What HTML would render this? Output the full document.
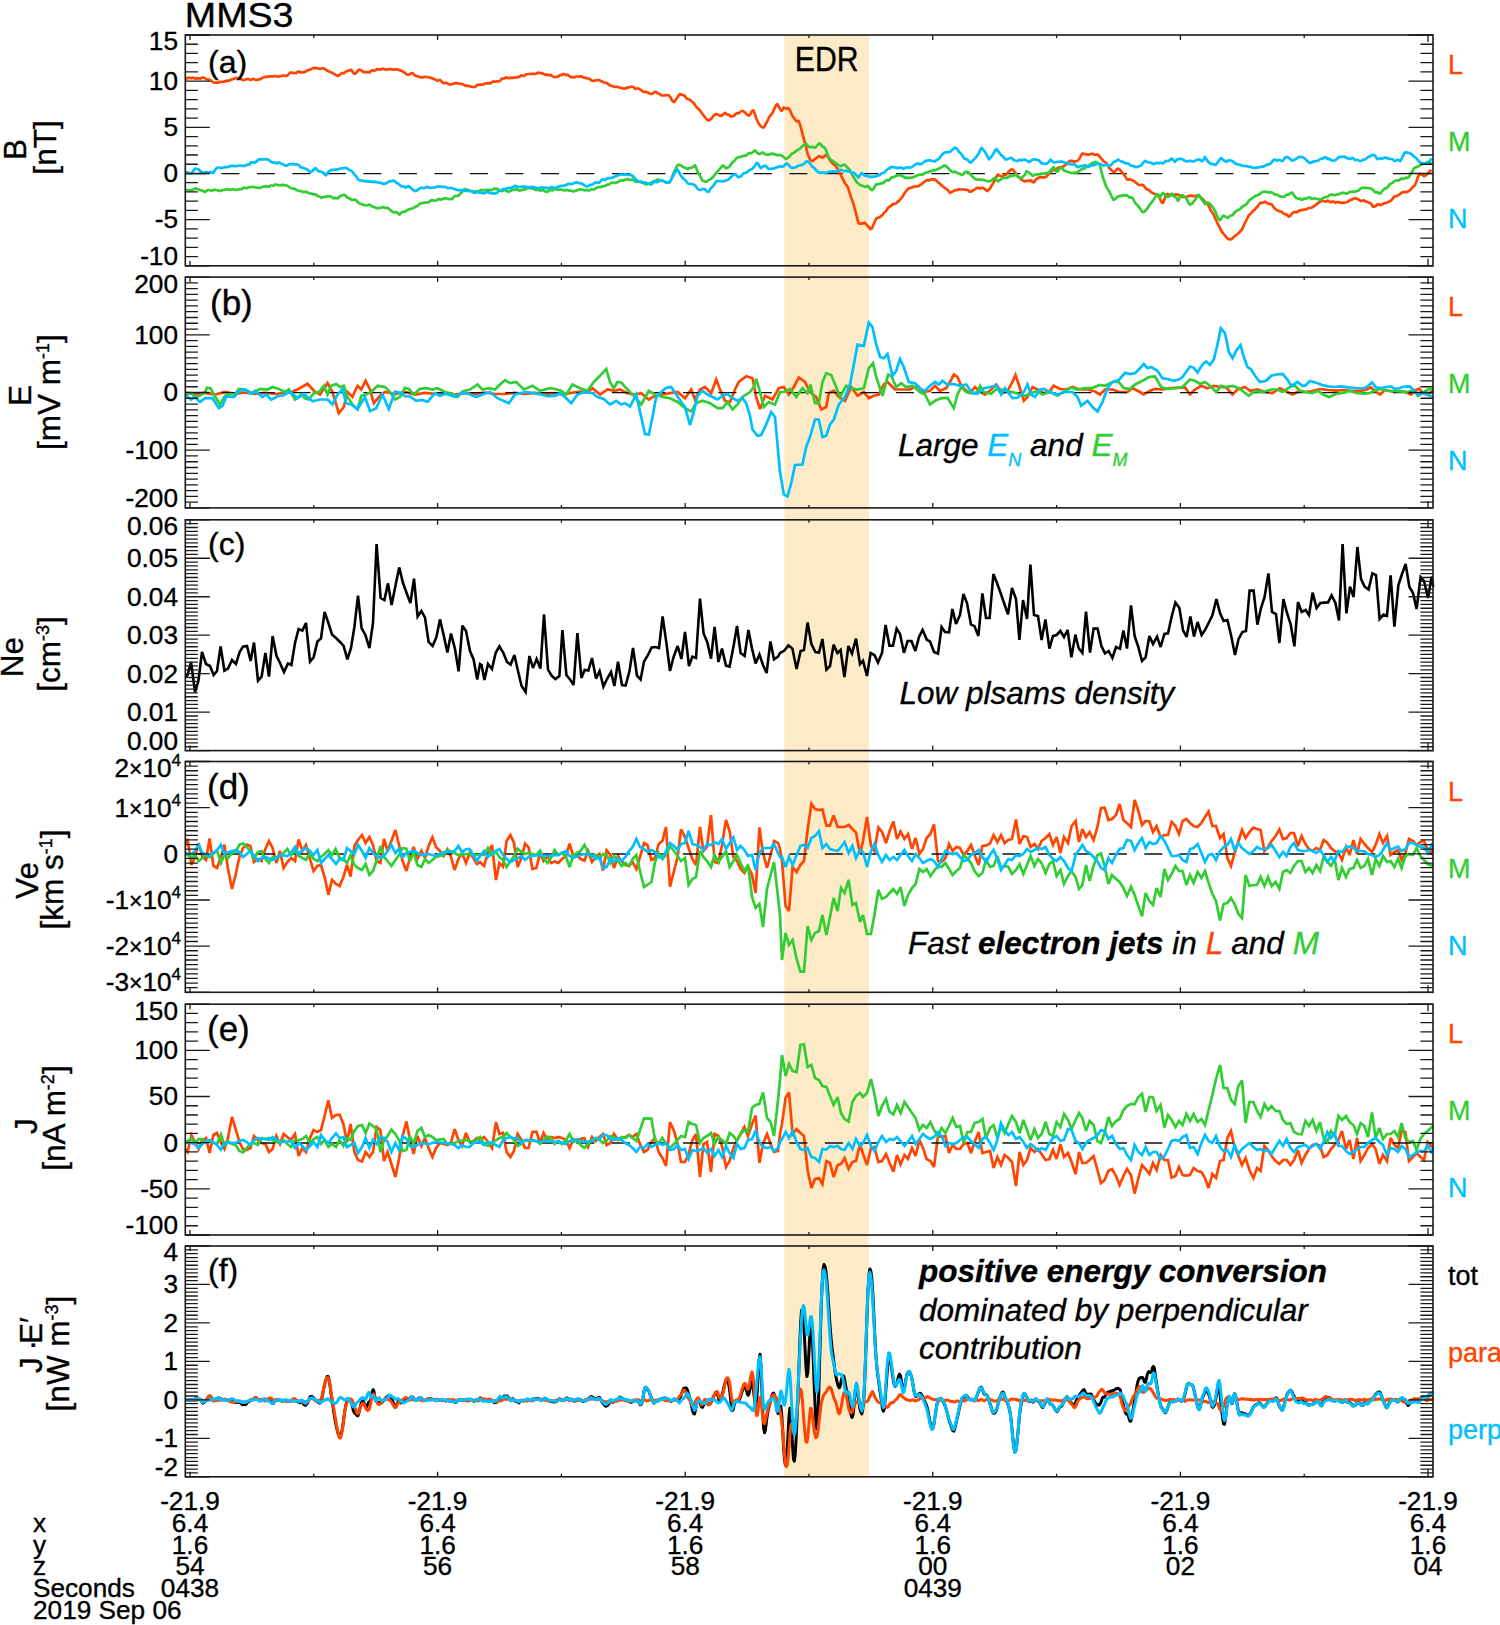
<!DOCTYPE html><html><head><meta charset="utf-8"><title>MMS3</title>
<style>html,body{margin:0;padding:0;background:#fff}svg{display:block}text{font-family:"Liberation Sans",Arial,Helvetica,sans-serif;fill:currentColor;stroke:currentColor;stroke-width:.35px;color:#000}</style></head><body>
<svg width="1500" height="1625" viewBox="0 0 1500 1625">
<rect x="0" y="0" width="1500" height="1625" fill="#fff"/>
<rect x="784.3" y="35.0" width="84.6" height="1441.8" fill="#fdebc8"/>
<defs>
<clipPath id="cp0"><rect x="184.8" y="34.5" width="1249.7" height="231.8"/></clipPath>
<clipPath id="cp1"><rect x="184.8" y="276.6" width="1249.7" height="231.8"/></clipPath>
<clipPath id="cp2"><rect x="184.8" y="519.3" width="1249.7" height="231.8"/></clipPath>
<clipPath id="cp3"><rect x="184.8" y="761.0" width="1249.7" height="231.8"/></clipPath>
<clipPath id="cp4"><rect x="184.8" y="1003.7" width="1249.7" height="231.8"/></clipPath>
<clipPath id="cp5"><rect x="184.8" y="1245.5" width="1249.7" height="231.8"/></clipPath>
</defs>
<line x1="185.9" y1="173.6" x2="1433.0" y2="173.6" stroke="#111" stroke-width="1.3" stroke-dasharray="18 17.5"/>
<polyline clip-path="url(#cp0)" fill="none" stroke="#ff4500" stroke-width="2.7" stroke-linejoin="round" stroke-miterlimit="3" points="185.0,78.8 186.5,78.6 188.0,77.8 189.5,77.7 191.0,78.2 192.5,77.7 194.0,78.1 195.5,78.6 197.0,78.1 198.5,78.3 200.0,78.7 201.5,78.0 203.0,77.4 204.5,78.0 206.0,79.0 207.5,79.4 209.0,79.7 210.5,80.5 212.0,81.3 213.5,82.5 215.0,82.8 216.5,82.5 218.0,82.7 219.5,81.9 221.0,81.9 222.5,81.8 224.0,81.6 225.5,81.1 227.0,80.7 228.5,80.8 230.0,80.2 231.5,79.5 233.0,79.1 234.5,78.5 236.0,78.1 237.5,78.0 239.0,78.1 240.5,78.4 242.0,79.7 243.5,80.1 245.0,79.7 246.5,79.1 248.0,78.8 249.5,79.7 251.0,79.9 252.5,79.0 254.0,79.0 255.5,80.0 257.0,79.9 258.5,79.3 260.0,79.3 261.5,78.5 263.0,77.5 264.5,77.0 266.0,76.9 267.5,76.7 269.0,76.6 270.5,76.4 272.0,76.3 273.5,76.3 275.0,76.0 276.5,76.3 278.0,76.8 279.5,76.3 281.0,76.1 282.5,75.7 284.0,75.6 285.5,75.8 287.0,75.7 288.5,74.3 290.0,72.6 291.5,72.6 293.0,72.8 294.5,73.2 296.0,73.1 297.5,71.9 299.0,71.5 300.5,72.4 302.0,72.4 303.5,72.3 305.0,71.9 306.5,70.9 308.0,70.3 309.5,69.9 311.0,69.2 312.5,68.4 314.0,68.0 315.5,68.1 317.0,68.3 318.5,68.5 320.0,68.9 321.5,68.5 323.0,68.2 324.5,68.7 326.0,69.8 327.5,70.8 329.0,71.4 330.5,72.1 332.0,72.7 333.5,73.7 335.0,74.4 336.5,75.3 338.0,75.9 339.5,75.0 341.0,73.8 342.5,73.0 344.0,73.1 345.5,72.0 347.0,71.0 348.5,70.8 350.0,69.9 351.5,69.9 353.0,72.5 354.5,73.9 356.0,73.1 357.5,71.2 359.0,69.6 360.5,70.0 362.0,70.9 363.5,72.1 365.0,72.2 366.5,72.1 368.0,72.1 369.5,72.5 371.0,70.9 372.5,70.1 374.0,70.9 375.5,70.2 377.0,69.2 378.5,69.3 380.0,69.6 381.5,69.1 383.0,68.7 384.5,69.1 386.0,69.8 387.5,69.3 389.0,69.2 390.5,69.1 392.0,69.2 393.5,69.7 395.0,69.4 396.5,69.3 398.0,69.7 399.5,70.1 401.0,70.6 402.5,71.4 404.0,72.2 405.5,73.4 407.0,74.5 408.5,74.7 410.0,74.3 411.5,73.0 413.0,73.3 414.5,75.3 416.0,76.0 417.5,76.1 419.0,76.8 420.5,77.4 422.0,77.5 423.5,77.1 425.0,76.9 426.5,77.0 428.0,77.2 429.5,77.5 431.0,77.9 432.5,78.4 434.0,79.1 435.5,79.7 437.0,80.6 438.5,80.4 440.0,79.9 441.5,81.4 443.0,83.0 444.5,83.1 446.0,82.8 447.5,83.3 449.0,84.3 450.5,84.6 452.0,84.1 453.5,83.9 455.0,83.1 456.5,83.1 458.0,83.5 459.5,83.7 461.0,83.9 462.5,84.0 464.0,85.0 465.5,85.8 467.0,85.9 468.5,85.9 470.0,86.3 471.5,86.6 473.0,87.0 474.5,87.1 476.0,86.3 477.5,84.9 479.0,84.5 480.5,84.8 482.0,84.5 483.5,84.3 485.0,83.5 486.5,83.3 488.0,83.1 489.5,83.4 491.0,83.1 492.5,81.7 494.0,81.4 495.5,81.7 497.0,81.4 498.5,81.5 500.0,81.0 501.5,78.9 503.0,78.6 504.5,78.4 506.0,77.4 507.5,77.8 509.0,78.3 510.5,77.7 512.0,77.9 513.5,77.8 515.0,77.6 516.5,77.4 518.0,77.1 519.5,76.7 521.0,75.4 522.5,75.9 524.0,75.9 525.5,74.6 527.0,74.3 528.5,74.0 530.0,74.0 531.5,73.9 533.0,73.7 534.5,74.0 536.0,73.7 537.5,72.9 539.0,72.7 540.5,73.2 542.0,73.2 543.5,74.0 545.0,74.6 546.5,74.6 548.0,75.1 549.5,75.1 551.0,75.2 552.5,76.3 554.0,77.2 555.5,76.9 557.0,77.0 558.5,76.3 560.0,75.2 561.5,75.2 563.0,74.0 564.5,74.4 566.0,75.1 567.5,74.6 569.0,75.8 570.5,77.0 572.0,77.1 573.5,77.3 575.0,77.1 576.5,76.5 578.0,76.5 579.5,76.7 581.0,76.2 582.5,77.1 584.0,77.7 585.5,77.9 587.0,78.4 588.5,78.5 590.0,79.2 591.5,80.5 593.0,80.9 594.5,80.8 596.0,80.4 597.5,80.0 599.0,80.0 600.5,80.9 602.0,81.5 603.5,82.2 605.0,82.7 606.5,82.8 608.0,83.9 609.5,85.1 611.0,85.8 612.5,86.3 614.0,86.6 615.5,86.9 617.0,86.8 618.5,87.1 620.0,87.7 621.5,88.0 623.0,88.5 624.5,88.6 626.0,88.1 627.5,87.6 629.0,87.2 630.5,87.0 632.0,86.5 633.5,87.1 635.0,88.8 636.5,88.7 638.0,88.3 639.5,89.2 641.0,89.9 642.5,91.3 644.0,91.9 645.5,91.6 647.0,92.3 648.5,92.8 650.0,93.5 651.5,94.1 653.0,93.3 654.5,92.1 656.0,91.7 657.5,93.2 659.0,93.7 660.5,94.7 662.0,95.5 663.5,95.5 665.0,95.4 666.5,95.1 668.0,95.0 669.5,95.9 671.0,98.3 672.5,101.2 674.0,102.2 675.5,100.1 677.0,98.0 678.5,95.8 680.0,93.8 681.5,94.7 683.0,95.1 684.5,95.6 686.0,97.7 687.5,99.0 689.0,99.3 690.5,100.3 692.0,101.7 693.5,102.9 695.0,104.9 696.5,107.3 698.0,108.4 699.5,109.8 701.0,112.0 702.5,114.0 704.0,116.0 705.5,117.9 707.0,119.6 708.5,120.7 710.0,119.7 711.5,118.6 713.0,116.4 714.5,114.6 716.0,114.2 717.5,114.3 719.0,115.2 720.5,115.9 722.0,115.4 723.5,114.1 725.0,112.8 726.5,114.2 728.0,114.6 729.5,115.2 731.0,116.7 732.5,116.3 734.0,115.9 735.5,113.9 737.0,113.2 738.5,113.4 740.0,112.2 741.5,111.0 743.0,111.0 744.5,112.1 746.0,113.5 747.5,114.9 749.0,115.7 750.5,113.9 752.0,111.2 753.5,110.4 755.0,114.7 756.5,118.8 758.0,122.3 759.5,124.7 761.0,126.4 762.5,127.4 764.0,127.4 765.5,124.7 767.0,121.6 768.5,118.7 770.0,116.0 771.5,114.3 773.0,111.9 774.5,108.4 776.0,105.1 777.5,104.2 779.0,107.0 780.5,110.1 782.0,110.6 783.5,107.6 785.0,108.2 786.5,108.8 788.0,107.9 789.5,109.4 791.0,112.8 792.5,116.1 794.0,118.0 795.5,120.2 797.0,121.6 798.5,120.8 800.0,124.5 801.5,129.8 803.0,135.8 804.5,141.1 806.0,146.6 807.5,153.5 809.0,157.1 810.5,160.3 812.0,161.2 813.5,160.5 815.0,158.8 816.5,158.1 818.0,156.7 819.5,156.1 821.0,157.1 822.5,157.6 824.0,156.6 825.5,155.2 827.0,155.7 828.5,157.7 830.0,160.3 831.5,162.3 833.0,163.7 834.5,164.8 836.0,166.4 837.5,168.9 839.0,171.3 840.5,174.4 842.0,177.3 843.5,180.4 845.0,183.3 846.5,185.1 848.0,187.5 849.5,192.3 851.0,197.1 852.5,201.3 854.0,205.8 855.5,211.6 857.0,217.4 858.5,223.2 860.0,223.8 861.5,223.4 863.0,223.5 864.5,222.6 866.0,224.0 867.5,225.9 869.0,227.1 870.5,229.2 872.0,228.3 873.5,224.5 875.0,221.2 876.5,218.1 878.0,217.7 879.5,217.4 881.0,216.1 882.5,214.9 884.0,213.0 885.5,211.6 887.0,209.6 888.5,207.4 890.0,206.4 891.5,205.5 893.0,204.1 894.5,204.0 896.0,203.4 897.5,201.9 899.0,200.8 900.5,199.2 902.0,197.4 903.5,195.0 905.0,192.4 906.5,190.8 908.0,188.8 909.5,188.0 911.0,187.9 912.5,187.2 914.0,186.5 915.5,186.3 917.0,186.3 918.5,186.2 920.0,184.9 921.5,184.2 923.0,182.9 924.5,181.7 926.0,180.7 927.5,180.0 929.0,180.5 930.5,179.8 932.0,179.1 933.5,179.8 935.0,179.4 936.5,180.7 938.0,182.2 939.5,183.4 941.0,184.8 942.5,186.2 944.0,187.3 945.5,188.4 947.0,189.5 948.5,190.8 950.0,192.8 951.5,192.3 953.0,191.3 954.5,190.4 956.0,190.2 957.5,190.0 959.0,189.2 960.5,189.4 962.0,189.5 963.5,189.5 965.0,189.7 966.5,189.8 968.0,190.1 969.5,191.7 971.0,191.7 972.5,190.6 974.0,190.0 975.5,188.8 977.0,187.9 978.5,187.8 980.0,188.4 981.5,188.0 983.0,187.7 984.5,188.9 986.0,190.1 987.5,191.0 989.0,189.5 990.5,187.6 992.0,184.9 993.5,182.5 995.0,180.0 996.5,176.6 998.0,174.4 999.5,175.8 1001.0,176.3 1002.5,176.1 1004.0,175.3 1005.5,174.8 1007.0,173.9 1008.5,171.9 1010.0,170.4 1011.5,169.3 1013.0,169.8 1014.5,171.9 1016.0,173.6 1017.5,175.9 1019.0,177.3 1020.5,178.8 1022.0,179.9 1023.5,180.8 1025.0,181.4 1026.5,180.8 1028.0,180.6 1029.5,180.9 1031.0,180.4 1032.5,182.1 1034.0,182.1 1035.5,180.0 1037.0,178.5 1038.5,177.8 1040.0,177.4 1041.5,177.3 1043.0,177.3 1044.5,177.4 1046.0,177.0 1047.5,175.2 1049.0,173.8 1050.5,172.1 1052.0,170.4 1053.5,170.1 1055.0,170.0 1056.5,169.1 1058.0,167.9 1059.5,167.3 1061.0,167.4 1062.5,166.7 1064.0,166.1 1065.5,165.0 1067.0,163.6 1068.5,162.1 1070.0,160.9 1071.5,160.9 1073.0,161.1 1074.5,161.6 1076.0,161.3 1077.5,161.0 1079.0,159.0 1080.5,156.6 1082.0,153.9 1083.5,153.7 1085.0,154.1 1086.5,154.4 1088.0,154.8 1089.5,154.3 1091.0,154.0 1092.5,153.8 1094.0,154.6 1095.5,154.8 1097.0,154.4 1098.5,155.0 1100.0,157.1 1101.5,158.8 1103.0,160.7 1104.5,161.9 1106.0,162.8 1107.5,164.6 1109.0,167.6 1110.5,169.3 1112.0,170.7 1113.5,172.3 1115.0,171.4 1116.5,169.7 1118.0,168.7 1119.5,169.5 1121.0,171.0 1122.5,172.8 1124.0,174.5 1125.5,176.9 1127.0,179.4 1128.5,179.7 1130.0,179.1 1131.5,179.9 1133.0,180.6 1134.5,181.5 1136.0,182.7 1137.5,184.1 1139.0,185.0 1140.5,185.0 1142.0,184.9 1143.5,185.4 1145.0,187.3 1146.5,189.1 1148.0,189.6 1149.5,190.7 1151.0,191.9 1152.5,193.0 1154.0,193.8 1155.5,194.1 1157.0,195.1 1158.5,195.9 1160.0,199.0 1161.5,202.2 1163.0,202.9 1164.5,199.2 1166.0,194.7 1167.5,193.9 1169.0,194.7 1170.5,195.2 1172.0,195.0 1173.5,194.7 1175.0,194.8 1176.5,194.4 1178.0,194.5 1179.5,195.6 1181.0,196.4 1182.5,197.1 1184.0,196.6 1185.5,197.1 1187.0,196.7 1188.5,196.1 1190.0,195.7 1191.5,195.5 1193.0,196.2 1194.5,196.3 1196.0,195.7 1197.5,195.4 1199.0,196.0 1200.5,197.2 1202.0,198.5 1203.5,200.0 1205.0,201.8 1206.5,203.1 1208.0,204.3 1209.5,207.4 1211.0,211.1 1212.5,212.7 1214.0,215.2 1215.5,218.9 1217.0,222.2 1218.5,225.4 1220.0,228.2 1221.5,231.2 1223.0,233.1 1224.5,235.0 1226.0,236.9 1227.5,238.6 1229.0,239.1 1230.5,239.5 1232.0,238.8 1233.5,237.2 1235.0,235.8 1236.5,234.9 1238.0,233.7 1239.5,232.2 1241.0,230.6 1242.5,228.6 1244.0,224.9 1245.5,222.0 1247.0,219.0 1248.5,215.8 1250.0,214.3 1251.5,212.5 1253.0,211.0 1254.5,209.9 1256.0,208.0 1257.5,206.5 1259.0,204.3 1260.5,202.7 1262.0,202.9 1263.5,202.5 1265.0,201.7 1266.5,202.6 1268.0,203.6 1269.5,203.8 1271.0,204.0 1272.5,205.5 1274.0,207.7 1275.5,209.2 1277.0,210.1 1278.5,210.8 1280.0,211.5 1281.5,211.6 1283.0,213.1 1284.5,214.1 1286.0,214.1 1287.5,215.4 1289.0,216.6 1290.5,215.7 1292.0,213.5 1293.5,212.2 1295.0,212.1 1296.5,212.4 1298.0,211.3 1299.5,210.3 1301.0,210.3 1302.5,209.9 1304.0,209.7 1305.5,209.5 1307.0,208.9 1308.5,208.1 1310.0,208.0 1311.5,207.7 1313.0,206.9 1314.5,205.8 1316.0,204.7 1317.5,203.7 1319.0,202.2 1320.5,201.3 1322.0,200.7 1323.5,201.0 1325.0,201.6 1326.5,201.4 1328.0,200.5 1329.5,201.6 1331.0,202.4 1332.5,201.5 1334.0,201.7 1335.5,202.8 1337.0,202.1 1338.5,202.0 1340.0,202.6 1341.5,202.8 1343.0,202.9 1344.5,202.5 1346.0,202.3 1347.5,202.0 1349.0,200.8 1350.5,199.8 1352.0,199.6 1353.5,198.6 1355.0,197.9 1356.5,198.8 1358.0,199.0 1359.5,200.1 1361.0,201.2 1362.5,200.8 1364.0,200.4 1365.5,201.4 1367.0,201.8 1368.5,202.4 1370.0,203.0 1371.5,204.3 1373.0,206.7 1374.5,206.6 1376.0,205.8 1377.5,204.3 1379.0,204.3 1380.5,205.0 1382.0,204.5 1383.5,203.8 1385.0,203.1 1386.5,202.9 1388.0,202.0 1389.5,201.5 1391.0,200.7 1392.5,198.9 1394.0,196.8 1395.5,196.2 1397.0,195.9 1398.5,195.1 1400.0,194.2 1401.5,192.6 1403.0,192.3 1404.5,191.9 1406.0,192.1 1407.5,191.9 1409.0,190.9 1410.5,189.8 1412.0,187.8 1413.5,186.4 1415.0,185.1 1416.5,181.3 1418.0,177.0 1419.5,173.9 1421.0,174.2 1422.5,175.0 1424.0,176.2 1425.5,175.5 1427.0,174.4 1428.5,172.8 1430.0,171.0 1431.5,169.7"/>
<polyline clip-path="url(#cp0)" fill="none" stroke="#32cd32" stroke-width="2.7" stroke-linejoin="round" stroke-miterlimit="3" points="185.0,190.0 186.5,190.0 188.0,190.0 189.5,190.3 191.0,190.2 192.5,189.9 194.0,189.2 195.5,188.4 197.0,188.7 198.5,189.6 200.0,190.2 201.5,190.3 203.0,190.9 204.5,192.0 206.0,191.3 207.5,190.0 209.0,190.0 210.5,190.5 212.0,190.6 213.5,190.0 215.0,189.7 216.5,190.2 218.0,190.4 219.5,190.8 221.0,190.8 222.5,190.0 224.0,189.9 225.5,189.7 227.0,189.2 228.5,189.4 230.0,190.0 231.5,189.5 233.0,189.2 234.5,189.6 236.0,190.0 237.5,189.7 239.0,189.4 240.5,189.1 242.0,188.9 243.5,187.9 245.0,187.7 246.5,188.4 248.0,187.5 249.5,187.0 251.0,187.3 252.5,187.0 254.0,186.9 255.5,187.5 257.0,187.7 258.5,187.9 260.0,187.9 261.5,187.3 263.0,186.7 264.5,186.3 266.0,186.2 267.5,186.6 269.0,186.6 270.5,185.5 272.0,185.5 273.5,185.8 275.0,184.5 276.5,184.7 278.0,185.2 279.5,185.2 281.0,185.4 282.5,184.7 284.0,185.2 285.5,185.3 287.0,185.5 288.5,186.7 290.0,187.6 291.5,188.3 293.0,188.6 294.5,188.6 296.0,189.8 297.5,190.5 299.0,190.8 300.5,191.2 302.0,191.3 303.5,192.2 305.0,191.8 306.5,191.9 308.0,192.9 309.5,193.4 311.0,193.5 312.5,193.9 314.0,194.4 315.5,194.4 317.0,195.5 318.5,196.2 320.0,196.9 321.5,197.8 323.0,197.3 324.5,196.8 326.0,196.8 327.5,196.3 329.0,196.3 330.5,196.4 332.0,197.3 333.5,198.3 335.0,197.9 336.5,198.1 338.0,198.3 339.5,196.5 341.0,195.7 342.5,195.4 344.0,194.7 345.5,195.7 347.0,197.2 348.5,198.1 350.0,198.6 351.5,199.8 353.0,200.0 354.5,199.4 356.0,200.1 357.5,201.8 359.0,203.3 360.5,203.7 362.0,204.2 363.5,205.0 365.0,205.2 366.5,205.5 368.0,205.0 369.5,204.5 371.0,205.6 372.5,206.5 374.0,206.9 375.5,207.8 377.0,208.2 378.5,208.2 380.0,208.1 381.5,207.4 383.0,207.1 384.5,207.6 386.0,208.0 387.5,207.7 389.0,209.1 390.5,210.2 392.0,211.3 393.5,212.3 395.0,212.4 396.5,212.1 398.0,213.4 399.5,214.7 401.0,212.9 402.5,211.7 404.0,212.0 405.5,211.2 407.0,210.4 408.5,209.5 410.0,208.9 411.5,208.8 413.0,208.2 414.5,207.3 416.0,206.5 417.5,205.9 419.0,204.6 420.5,203.3 422.0,203.2 423.5,202.9 425.0,202.6 426.5,202.5 428.0,202.5 429.5,201.8 431.0,200.3 432.5,200.1 434.0,200.8 435.5,200.5 437.0,200.1 438.5,199.1 440.0,199.2 441.5,199.7 443.0,198.8 444.5,198.4 446.0,198.4 447.5,198.8 449.0,199.1 450.5,199.2 452.0,199.1 453.5,197.4 455.0,195.8 456.5,195.8 458.0,195.9 459.5,194.5 461.0,193.1 462.5,191.5 464.0,189.5 465.5,189.0 467.0,189.9 468.5,190.4 470.0,190.7 471.5,191.0 473.0,191.2 474.5,191.7 476.0,191.4 477.5,191.4 479.0,191.1 480.5,190.0 482.0,190.2 483.5,190.1 485.0,190.2 486.5,189.9 488.0,189.8 489.5,189.9 491.0,190.2 492.5,189.8 494.0,188.6 495.5,188.9 497.0,188.7 498.5,189.4 500.0,190.8 501.5,191.1 503.0,190.7 504.5,190.0 506.0,190.6 507.5,191.5 509.0,191.7 510.5,190.8 512.0,189.8 513.5,189.9 515.0,189.4 516.5,189.2 518.0,190.0 519.5,190.6 521.0,190.1 522.5,189.9 524.0,189.7 525.5,188.9 527.0,188.5 528.5,188.2 530.0,188.0 531.5,188.3 533.0,188.7 534.5,189.3 536.0,190.0 537.5,189.9 539.0,190.3 540.5,190.8 542.0,190.0 543.5,190.2 545.0,191.3 546.5,191.8 548.0,191.6 549.5,190.2 551.0,189.9 552.5,190.4 554.0,189.1 555.5,188.9 557.0,189.8 558.5,189.6 560.0,189.6 561.5,189.6 563.0,190.2 564.5,190.3 566.0,189.9 567.5,190.3 569.0,190.7 570.5,190.4 572.0,191.0 573.5,191.6 575.0,190.9 576.5,190.6 578.0,190.0 579.5,189.4 581.0,189.4 582.5,189.7 584.0,190.1 585.5,190.3 587.0,189.9 588.5,190.5 590.0,190.2 591.5,189.0 593.0,189.5 594.5,189.3 596.0,188.0 597.5,187.4 599.0,187.2 600.5,187.1 602.0,186.6 603.5,186.1 605.0,186.0 606.5,185.1 608.0,184.5 609.5,184.3 611.0,183.0 612.5,182.5 614.0,182.8 615.5,182.9 617.0,182.4 618.5,181.7 620.0,180.7 621.5,180.2 623.0,180.8 624.5,180.0 626.0,179.5 627.5,179.1 629.0,179.6 630.5,180.0 632.0,179.5 633.5,179.8 635.0,181.5 636.5,181.9 638.0,181.5 639.5,181.8 641.0,182.3 642.5,183.0 644.0,183.3 645.5,184.1 647.0,184.3 648.5,183.7 650.0,183.5 651.5,182.8 653.0,181.5 654.5,181.1 656.0,180.5 657.5,179.5 659.0,179.9 660.5,180.4 662.0,180.9 663.5,181.1 665.0,181.8 666.5,182.8 668.0,182.7 669.5,182.5 671.0,179.9 672.5,175.7 674.0,172.4 675.5,169.4 677.0,165.7 678.5,164.7 680.0,165.1 681.5,165.8 683.0,166.9 684.5,167.6 686.0,168.0 687.5,169.3 689.0,168.1 690.5,167.9 692.0,167.5 693.5,166.7 695.0,165.2 696.5,168.7 698.0,172.5 699.5,174.9 701.0,177.8 702.5,180.6 704.0,180.9 705.5,181.9 707.0,181.5 708.5,180.1 710.0,179.4 711.5,178.5 713.0,177.1 714.5,175.1 716.0,173.4 717.5,171.4 719.0,169.9 720.5,168.0 722.0,166.1 723.5,165.6 725.0,167.5 726.5,168.3 728.0,167.5 729.5,166.4 731.0,164.4 732.5,162.4 734.0,161.2 735.5,159.6 737.0,157.5 738.5,157.3 740.0,157.2 741.5,156.5 743.0,155.9 744.5,155.6 746.0,155.7 747.5,154.3 749.0,153.0 750.5,153.2 752.0,152.9 753.5,151.4 755.0,150.4 756.5,152.1 758.0,153.6 759.5,154.0 761.0,153.4 762.5,152.4 764.0,153.4 765.5,154.4 767.0,154.7 768.5,154.8 770.0,154.4 771.5,153.6 773.0,153.7 774.5,154.4 776.0,154.6 777.5,155.3 779.0,154.9 780.5,155.1 782.0,155.9 783.5,156.8 785.0,158.4 786.5,159.0 788.0,157.8 789.5,156.6 791.0,154.7 792.5,153.3 794.0,152.7 795.5,151.4 797.0,150.3 798.5,149.6 800.0,148.7 801.5,147.0 803.0,145.7 804.5,144.5 806.0,143.7 807.5,145.4 809.0,147.1 810.5,147.1 812.0,146.7 813.5,147.0 815.0,147.7 816.5,146.4 818.0,144.5 819.5,143.3 821.0,144.6 822.5,146.7 824.0,147.2 825.5,148.9 827.0,153.0 828.5,156.8 830.0,158.8 831.5,160.2 833.0,161.2 834.5,162.1 836.0,163.4 837.5,164.6 839.0,165.4 840.5,166.2 842.0,165.4 843.5,164.8 845.0,164.8 846.5,166.7 848.0,168.2 849.5,169.6 851.0,172.4 852.5,175.5 854.0,177.6 855.5,180.3 857.0,182.5 858.5,183.5 860.0,184.9 861.5,185.6 863.0,185.9 864.5,186.6 866.0,186.8 867.5,185.8 869.0,187.2 870.5,189.1 872.0,190.2 873.5,188.8 875.0,186.0 876.5,184.2 878.0,184.3 879.5,183.7 881.0,183.4 882.5,183.3 884.0,182.4 885.5,180.7 887.0,180.1 888.5,180.6 890.0,179.2 891.5,177.4 893.0,177.2 894.5,176.9 896.0,175.7 897.5,175.6 899.0,175.0 900.5,175.4 902.0,175.9 903.5,176.7 905.0,177.8 906.5,177.7 908.0,177.8 909.5,177.8 911.0,177.7 912.5,177.4 914.0,177.0 915.5,176.1 917.0,175.6 918.5,174.9 920.0,174.5 921.5,174.7 923.0,174.4 924.5,173.4 926.0,172.4 927.5,172.5 929.0,172.0 930.5,171.1 932.0,170.7 933.5,170.4 935.0,170.3 936.5,169.6 938.0,168.9 939.5,168.3 941.0,167.6 942.5,166.7 944.0,165.6 945.5,165.5 947.0,167.0 948.5,168.5 950.0,169.9 951.5,171.6 953.0,172.2 954.5,171.5 956.0,172.3 957.5,173.2 959.0,173.5 960.5,174.3 962.0,174.9 963.5,174.1 965.0,172.1 966.5,171.6 968.0,172.2 969.5,173.3 971.0,174.8 972.5,176.6 974.0,178.2 975.5,179.3 977.0,179.8 978.5,179.5 980.0,179.4 981.5,179.8 983.0,179.8 984.5,180.3 986.0,180.8 987.5,181.0 989.0,181.5 990.5,181.0 992.0,180.0 993.5,178.6 995.0,177.8 996.5,179.8 998.0,181.4 999.5,180.5 1001.0,179.2 1002.5,178.4 1004.0,178.0 1005.5,177.9 1007.0,177.6 1008.5,177.1 1010.0,176.0 1011.5,175.9 1013.0,176.0 1014.5,175.1 1016.0,174.6 1017.5,176.4 1019.0,177.6 1020.5,178.1 1022.0,177.6 1023.5,176.2 1025.0,174.6 1026.5,171.3 1028.0,171.7 1029.5,173.3 1031.0,173.9 1032.5,175.7 1034.0,175.2 1035.5,174.6 1037.0,174.2 1038.5,174.5 1040.0,174.1 1041.5,173.6 1043.0,173.9 1044.5,173.7 1046.0,173.0 1047.5,173.4 1049.0,172.3 1050.5,170.4 1052.0,168.7 1053.5,167.1 1055.0,169.1 1056.5,171.8 1058.0,171.3 1059.5,168.6 1061.0,167.5 1062.5,169.0 1064.0,170.5 1065.5,171.0 1067.0,171.7 1068.5,172.0 1070.0,172.6 1071.5,173.1 1073.0,172.9 1074.5,172.7 1076.0,172.9 1077.5,172.3 1079.0,171.0 1080.5,170.1 1082.0,168.9 1083.5,168.6 1085.0,168.1 1086.5,167.1 1088.0,166.0 1089.5,165.0 1091.0,163.8 1092.5,162.8 1094.0,162.8 1095.5,161.8 1097.0,162.5 1098.5,164.1 1100.0,165.3 1101.5,172.1 1103.0,177.4 1104.5,181.7 1106.0,186.1 1107.5,189.0 1109.0,191.0 1110.5,194.0 1112.0,197.4 1113.5,199.9 1115.0,199.1 1116.5,197.8 1118.0,196.5 1119.5,195.9 1121.0,196.1 1122.5,195.4 1124.0,195.2 1125.5,195.5 1127.0,195.3 1128.5,196.6 1130.0,197.7 1131.5,197.2 1133.0,198.7 1134.5,201.6 1136.0,204.0 1137.5,205.3 1139.0,207.1 1140.5,209.3 1142.0,211.5 1143.5,212.3 1145.0,211.0 1146.5,209.4 1148.0,207.6 1149.5,205.0 1151.0,203.1 1152.5,201.3 1154.0,199.3 1155.5,196.7 1157.0,194.2 1158.5,195.2 1160.0,197.6 1161.5,194.7 1163.0,192.9 1164.5,194.3 1166.0,196.3 1167.5,197.0 1169.0,196.7 1170.5,194.6 1172.0,193.7 1173.5,196.0 1175.0,197.1 1176.5,197.7 1178.0,200.8 1179.5,198.4 1181.0,195.3 1182.5,195.1 1184.0,196.5 1185.5,197.3 1187.0,199.7 1188.5,202.7 1190.0,204.8 1191.5,204.1 1193.0,202.4 1194.5,200.6 1196.0,198.8 1197.5,196.0 1199.0,194.8 1200.5,197.8 1202.0,199.9 1203.5,201.8 1205.0,204.0 1206.5,203.3 1208.0,202.6 1209.5,203.4 1211.0,205.0 1212.5,206.9 1214.0,209.1 1215.5,211.8 1217.0,215.9 1218.5,218.9 1220.0,220.4 1221.5,218.4 1223.0,215.7 1224.5,216.1 1226.0,216.9 1227.5,218.0 1229.0,216.9 1230.5,215.5 1232.0,215.4 1233.5,214.1 1235.0,212.0 1236.5,210.7 1238.0,210.2 1239.5,209.4 1241.0,208.0 1242.5,206.5 1244.0,205.6 1245.5,204.9 1247.0,203.5 1248.5,201.3 1250.0,199.7 1251.5,198.8 1253.0,197.5 1254.5,196.5 1256.0,195.6 1257.5,195.2 1259.0,194.6 1260.5,193.4 1262.0,192.2 1263.5,191.8 1265.0,191.5 1266.5,192.1 1268.0,192.4 1269.5,192.1 1271.0,192.3 1272.5,192.8 1274.0,194.1 1275.5,194.6 1277.0,194.6 1278.5,195.6 1280.0,196.5 1281.5,196.6 1283.0,197.0 1284.5,196.6 1286.0,195.1 1287.5,194.6 1289.0,194.5 1290.5,193.0 1292.0,192.5 1293.5,194.5 1295.0,196.8 1296.5,198.3 1298.0,198.6 1299.5,198.6 1301.0,199.7 1302.5,199.7 1304.0,198.7 1305.5,198.7 1307.0,198.4 1308.5,197.5 1310.0,197.4 1311.5,199.0 1313.0,198.8 1314.5,198.1 1316.0,198.9 1317.5,199.0 1319.0,199.3 1320.5,199.9 1322.0,198.7 1323.5,197.9 1325.0,197.4 1326.5,197.1 1328.0,196.5 1329.5,195.0 1331.0,194.7 1332.5,194.7 1334.0,195.2 1335.5,195.1 1337.0,194.4 1338.5,194.4 1340.0,193.7 1341.5,193.0 1343.0,192.7 1344.5,193.0 1346.0,193.7 1347.5,193.4 1349.0,192.4 1350.5,191.9 1352.0,191.6 1353.5,191.8 1355.0,191.7 1356.5,191.1 1358.0,190.9 1359.5,189.5 1361.0,188.2 1362.5,187.7 1364.0,187.9 1365.5,187.7 1367.0,188.0 1368.5,188.1 1370.0,188.3 1371.5,188.8 1373.0,189.8 1374.5,191.8 1376.0,192.5 1377.5,192.1 1379.0,193.4 1380.5,193.5 1382.0,191.3 1383.5,189.7 1385.0,188.1 1386.5,188.3 1388.0,186.9 1389.5,184.3 1391.0,183.6 1392.5,182.8 1394.0,181.5 1395.5,180.5 1397.0,180.4 1398.5,180.6 1400.0,179.6 1401.5,178.4 1403.0,179.0 1404.5,178.4 1406.0,177.6 1407.5,177.8 1409.0,176.8 1410.5,174.5 1412.0,172.1 1413.5,169.0 1415.0,167.5 1416.5,167.1 1418.0,166.5 1419.5,165.6 1421.0,164.7 1422.5,163.8 1424.0,164.0 1425.5,163.1 1427.0,162.1 1428.5,162.3 1430.0,163.3 1431.5,162.2"/>
<polyline clip-path="url(#cp0)" fill="none" stroke="#00bfff" stroke-width="2.7" stroke-linejoin="round" stroke-miterlimit="3" points="185.0,173.1 186.5,172.3 188.0,172.5 189.5,173.5 191.0,173.7 192.5,172.0 194.0,169.8 195.5,168.6 197.0,169.0 198.5,169.3 200.0,170.8 201.5,171.9 203.0,172.6 204.5,173.1 206.0,171.9 207.5,172.6 209.0,172.9 210.5,172.0 212.0,172.9 213.5,172.7 215.0,170.0 216.5,168.2 218.0,167.5 219.5,167.5 221.0,168.3 222.5,167.8 224.0,167.4 225.5,167.1 227.0,167.1 228.5,166.9 230.0,165.8 231.5,166.1 233.0,165.8 234.5,166.2 236.0,166.2 237.5,165.8 239.0,165.7 240.5,165.5 242.0,165.9 243.5,165.7 245.0,165.8 246.5,164.9 248.0,164.6 249.5,164.5 251.0,162.3 252.5,162.3 254.0,162.8 255.5,162.0 257.0,161.2 258.5,159.5 260.0,159.2 261.5,159.3 263.0,159.3 264.5,159.3 266.0,159.2 267.5,159.4 269.0,160.1 270.5,161.4 272.0,162.4 273.5,162.7 275.0,162.4 276.5,163.4 278.0,162.9 279.5,162.4 281.0,163.7 282.5,164.2 284.0,164.8 285.5,165.6 287.0,165.6 288.5,164.8 290.0,164.0 291.5,164.2 293.0,163.9 294.5,164.2 296.0,164.7 297.5,164.3 299.0,165.2 300.5,167.2 302.0,167.7 303.5,167.9 305.0,168.6 306.5,169.1 308.0,170.0 309.5,171.4 311.0,171.9 312.5,171.1 314.0,169.2 315.5,168.2 317.0,169.8 318.5,171.3 320.0,171.4 321.5,171.8 323.0,172.5 324.5,174.2 326.0,175.3 327.5,172.8 329.0,171.1 330.5,170.4 332.0,169.9 333.5,169.9 335.0,169.7 336.5,169.7 338.0,169.4 339.5,168.7 341.0,168.5 342.5,168.3 344.0,168.1 345.5,167.8 347.0,168.3 348.5,169.4 350.0,170.2 351.5,170.9 353.0,172.7 354.5,174.7 356.0,175.9 357.5,178.6 359.0,180.2 360.5,180.5 362.0,180.6 363.5,180.8 365.0,181.1 366.5,181.5 368.0,181.6 369.5,181.2 371.0,181.6 372.5,181.9 374.0,181.6 375.5,181.8 377.0,182.2 378.5,182.7 380.0,182.7 381.5,183.0 383.0,183.9 384.5,184.0 386.0,183.1 387.5,182.6 389.0,181.5 390.5,181.1 392.0,181.2 393.5,180.4 395.0,181.3 396.5,183.0 398.0,183.5 399.5,184.7 401.0,186.3 402.5,186.0 404.0,186.8 405.5,187.7 407.0,186.7 408.5,186.0 410.0,187.2 411.5,188.4 413.0,189.9 414.5,190.9 416.0,190.8 417.5,190.3 419.0,188.8 420.5,187.8 422.0,187.7 423.5,188.1 425.0,187.8 426.5,186.9 428.0,187.3 429.5,187.9 431.0,187.8 432.5,187.5 434.0,187.5 435.5,187.3 437.0,186.7 438.5,186.3 440.0,186.7 441.5,186.7 443.0,186.8 444.5,186.8 446.0,187.0 447.5,188.1 449.0,188.0 450.5,187.9 452.0,188.3 453.5,188.7 455.0,189.1 456.5,189.7 458.0,190.1 459.5,190.1 461.0,190.4 462.5,190.0 464.0,190.3 465.5,190.9 467.0,190.8 468.5,190.8 470.0,191.1 471.5,191.3 473.0,192.1 474.5,193.0 476.0,192.2 477.5,192.0 479.0,192.6 480.5,192.4 482.0,192.8 483.5,193.4 485.0,192.9 486.5,192.1 488.0,192.0 489.5,192.9 491.0,193.2 492.5,193.3 494.0,193.3 495.5,193.3 497.0,192.7 498.5,191.3 500.0,190.6 501.5,190.2 503.0,189.0 504.5,189.0 506.0,189.0 507.5,188.1 509.0,188.1 510.5,187.9 512.0,187.6 513.5,186.8 515.0,185.9 516.5,186.3 518.0,187.0 519.5,187.0 521.0,186.7 522.5,186.5 524.0,186.6 525.5,186.8 527.0,186.9 528.5,187.5 530.0,187.0 531.5,186.9 533.0,187.4 534.5,187.2 536.0,187.9 537.5,188.3 539.0,188.3 540.5,187.6 542.0,187.2 543.5,187.7 545.0,187.6 546.5,187.9 548.0,188.5 549.5,187.9 551.0,187.3 552.5,187.2 554.0,188.0 555.5,188.1 557.0,187.2 558.5,186.8 560.0,186.0 561.5,185.8 563.0,185.9 564.5,185.6 566.0,185.0 567.5,184.2 569.0,183.7 570.5,184.0 572.0,184.2 573.5,183.3 575.0,182.8 576.5,182.3 578.0,182.7 579.5,183.4 581.0,183.1 582.5,183.9 584.0,185.2 585.5,186.1 587.0,186.5 588.5,186.2 590.0,184.8 591.5,184.6 593.0,184.2 594.5,182.9 596.0,182.4 597.5,182.6 599.0,182.7 600.5,181.4 602.0,179.4 603.5,179.7 605.0,179.9 606.5,178.8 608.0,178.2 609.5,178.1 611.0,178.2 612.5,177.5 614.0,176.9 615.5,176.4 617.0,175.4 618.5,175.3 620.0,174.8 621.5,174.1 623.0,174.9 624.5,174.6 626.0,174.3 627.5,174.9 629.0,174.8 630.5,174.8 632.0,175.5 633.5,177.0 635.0,178.5 636.5,179.9 638.0,181.3 639.5,181.5 641.0,181.5 642.5,182.2 644.0,182.7 645.5,182.6 647.0,183.2 648.5,183.6 650.0,184.2 651.5,184.4 653.0,182.9 654.5,181.6 656.0,181.8 657.5,182.2 659.0,181.2 660.5,180.8 662.0,180.3 663.5,180.9 665.0,182.0 666.5,182.5 668.0,182.1 669.5,182.1 671.0,180.0 672.5,176.8 674.0,174.1 675.5,171.8 677.0,168.9 678.5,171.2 680.0,174.3 681.5,176.4 683.0,178.3 684.5,179.4 686.0,180.9 687.5,183.2 689.0,183.8 690.5,184.0 692.0,184.2 693.5,184.5 695.0,185.3 696.5,187.2 698.0,189.3 699.5,189.8 701.0,189.8 702.5,189.1 704.0,189.0 705.5,189.7 707.0,191.5 708.5,192.0 710.0,189.6 711.5,187.5 713.0,186.2 714.5,184.0 716.0,181.8 717.5,181.0 719.0,181.0 720.5,181.2 722.0,181.3 723.5,181.3 725.0,180.8 726.5,180.1 728.0,179.8 729.5,178.6 731.0,176.9 732.5,175.5 734.0,174.6 735.5,174.3 737.0,175.9 738.5,177.2 740.0,176.8 741.5,175.8 743.0,173.7 744.5,173.1 746.0,172.9 747.5,171.7 749.0,170.3 750.5,169.9 752.0,169.0 753.5,167.5 755.0,165.5 756.5,163.2 758.0,163.3 759.5,166.3 761.0,168.1 762.5,166.9 764.0,166.0 765.5,165.6 767.0,167.4 768.5,168.9 770.0,168.9 771.5,168.7 773.0,168.7 774.5,168.3 776.0,167.4 777.5,167.3 779.0,166.5 780.5,166.3 782.0,166.9 783.5,166.2 785.0,164.8 786.5,163.4 788.0,164.3 789.5,165.9 791.0,167.6 792.5,167.8 794.0,167.8 795.5,167.3 797.0,166.4 798.5,165.8 800.0,165.3 801.5,165.1 803.0,164.5 804.5,163.3 806.0,161.8 807.5,161.2 809.0,162.6 810.5,164.1 812.0,166.5 813.5,167.3 815.0,168.8 816.5,170.8 818.0,172.0 819.5,172.8 821.0,172.9 822.5,172.4 824.0,172.6 825.5,172.9 827.0,172.6 828.5,171.9 830.0,171.5 831.5,171.7 833.0,171.4 834.5,171.8 836.0,171.6 837.5,170.5 839.0,170.3 840.5,169.9 842.0,170.0 843.5,171.2 845.0,171.0 846.5,170.7 848.0,171.5 849.5,171.2 851.0,172.1 852.5,173.0 854.0,172.9 855.5,174.3 857.0,175.8 858.5,177.5 860.0,175.3 861.5,172.9 863.0,174.0 864.5,175.5 866.0,175.9 867.5,175.9 869.0,176.8 870.5,176.7 872.0,176.8 873.5,176.7 875.0,176.7 876.5,176.1 878.0,175.3 879.5,175.2 881.0,173.9 882.5,173.0 884.0,173.0 885.5,171.2 887.0,169.6 888.5,168.9 890.0,167.8 891.5,167.0 893.0,167.1 894.5,167.5 896.0,167.4 897.5,168.2 899.0,167.9 900.5,167.4 902.0,168.0 903.5,168.8 905.0,168.1 906.5,167.3 908.0,167.5 909.5,167.7 911.0,167.3 912.5,166.6 914.0,165.5 915.5,164.5 917.0,163.6 918.5,163.5 920.0,164.4 921.5,164.0 923.0,162.8 924.5,161.5 926.0,160.7 927.5,160.7 929.0,160.3 930.5,160.4 932.0,160.8 933.5,161.1 935.0,161.5 936.5,160.0 938.0,159.4 939.5,158.1 941.0,156.0 942.5,154.2 944.0,152.7 945.5,152.3 947.0,152.3 948.5,152.0 950.0,151.9 951.5,150.6 953.0,149.2 954.5,147.8 956.0,147.9 957.5,149.6 959.0,151.9 960.5,153.1 962.0,154.8 963.5,157.3 965.0,159.0 966.5,159.1 968.0,160.1 969.5,162.0 971.0,162.6 972.5,160.9 974.0,159.4 975.5,157.9 977.0,156.0 978.5,153.8 980.0,150.6 981.5,147.8 983.0,149.5 984.5,151.2 986.0,153.6 987.5,156.7 989.0,159.3 990.5,157.6 992.0,156.1 993.5,153.6 995.0,150.6 996.5,149.0 998.0,151.1 999.5,153.0 1001.0,154.9 1002.5,156.1 1004.0,157.5 1005.5,159.5 1007.0,159.5 1008.5,158.5 1010.0,158.2 1011.5,157.9 1013.0,159.3 1014.5,160.4 1016.0,160.8 1017.5,161.1 1019.0,159.8 1020.5,160.0 1022.0,160.4 1023.5,159.5 1025.0,159.7 1026.5,160.4 1028.0,161.5 1029.5,162.0 1031.0,160.7 1032.5,159.7 1034.0,159.4 1035.5,159.4 1037.0,160.0 1038.5,160.1 1040.0,161.5 1041.5,163.3 1043.0,163.4 1044.5,163.7 1046.0,164.0 1047.5,163.1 1049.0,161.6 1050.5,159.8 1052.0,161.1 1053.5,162.1 1055.0,162.3 1056.5,161.9 1058.0,161.8 1059.5,161.6 1061.0,161.7 1062.5,161.6 1064.0,162.4 1065.5,162.7 1067.0,163.1 1068.5,164.2 1070.0,163.9 1071.5,164.1 1073.0,164.6 1074.5,164.3 1076.0,165.8 1077.5,167.2 1079.0,166.7 1080.5,166.0 1082.0,166.2 1083.5,165.7 1085.0,165.0 1086.5,166.1 1088.0,166.8 1089.5,166.5 1091.0,165.3 1092.5,165.1 1094.0,165.4 1095.5,164.4 1097.0,163.7 1098.5,163.9 1100.0,163.9 1101.5,164.4 1103.0,165.5 1104.5,165.4 1106.0,164.6 1107.5,165.1 1109.0,166.0 1110.5,165.5 1112.0,164.0 1113.5,162.1 1115.0,161.5 1116.5,160.8 1118.0,159.5 1119.5,160.5 1121.0,161.5 1122.5,161.7 1124.0,162.5 1125.5,163.3 1127.0,163.3 1128.5,163.5 1130.0,165.1 1131.5,165.8 1133.0,165.9 1134.5,166.5 1136.0,167.2 1137.5,166.9 1139.0,166.3 1140.5,165.8 1142.0,164.2 1143.5,162.4 1145.0,160.9 1146.5,161.7 1148.0,162.4 1149.5,162.5 1151.0,162.6 1152.5,163.6 1154.0,164.1 1155.5,163.2 1157.0,162.7 1158.5,163.4 1160.0,162.9 1161.5,162.8 1163.0,163.5 1164.5,162.2 1166.0,160.8 1167.5,161.0 1169.0,161.0 1170.5,159.2 1172.0,158.6 1173.5,160.4 1175.0,161.9 1176.5,160.0 1178.0,159.1 1179.5,159.1 1181.0,158.6 1182.5,159.4 1184.0,160.3 1185.5,160.9 1187.0,161.5 1188.5,161.1 1190.0,160.7 1191.5,161.1 1193.0,161.5 1194.5,161.2 1196.0,160.3 1197.5,159.8 1199.0,159.4 1200.5,160.0 1202.0,161.4 1203.5,159.9 1205.0,156.9 1206.5,159.4 1208.0,161.5 1209.5,162.9 1211.0,164.0 1212.5,163.9 1214.0,164.5 1215.5,165.0 1217.0,163.1 1218.5,161.4 1220.0,158.9 1221.5,158.1 1223.0,160.1 1224.5,160.3 1226.0,161.8 1227.5,161.3 1229.0,160.2 1230.5,160.5 1232.0,160.9 1233.5,161.9 1235.0,163.3 1236.5,164.0 1238.0,164.4 1239.5,164.7 1241.0,165.3 1242.5,165.7 1244.0,166.0 1245.5,165.9 1247.0,166.3 1248.5,166.8 1250.0,166.6 1251.5,167.2 1253.0,167.6 1254.5,167.8 1256.0,167.9 1257.5,167.3 1259.0,167.4 1260.5,167.0 1262.0,166.4 1263.5,166.6 1265.0,165.9 1266.5,164.9 1268.0,164.7 1269.5,164.1 1271.0,163.1 1272.5,161.2 1274.0,159.6 1275.5,159.9 1277.0,160.6 1278.5,160.1 1280.0,160.1 1281.5,161.0 1283.0,160.9 1284.5,158.3 1286.0,157.0 1287.5,157.1 1289.0,158.1 1290.5,159.1 1292.0,160.7 1293.5,160.3 1295.0,159.3 1296.5,158.6 1298.0,157.5 1299.5,156.8 1301.0,157.0 1302.5,157.1 1304.0,158.0 1305.5,159.2 1307.0,160.7 1308.5,162.2 1310.0,163.1 1311.5,162.5 1313.0,161.7 1314.5,161.5 1316.0,161.0 1317.5,160.9 1319.0,160.0 1320.5,159.0 1322.0,158.6 1323.5,158.1 1325.0,157.1 1326.5,157.9 1328.0,159.1 1329.5,158.9 1331.0,159.9 1332.5,161.0 1334.0,160.5 1335.5,160.2 1337.0,158.8 1338.5,157.3 1340.0,156.9 1341.5,156.9 1343.0,156.9 1344.5,156.7 1346.0,157.5 1347.5,158.4 1349.0,158.8 1350.5,158.8 1352.0,157.8 1353.5,158.5 1355.0,160.1 1356.5,159.8 1358.0,160.0 1359.5,161.0 1361.0,160.9 1362.5,160.1 1364.0,159.5 1365.5,159.4 1367.0,157.9 1368.5,156.9 1370.0,156.3 1371.5,155.2 1373.0,154.9 1374.5,155.2 1376.0,157.0 1377.5,159.2 1379.0,158.7 1380.5,158.3 1382.0,158.7 1383.5,158.0 1385.0,157.5 1386.5,158.1 1388.0,158.2 1389.5,159.0 1391.0,159.0 1392.5,159.1 1394.0,160.6 1395.5,160.9 1397.0,159.9 1398.5,160.0 1400.0,161.1 1401.5,159.0 1403.0,155.8 1404.5,152.9 1406.0,152.4 1407.5,152.6 1409.0,153.0 1410.5,153.6 1412.0,154.5 1413.5,156.1 1415.0,157.4 1416.5,158.3 1418.0,160.5 1419.5,161.9 1421.0,162.8 1422.5,163.6 1424.0,163.6 1425.5,163.2 1427.0,162.9 1428.5,162.0 1430.0,160.7 1431.5,158.3"/>
<polyline clip-path="url(#cp1)" fill="none" stroke="#ff4500" stroke-width="2.7" stroke-linejoin="miter" stroke-miterlimit="3" points="185.0,393.2 195.0,393.8 205.0,392.8 215.0,394.5 225.0,392.0 235.0,393.8 245.0,392.5 255.0,393.8 265.0,392.8 275.0,394.0 285.0,392.8 291.2,392.0 297.5,389.5 307.5,383.8 315.0,392.0 320.0,394.5 327.5,383.2 332.5,392.0 338.8,413.2 343.8,407.0 347.5,392.0 352.5,397.0 357.5,385.8 361.2,389.5 365.5,380.8 370.0,389.5 373.8,403.2 380.0,395.8 385.0,392.0 395.0,394.0 405.0,392.0 415.0,394.5 425.0,392.8 435.0,393.8 445.0,393.2 455.0,394.5 465.0,393.2 475.0,393.8 485.0,392.5 495.0,394.0 505.0,393.8 515.0,392.8 525.0,394.0 535.0,392.8 545.0,393.8 555.0,393.2 562.5,394.5 570.0,393.2 580.0,391.5 587.5,392.0 592.5,388.2 600.0,394.5 607.5,389.5 615.0,390.8 620.0,389.5 627.5,393.2 635.0,394.5 641.2,393.2 648.8,399.5 655.0,395.8 662.5,394.5 670.0,393.2 677.5,392.0 685.0,398.2 691.2,389.5 695.0,399.5 700.0,389.5 705.0,387.0 711.2,393.2 716.2,379.5 720.0,389.5 725.0,400.8 730.0,402.0 735.0,389.5 738.8,382.0 746.2,376.2 752.5,378.2 756.2,397.0 760.0,409.0 765.0,395.8 772.5,399.5 778.8,388.2 783.8,387.0 788.8,394.5 793.8,387.0 798.8,377.5 805.0,382.0 810.0,392.0 816.2,397.0 821.2,409.5 826.2,407.0 828.8,393.2 833.8,390.8 838.8,397.0 845.0,400.8 851.2,387.0 857.5,395.8 863.8,392.0 868.8,398.2 873.8,395.8 878.8,394.5 883.8,384.5 887.5,382.0 895.0,389.5 901.2,389.5 910.0,389.5 917.5,385.8 923.8,392.0 930.0,390.8 935.0,385.8 940.0,390.8 946.2,388.2 950.0,382.0 953.8,374.5 957.5,377.0 961.2,385.8 965.0,389.5 970.0,393.2 975.0,387.0 978.8,390.8 985.0,394.5 991.2,389.5 996.2,384.5 1002.5,393.2 1007.5,390.8 1012.5,382.0 1015.5,375.0 1018.8,384.5 1023.8,400.8 1027.5,397.0 1032.5,387.0 1037.5,389.5 1043.8,393.2 1050.0,390.8 1053.8,385.8 1060.0,389.0 1066.2,389.5 1072.5,387.0 1080.0,389.5 1087.5,389.5 1095.0,391.5 1100.0,394.5 1105.0,389.5 1112.5,389.5 1120.0,392.0 1127.5,392.0 1132.5,388.2 1140.0,392.0 1143.8,394.5 1150.0,390.8 1155.0,388.8 1162.5,389.5 1170.0,388.2 1177.5,387.8 1185.0,387.5 1190.0,394.5 1195.0,389.5 1201.2,385.8 1207.5,388.2 1213.8,385.8 1221.2,387.0 1226.2,387.5 1232.5,394.5 1237.5,389.5 1245.0,387.0 1250.0,390.8 1257.5,389.5 1265.0,392.0 1272.5,393.2 1280.0,388.2 1287.5,392.0 1292.5,394.5 1300.0,390.8 1305.0,392.0 1312.0,391.0 1320.0,389.0 1328.0,390.0 1336.0,390.6 1344.0,390.0 1352.0,391.0 1360.0,390.6 1366.0,390.0 1371.0,387.4 1376.0,392.0 1380.0,394.6 1385.0,390.0 1392.0,391.4 1400.0,391.0 1406.0,392.0 1411.0,394.6 1416.0,390.0 1419.0,388.6 1423.0,393.0 1428.0,395.0 1433.0,390.6"/>
<line x1="185.9" y1="392.6" x2="1433.0" y2="392.6" stroke="#111" stroke-width="1.3" stroke-dasharray="18 17.5"/>
<polyline clip-path="url(#cp1)" fill="none" stroke="#32cd32" stroke-width="2.7" stroke-linejoin="miter" stroke-miterlimit="3" points="185.0,393.2 191.2,393.2 195.0,397.0 200.0,395.8 205.0,392.0 207.0,387.8 210.5,388.2 213.8,394.5 220.0,404.5 225.0,395.8 230.0,394.0 235.0,394.5 238.8,389.0 245.0,389.5 252.5,393.2 260.0,388.8 267.5,389.5 272.5,387.0 278.8,389.0 285.0,392.0 288.8,389.5 295.0,399.5 301.2,394.5 305.0,398.2 308.8,399.5 313.8,393.2 318.8,392.0 323.8,385.8 327.5,394.5 331.2,385.8 336.2,384.0 340.0,387.0 343.8,385.8 347.5,397.0 352.5,404.5 357.5,409.5 361.2,395.8 366.2,394.5 371.2,392.0 377.5,385.8 385.0,387.0 390.0,392.0 395.0,399.5 400.0,397.0 405.0,387.8 408.8,389.0 413.8,394.5 420.0,388.8 426.2,388.2 432.5,389.5 437.5,388.2 445.0,392.0 452.5,393.8 457.5,397.0 462.5,391.5 470.0,389.5 477.5,384.5 482.5,389.5 488.8,388.2 495.0,389.5 500.0,384.5 505.0,380.2 510.0,383.2 516.2,382.0 523.8,389.5 532.5,385.8 540.0,390.8 550.0,388.2 555.0,389.0 561.2,390.8 566.2,394.5 572.5,384.5 580.0,388.2 587.5,390.8 593.8,382.0 600.0,375.8 606.2,369.0 610.0,382.0 613.8,388.2 617.5,382.0 621.2,382.5 627.5,389.5 635.0,397.0 641.2,404.5 648.8,390.8 655.0,394.5 662.5,397.0 670.0,398.2 677.5,402.0 685.0,408.2 691.2,411.5 696.2,403.2 702.5,400.8 710.0,403.2 717.5,408.2 722.5,408.2 727.5,402.0 732.5,409.5 737.5,404.5 742.5,397.0 750.0,392.0 753.8,387.0 756.2,378.8 760.0,392.0 763.8,407.0 768.8,402.0 775.0,404.5 780.0,392.0 783.8,392.0 790.0,389.0 796.2,397.0 802.5,388.2 807.5,393.2 810.5,384.5 815.0,403.2 818.8,403.2 822.5,382.0 826.2,373.2 831.2,375.0 836.2,387.0 840.0,397.0 846.2,385.8 851.2,388.2 857.5,389.5 863.8,388.2 868.8,368.2 873.0,363.2 876.2,377.0 882.5,395.8 888.2,374.5 891.2,375.8 896.2,387.0 901.2,383.2 906.2,387.0 912.5,385.8 920.0,392.0 925.0,394.5 930.0,404.5 935.0,400.8 941.2,398.2 947.5,397.8 953.8,408.2 957.5,394.5 961.2,387.0 966.2,392.0 972.5,393.2 977.5,392.0 980.0,385.8 983.8,392.0 991.2,393.8 997.5,388.2 1005.0,390.8 1012.5,392.0 1020.0,394.5 1025.0,395.8 1031.2,393.2 1037.5,390.8 1042.5,394.5 1050.0,392.0 1057.5,395.8 1065.0,390.8 1071.2,387.8 1077.5,389.5 1085.0,388.2 1092.5,387.8 1100.0,385.0 1105.0,385.8 1112.5,382.0 1118.8,382.0 1123.8,388.2 1130.0,389.0 1135.0,384.5 1142.5,380.8 1148.8,377.0 1155.0,376.5 1161.2,387.0 1167.5,389.0 1175.0,388.2 1182.5,387.0 1190.0,379.5 1195.0,380.8 1200.0,384.0 1205.0,382.0 1210.0,385.8 1216.2,392.0 1221.2,385.8 1226.2,387.0 1232.5,385.8 1238.8,388.2 1243.8,392.0 1248.8,395.8 1255.0,390.8 1262.5,392.0 1271.2,389.5 1277.5,389.5 1282.5,392.0 1290.0,387.0 1295.0,385.8 1300.0,390.8 1305.0,392.0 1312.0,393.0 1318.0,391.0 1324.0,395.0 1329.0,397.0 1336.0,394.0 1344.0,392.6 1350.0,391.0 1356.0,393.0 1364.0,393.6 1370.0,393.0 1376.0,390.0 1382.0,389.0 1388.0,391.0 1395.0,391.0 1402.0,391.6 1408.0,392.0 1414.0,390.0 1418.0,396.0 1424.0,392.0 1428.0,389.4 1433.0,389.4"/>
<polyline clip-path="url(#cp1)" fill="none" stroke="#00bfff" stroke-width="2.7" stroke-linejoin="miter" stroke-miterlimit="3" points="185.0,394.5 191.2,399.5 195.0,397.0 200.0,402.0 205.0,398.2 212.5,398.2 218.8,408.2 222.5,405.8 226.2,396.5 233.8,397.0 240.0,390.8 245.0,389.5 251.2,393.8 255.0,390.8 262.5,397.0 266.2,394.5 271.2,399.5 278.8,395.8 283.8,395.2 290.0,391.5 297.5,398.2 303.8,394.0 312.5,401.2 320.0,399.5 327.5,399.5 332.5,404.5 337.5,394.5 342.5,389.0 346.2,403.2 351.2,404.5 357.5,409.0 365.0,397.0 370.0,411.2 376.2,408.2 382.5,394.5 388.8,409.0 395.0,391.5 400.0,392.8 405.0,396.2 410.0,396.5 416.2,400.8 422.5,400.0 427.5,402.0 435.0,393.2 440.0,395.8 446.2,393.8 455.0,397.0 462.5,392.8 470.0,394.5 476.2,397.0 482.5,394.5 490.0,392.0 497.5,398.2 508.8,403.2 515.0,394.5 525.0,392.0 535.0,393.2 547.5,396.2 555.0,395.8 560.0,393.2 566.2,398.2 571.2,403.2 577.5,394.5 585.0,392.0 592.5,393.2 597.5,397.0 603.8,399.0 610.0,404.5 616.2,400.8 621.2,404.5 625.0,403.2 630.0,406.5 636.2,394.5 641.2,417.0 645.0,434.0 648.8,434.5 652.5,417.0 656.2,397.0 661.2,392.0 666.2,387.8 671.2,387.0 676.2,394.5 681.2,402.0 685.0,407.0 690.0,425.0 693.8,412.0 697.5,395.8 702.5,390.8 707.5,394.5 712.5,397.0 717.5,399.5 722.5,395.8 727.5,394.0 732.5,398.2 737.5,400.8 742.5,398.2 746.2,403.2 750.0,415.8 752.5,429.5 757.5,435.8 761.2,435.0 766.2,424.5 771.2,412.0 775.0,417.0 777.5,444.5 780.0,472.0 783.8,494.5 787.5,496.5 791.2,483.2 795.0,465.0 802.5,464.5 806.2,447.0 810.0,437.0 815.0,419.5 818.8,419.5 822.5,437.0 826.2,435.8 830.0,424.5 833.8,419.5 838.8,404.5 845.0,397.0 850.0,384.5 853.8,364.5 857.5,344.5 863.8,345.8 868.8,322.5 872.5,327.0 876.2,344.5 880.0,357.0 883.8,358.2 887.5,354.0 892.5,375.8 896.2,370.8 900.0,359.0 903.8,367.0 908.8,382.0 915.0,383.2 921.2,389.5 925.0,390.8 930.0,385.8 935.0,382.0 938.8,384.5 942.5,380.8 947.5,384.5 953.8,384.0 960.0,385.8 966.2,384.5 972.5,393.2 977.5,393.8 983.8,388.2 990.0,387.0 996.2,385.8 1001.2,394.5 1005.0,388.2 1012.5,398.2 1017.5,397.8 1023.8,392.0 1027.5,384.5 1031.2,394.5 1035.0,397.0 1040.0,389.5 1043.8,388.8 1050.0,392.0 1057.5,394.5 1065.0,392.0 1072.5,392.0 1077.5,397.0 1081.2,405.8 1087.5,400.8 1092.5,407.0 1097.5,411.5 1102.5,402.0 1107.5,388.2 1112.5,382.0 1118.8,380.0 1125.0,372.8 1130.0,374.0 1135.0,373.2 1140.0,368.2 1143.8,364.0 1147.5,368.2 1151.2,367.0 1157.5,370.8 1162.5,378.2 1167.5,379.0 1173.8,380.8 1178.8,379.5 1182.5,377.0 1190.0,366.5 1193.8,367.8 1197.5,372.5 1202.5,364.5 1206.2,361.5 1210.0,365.0 1213.8,359.5 1217.5,344.5 1220.8,328.2 1225.0,333.2 1228.8,352.0 1232.5,358.2 1236.2,350.8 1240.5,345.0 1243.8,357.0 1247.5,367.0 1251.2,369.5 1255.0,375.8 1260.0,382.0 1266.2,380.8 1271.2,375.8 1276.2,374.5 1282.5,373.8 1287.5,379.5 1291.2,385.8 1297.5,382.0 1302.5,385.8 1305.0,385.8 1310.0,381.0 1317.0,383.0 1322.0,385.0 1328.0,386.4 1334.0,387.0 1341.0,386.4 1348.0,387.4 1356.0,388.0 1364.0,388.4 1368.0,386.0 1372.0,382.4 1376.0,387.4 1381.0,388.0 1386.0,387.0 1391.0,386.4 1395.0,389.0 1400.0,388.0 1404.0,386.6 1410.0,386.4 1415.0,392.0 1419.0,395.0 1424.0,393.0 1428.0,395.0 1432.0,396.6"/>
<polyline clip-path="url(#cp2)" fill="none" stroke="#000" stroke-width="2.6" stroke-linejoin="miter" stroke-miterlimit="3" points="185.0,677.0 187.6,675.0 191.0,662.0 195.0,692.0 198.4,681.0 202.0,652.0 206.0,664.0 210.0,666.0 213.6,675.0 217.0,671.0 220.6,646.4 224.4,670.6 228.0,668.6 232.0,660.0 236.0,664.0 239.6,652.0 243.0,646.6 247.0,646.0 250.6,661.0 254.0,642.6 258.0,680.6 261.6,676.6 265.4,653.0 269.0,676.6 272.6,636.0 276.4,655.6 280.0,663.0 284.0,672.0 288.0,663.4 291.4,665.0 295.0,643.0 298.6,629.0 302.4,630.6 306.0,623.0 310.0,661.6 313.6,657.4 317.4,641.4 321.0,638.4 324.6,612.0 328.4,623.0 332.0,634.4 336.0,638.0 340.0,642.0 343.6,646.0 347.4,659.4 351.0,648.0 354.4,627.0 358.0,595.6 361.6,628.0 365.4,635.0 369.4,648.0 373.0,623.0 376.6,544.0 380.6,598.0 384.4,600.0 388.0,583.4 391.6,605.0 395.6,585.0 399.2,567.4 403.0,583.0 406.6,593.0 410.4,603.0 414.0,578.6 417.6,616.6 421.4,611.0 425.0,617.6 428.6,642.0 432.6,646.0 436.4,637.0 440.0,619.4 443.6,635.0 447.4,652.6 451.0,633.6 455.0,649.0 458.6,671.4 462.4,625.6 466.0,631.0 470.0,651.0 473.6,659.4 477.2,679.4 480.0,664.0 481.6,665.0 484.4,680.0 488.0,664.0 492.0,669.0 495.6,653.0 499.4,646.4 503.4,653.0 507.0,662.0 510.6,664.6 514.4,655.0 518.0,671.0 521.6,686.0 525.6,692.0 529.4,656.0 533.0,668.0 536.6,659.0 540.4,668.6 544.0,614.4 548.0,669.6 551.6,675.6 555.4,679.0 559.4,676.0 562.4,630.0 566.4,675.0 570.0,679.4 573.6,685.0 577.4,633.0 581.4,678.0 584.6,670.0 588.4,670.6 592.0,658.0 596.0,678.6 599.6,671.0 603.4,686.6 607.0,679.0 611.0,672.0 614.4,686.0 618.0,661.6 622.0,685.0 625.6,685.6 629.4,671.6 633.0,648.0 637.0,675.6 640.6,679.4 644.0,661.6 648.0,655.0 651.6,647.4 655.4,647.0 659.0,648.0 662.6,616.4 666.4,643.0 670.0,671.0 673.6,657.0 677.6,646.0 681.4,659.0 685.0,632.0 689.0,666.0 692.4,656.6 696.0,658.0 700.0,598.6 703.6,633.4 707.4,642.6 711.0,658.6 714.6,627.0 718.4,662.0 722.0,648.6 726.0,665.6 729.6,666.6 733.4,647.0 737.0,626.0 740.6,653.0 744.6,656.0 748.4,630.0 752.0,648.6 755.6,663.4 759.4,654.4 763.0,665.0 766.6,673.0 770.4,641.4 774.0,659.4 778.0,656.6 780.0,653.0 784.4,650.6 788.4,645.4 792.4,648.6 796.6,669.0 800.6,651.0 804.0,650.0 807.6,622.4 811.4,644.0 815.4,652.0 819.0,652.6 822.4,639.0 826.4,669.6 830.0,666.0 833.6,644.6 837.4,653.0 840.6,650.0 844.4,677.0 848.4,646.0 852.0,653.6 856.0,638.6 860.0,664.0 863.0,660.6 867.0,676.0 870.6,653.0 874.4,655.0 878.0,662.6 882.0,653.0 885.6,625.0 889.4,645.6 893.0,645.6 896.6,628.6 900.0,634.0 904.0,653.0 907.6,641.0 911.4,641.0 915.4,651.0 919.0,637.0 922.6,630.0 927.0,640.0 930.0,641.4 934.0,652.0 938.0,653.6 941.6,627.0 945.0,632.0 949.0,632.4 952.4,609.0 956.0,624.0 960.0,615.0 963.4,594.0 967.0,603.0 971.0,624.6 974.4,626.0 978.4,636.0 982.4,593.4 986.0,618.0 989.6,618.0 993.4,574.0 997.0,583.0 1000.6,593.0 1004.4,604.0 1008.0,614.4 1012.0,588.0 1016.0,599.0 1019.4,640.0 1023.0,600.0 1027.0,619.0 1030.4,564.6 1034.0,615.0 1038.0,616.0 1041.6,640.0 1045.4,619.4 1049.4,648.6 1053.0,636.0 1056.6,635.0 1060.4,631.0 1064.0,637.0 1067.6,630.0 1071.4,657.4 1075.4,634.6 1078.6,648.0 1080.0,650.0 1082.4,653.0 1086.0,611.6 1090.0,652.6 1093.6,628.6 1097.6,628.6 1101.4,646.0 1105.0,653.4 1108.6,651.0 1112.4,658.0 1116.0,647.0 1120.0,648.6 1123.4,630.6 1127.0,648.6 1131.0,605.4 1134.6,636.0 1138.0,646.0 1142.0,661.0 1145.6,657.4 1149.4,636.0 1153.0,644.0 1157.0,636.6 1160.6,647.0 1164.4,634.0 1168.0,633.4 1171.6,617.0 1175.4,602.4 1179.4,608.0 1183.0,630.0 1186.6,637.0 1190.4,616.4 1194.0,636.6 1197.6,622.0 1201.6,635.0 1205.0,630.0 1208.6,623.0 1212.4,615.4 1216.4,599.0 1220.0,613.0 1223.6,621.0 1227.4,620.0 1231.0,635.0 1235.0,655.0 1238.6,639.0 1242.4,632.0 1246.0,631.0 1249.6,590.6 1253.6,590.6 1257.4,624.6 1261.0,608.0 1264.6,597.0 1268.4,573.4 1272.0,612.0 1276.0,614.0 1279.4,643.0 1283.4,599.0 1287.0,613.0 1290.6,624.0 1294.4,646.4 1298.0,602.0 1301.6,612.0 1305.6,610.0 1309.0,615.0 1312.6,592.6 1316.6,608.0 1320.4,603.0 1324.2,602.6 1328.0,602.4 1331.6,595.4 1335.4,603.0 1339.0,620.4 1342.6,544.0 1346.4,613.4 1350.0,586.6 1353.6,597.0 1357.4,547.0 1361.0,579.0 1364.6,586.6 1368.6,589.6 1372.4,573.4 1376.0,575.0 1379.6,619.0 1383.4,614.6 1387.0,616.0 1390.6,575.4 1394.4,626.6 1398.4,585.0 1402.0,574.0 1405.6,564.0 1409.4,587.0 1413.0,593.0 1416.6,609.0 1420.6,577.0 1424.0,581.0 1428.0,598.0 1431.6,576.6 1433.6,587.0"/>
<polyline clip-path="url(#cp3)" fill="none" stroke="#ff4500" stroke-width="2.7" stroke-linejoin="miter" stroke-miterlimit="3" points="185.0,845.0 187.6,839.0 191.4,865.0 195.0,857.0 198.6,843.0 202.4,857.0 206.0,860.0 209.6,838.4 213.4,866.0 217.0,868.0 221.0,857.0 224.4,844.6 228.0,869.0 232.0,889.0 235.6,875.0 239.4,857.0 243.0,848.0 246.6,844.6 250.4,846.0 254.0,862.0 258.0,859.0 261.6,861.0 265.4,849.0 269.0,841.0 272.6,848.0 276.4,863.0 280.0,851.0 283.6,868.0 287.4,862.0 291.0,858.0 295.0,861.0 298.6,839.4 302.4,851.0 306.0,845.0 310.0,859.0 313.6,871.0 317.4,866.0 321.0,865.0 324.6,877.0 328.4,894.6 332.0,880.0 336.0,884.0 339.6,886.0 343.4,877.0 347.0,865.0 350.6,876.6 354.4,846.0 358.0,840.0 362.0,835.0 365.6,843.0 369.4,837.0 373.0,845.0 376.6,861.0 380.4,863.0 384.0,839.0 387.6,851.0 391.4,841.0 395.4,830.0 399.0,845.0 402.6,861.0 406.4,871.0 410.0,858.0 413.6,847.0 417.4,859.0 421.4,851.0 425.0,858.0 428.6,846.0 432.4,837.4 436.0,847.0 440.0,851.0 443.6,856.0 447.4,849.4 451.0,857.0 454.6,870.0 458.4,859.0 462.0,853.0 466.0,863.0 469.6,853.0 473.4,858.0 477.0,864.0 480.0,862.0 484.0,866.0 488.0,853.0 492.0,845.0 496.0,880.0 499.4,863.0 503.0,866.6 506.6,841.0 510.4,835.0 514.0,843.0 517.6,867.0 521.4,858.0 525.0,843.6 528.6,847.4 532.4,869.0 536.4,868.0 540.0,853.0 543.6,861.0 547.4,856.0 551.0,863.0 554.6,861.4 558.4,863.0 562.0,859.0 566.0,856.0 569.6,843.6 573.4,857.0 577.0,855.0 580.6,859.0 584.4,860.6 588.0,851.0 592.0,862.0 595.6,857.0 599.4,854.0 603.0,870.6 606.6,850.4 610.4,855.0 614.0,868.0 618.0,856.0 621.6,861.0 625.4,865.0 629.0,866.0 632.6,862.0 636.4,869.0 640.0,857.0 644.0,843.0 647.4,845.0 651.4,860.0 655.0,858.0 658.6,844.0 662.4,841.0 666.0,827.0 670.0,886.6 674.0,871.0 677.6,857.0 681.0,829.4 685.0,837.0 688.6,848.0 692.4,859.0 696.0,865.0 700.0,827.0 703.4,851.0 707.0,847.0 711.0,815.0 714.6,862.0 718.4,863.0 722.0,845.0 726.0,820.0 729.6,831.0 733.4,857.0 737.0,861.0 740.6,869.0 744.4,873.0 748.0,866.0 752.0,875.0 755.6,893.0 759.4,827.4 763.0,853.0 767.0,868.0 770.6,855.0 774.0,841.0 778.0,843.0 780.0,849.0 782.0,861.0 785.6,906.0 789.0,911.0 792.6,867.0 796.6,872.0 800.4,865.0 804.0,861.0 807.6,830.0 811.4,803.6 815.0,809.0 819.0,810.0 822.4,809.6 826.4,825.6 830.0,825.6 833.6,815.4 837.6,827.0 841.0,827.0 844.6,827.0 848.6,825.0 852.4,829.0 856.0,832.6 860.0,854.0 863.0,841.0 867.0,817.0 871.0,846.0 874.4,851.0 878.4,827.4 882.0,832.0 886.0,843.0 889.6,831.0 893.4,821.4 897.0,839.0 900.6,831.6 904.4,839.0 908.0,834.0 912.0,849.0 915.6,838.0 919.4,854.0 923.0,849.0 926.6,838.0 930.4,834.0 934.0,824.4 938.0,861.0 941.6,862.0 945.4,858.0 949.0,844.0 952.6,851.0 956.4,847.0 960.0,848.0 963.6,855.0 967.4,851.0 971.0,845.0 974.6,855.0 978.6,865.0 982.4,846.0 986.0,845.6 990.0,843.6 993.6,835.0 997.4,842.0 1001.0,835.0 1004.6,843.0 1008.4,840.0 1012.0,839.0 1016.0,819.4 1019.6,844.0 1023.4,836.0 1027.0,837.0 1030.6,847.0 1034.4,844.0 1038.0,849.0 1041.6,841.0 1045.6,838.0 1049.4,834.0 1053.0,845.0 1056.6,837.0 1060.4,853.0 1064.0,837.0 1068.0,843.0 1071.6,826.0 1075.6,821.0 1079.0,842.0 1082.4,829.0 1086.0,837.0 1089.6,832.0 1093.6,840.0 1097.4,827.0 1101.0,808.0 1104.6,807.6 1108.4,820.0 1112.0,819.0 1116.0,815.0 1119.6,804.0 1123.4,820.0 1127.0,823.0 1131.0,827.0 1134.6,800.0 1138.4,811.0 1142.0,825.0 1145.6,821.0 1149.4,821.4 1153.0,832.0 1156.6,826.0 1160.6,837.0 1164.4,835.0 1168.0,835.0 1171.6,822.0 1175.4,826.0 1179.0,834.0 1182.6,821.0 1186.4,819.0 1190.0,823.0 1193.6,826.0 1197.6,827.0 1201.4,823.0 1205.0,817.0 1208.6,811.6 1212.4,826.0 1216.0,826.0 1220.0,838.0 1223.6,834.0 1227.4,858.0 1231.0,866.0 1234.6,853.0 1238.4,841.0 1242.0,830.0 1245.6,838.0 1249.4,832.0 1253.4,827.6 1257.0,829.0 1260.6,830.0 1264.4,851.0 1268.0,847.0 1271.6,841.0 1275.6,836.0 1279.4,829.4 1283.0,839.0 1286.6,838.0 1290.4,833.0 1294.0,833.0 1298.0,846.0 1301.6,836.0 1305.4,844.0 1309.0,849.0 1312.6,851.0 1316.4,848.0 1320.0,850.0 1323.6,840.0 1327.4,843.0 1331.0,848.0 1334.6,851.0 1338.4,853.0 1342.0,860.0 1346.0,847.0 1349.6,855.0 1353.4,840.0 1357.0,854.0 1360.6,839.0 1364.4,844.0 1368.0,848.0 1372.0,852.0 1375.6,845.0 1379.4,834.0 1383.0,843.0 1387.0,836.0 1390.6,855.0 1394.4,852.0 1398.0,850.0 1401.6,860.0 1405.4,853.0 1409.0,839.0 1413.0,841.0 1416.6,845.0 1420.4,842.0 1424.0,841.0 1427.6,849.0 1431.4,853.0 1433.0,849.0"/>
<line x1="185.9" y1="854.0" x2="1433.0" y2="854.0" stroke="#111" stroke-width="1.3" stroke-dasharray="18 17.5"/>
<polyline clip-path="url(#cp3)" fill="none" stroke="#32cd32" stroke-width="2.7" stroke-linejoin="miter" stroke-miterlimit="3" points="185.0,853.0 191.4,858.0 195.0,855.0 198.6,861.0 202.4,858.0 206.0,855.0 209.6,857.0 217.0,850.6 221.0,863.0 224.4,855.0 228.0,858.0 232.0,853.0 235.6,852.0 239.4,844.6 243.0,843.4 250.4,851.0 254.0,858.0 258.0,852.0 261.6,851.0 265.4,859.0 269.0,863.0 272.6,857.0 276.4,858.0 283.6,853.0 287.4,849.0 291.0,855.0 295.0,851.0 298.6,856.0 306.0,860.0 310.0,853.0 313.6,859.0 317.4,861.0 321.0,857.0 324.6,854.0 328.4,850.0 332.0,855.0 335.6,849.0 339.6,858.0 343.4,859.0 347.0,863.0 350.6,855.0 354.4,865.0 358.0,868.0 362.0,870.0 365.6,864.0 369.4,875.0 373.0,871.0 376.6,861.0 380.4,846.0 384.0,857.0 387.6,861.0 391.4,866.0 395.4,860.0 399.0,855.0 402.6,848.0 406.4,848.6 410.0,861.0 413.6,852.0 417.4,865.0 421.4,867.0 425.0,859.0 428.6,863.0 432.4,860.0 436.0,857.0 443.6,855.0 447.4,850.0 454.6,853.0 458.4,855.0 466.0,854.0 473.4,855.0 480.0,855.0 484.0,855.0 488.0,848.0 492.0,855.0 496.0,852.0 499.4,857.0 503.0,860.0 506.6,867.0 510.4,861.0 514.0,856.0 517.6,848.6 521.4,852.0 525.0,854.0 528.6,853.0 536.4,855.0 540.0,850.6 543.6,858.0 547.4,863.0 551.0,858.0 554.6,850.0 558.4,855.0 562.0,852.6 566.0,857.0 569.6,867.0 573.4,855.0 577.0,853.0 580.6,851.0 584.4,845.0 588.0,852.0 592.0,857.0 595.6,855.0 599.4,859.0 603.0,854.0 606.6,855.0 610.4,863.0 614.0,856.0 618.0,861.0 621.6,866.0 625.4,863.0 629.0,866.0 632.6,859.0 636.4,855.0 640.0,871.0 644.0,887.0 651.4,882.0 655.0,862.0 658.6,853.0 662.4,859.0 666.0,855.0 670.0,846.0 674.0,851.0 677.6,856.0 681.0,861.0 685.0,858.0 688.6,885.0 692.4,879.0 696.0,877.0 700.0,851.0 703.4,857.0 707.0,861.0 711.0,867.0 714.6,855.0 718.4,862.0 722.0,857.0 726.0,851.0 729.6,867.0 733.4,861.0 737.0,855.0 740.6,863.0 744.4,871.0 748.0,865.0 752.0,897.0 755.6,908.0 759.4,904.0 763.0,927.0 767.0,889.0 770.6,875.0 774.0,862.0 778.0,897.0 780.0,915.0 782.0,960.0 785.6,933.0 789.0,945.0 792.6,940.0 796.6,959.0 800.4,971.6 804.0,971.6 807.6,926.0 811.4,940.0 815.0,933.0 819.0,931.0 822.4,915.0 826.4,935.0 830.0,917.0 833.6,898.0 837.6,911.0 841.0,888.0 844.6,893.0 848.6,880.0 852.4,905.0 856.0,903.0 860.0,922.0 863.0,915.0 867.0,934.0 871.0,934.0 874.4,915.0 878.4,890.0 882.0,899.0 886.0,897.0 889.6,893.0 893.4,889.0 897.0,894.0 900.6,887.0 904.4,906.0 908.0,895.0 912.0,888.0 915.6,884.0 919.4,869.0 923.0,872.0 926.6,869.0 930.4,876.0 934.0,871.0 938.0,866.0 941.6,867.0 945.4,863.0 949.0,869.0 952.6,875.0 956.4,871.0 960.0,868.0 963.6,855.0 967.4,859.0 971.0,863.0 974.6,871.0 978.6,876.0 982.4,873.0 986.0,860.0 990.0,867.0 993.6,866.0 997.4,856.0 1001.0,868.0 1004.6,866.0 1008.4,867.0 1012.0,874.0 1016.0,870.0 1019.6,864.0 1023.4,874.0 1027.0,865.0 1030.6,856.0 1034.4,866.0 1038.0,859.0 1041.6,863.0 1045.6,873.0 1049.4,864.0 1053.0,861.0 1056.6,876.0 1060.4,870.0 1064.0,884.0 1068.0,876.0 1071.6,871.0 1075.6,877.0 1079.0,889.0 1082.4,885.0 1086.0,865.0 1089.6,881.0 1093.6,866.0 1097.4,855.0 1101.0,853.4 1104.6,866.0 1108.4,884.0 1112.0,875.0 1116.0,879.0 1119.6,882.0 1123.4,888.0 1127.0,896.0 1131.0,886.6 1134.6,895.0 1138.4,906.0 1142.0,916.4 1145.6,893.0 1149.4,901.0 1153.0,905.0 1156.6,888.0 1160.6,897.0 1164.4,869.0 1168.0,880.0 1171.6,874.0 1175.4,866.0 1179.0,871.0 1182.6,871.0 1186.4,885.0 1190.0,875.0 1193.6,883.0 1197.6,872.0 1201.4,878.0 1205.0,871.0 1208.6,883.0 1212.4,894.0 1216.0,901.0 1220.0,920.6 1223.6,904.0 1227.4,903.0 1231.0,898.0 1234.6,904.0 1238.4,914.0 1242.0,918.0 1245.6,875.0 1249.4,886.0 1253.4,885.0 1257.0,885.0 1260.6,877.0 1264.4,886.0 1268.0,877.0 1271.6,886.0 1275.6,882.0 1279.4,889.0 1283.0,872.0 1286.6,870.0 1290.4,873.0 1294.0,866.0 1298.0,861.0 1301.6,861.0 1305.4,872.0 1309.0,868.0 1312.6,873.0 1316.4,865.0 1320.0,871.0 1323.6,857.0 1327.4,862.0 1331.0,866.0 1334.6,859.0 1338.4,880.0 1342.0,868.0 1346.0,877.0 1349.6,869.0 1353.4,868.0 1357.0,860.0 1360.6,868.0 1364.4,866.0 1368.0,859.0 1372.0,875.0 1375.6,859.0 1379.4,866.0 1383.0,856.0 1387.0,862.0 1390.6,861.0 1394.4,867.0 1398.0,859.0 1401.6,868.0 1405.4,856.0 1409.0,854.0 1413.0,855.0 1416.6,848.0 1420.4,856.0 1424.0,860.0 1427.6,864.0 1433.0,866.0"/>
<polyline clip-path="url(#cp3)" fill="none" stroke="#00bfff" stroke-width="2.7" stroke-linejoin="miter" stroke-miterlimit="3" points="185.0,853.0 191.4,854.0 195.0,851.0 198.6,845.0 202.4,853.0 209.6,856.0 217.0,850.0 221.0,845.0 224.4,854.0 232.0,851.0 235.6,850.0 239.4,852.0 243.0,857.0 250.4,851.0 254.0,856.0 258.0,861.0 261.6,858.0 265.4,857.0 272.6,860.0 276.4,858.0 280.0,855.0 287.4,856.0 291.0,853.0 295.0,847.0 298.6,854.0 302.4,850.0 306.0,848.0 310.0,851.0 313.6,855.0 317.4,850.0 321.0,863.0 328.4,855.0 332.0,859.0 336.0,864.0 339.6,859.0 343.4,860.0 347.0,848.0 350.6,851.0 354.4,854.0 358.0,845.0 362.0,851.0 365.6,858.0 369.4,848.0 373.0,853.0 376.6,856.0 380.4,858.0 384.0,856.0 387.6,851.0 391.4,845.0 395.4,853.0 399.0,849.0 402.6,857.0 406.4,853.0 413.6,851.0 421.4,855.0 428.6,854.0 436.0,856.0 443.6,852.0 451.0,852.0 454.6,851.0 458.4,846.0 462.0,852.0 466.0,849.4 469.6,849.0 473.4,855.0 477.0,861.0 480.0,856.0 484.0,851.0 488.0,857.0 492.0,853.0 499.4,849.0 503.0,855.0 506.6,859.0 510.4,862.0 514.0,860.0 517.6,858.6 521.4,856.0 525.0,860.0 528.6,857.0 532.4,856.0 540.0,855.0 547.4,856.0 558.4,855.0 566.0,851.0 569.6,856.0 573.4,858.0 580.6,855.0 584.4,854.0 592.0,855.0 595.6,859.0 599.4,857.0 603.0,868.0 606.6,867.0 610.4,859.0 614.0,862.0 618.0,858.0 621.6,861.0 625.4,857.0 629.0,851.0 632.6,847.0 636.4,839.0 640.0,847.0 644.0,849.0 647.4,852.0 651.4,850.0 655.0,852.0 658.6,857.0 662.4,858.0 666.0,851.0 670.0,843.0 674.0,846.0 677.6,850.0 681.0,844.0 685.0,843.0 688.6,831.0 692.4,844.0 696.0,845.0 700.0,847.0 703.4,850.0 707.0,844.0 711.0,845.0 714.6,842.0 718.4,844.0 722.0,839.0 726.0,849.0 729.6,843.0 733.4,837.4 737.0,850.0 740.6,846.0 744.4,850.0 748.0,856.0 752.0,855.0 755.6,870.0 759.4,853.0 763.0,848.0 770.6,848.0 774.0,844.0 778.0,853.0 780.0,857.0 782.0,857.0 785.6,867.0 789.0,857.0 792.6,865.0 796.6,855.0 800.4,846.0 804.0,845.0 807.6,848.0 811.4,838.0 815.0,836.0 819.0,831.0 822.4,848.0 826.4,844.0 830.0,849.0 833.6,850.0 837.6,851.0 841.0,847.0 844.6,842.0 848.6,853.0 852.4,846.0 856.0,858.0 860.0,850.0 863.0,852.0 867.0,867.0 871.0,851.0 874.4,844.0 878.4,855.0 882.0,862.0 886.0,855.0 889.6,860.0 893.4,857.0 897.0,860.0 900.6,855.0 904.4,850.0 908.0,856.0 912.0,861.0 915.6,854.0 919.4,858.0 923.0,863.0 926.6,861.0 930.4,859.0 934.0,861.0 938.0,867.0 941.6,859.0 945.4,851.0 949.0,853.0 952.6,854.0 956.4,853.0 960.0,857.0 963.6,861.0 967.4,860.0 971.0,855.0 974.6,853.0 978.6,850.0 982.4,857.0 986.0,862.0 990.0,855.0 993.6,850.0 997.4,859.0 1001.0,870.0 1004.6,865.0 1008.4,859.0 1012.0,860.0 1016.0,855.0 1019.6,856.0 1023.4,854.0 1027.0,849.0 1030.6,852.0 1034.4,850.0 1038.0,848.0 1041.6,849.0 1045.6,847.0 1049.4,855.0 1053.0,859.0 1056.6,861.0 1060.4,857.0 1064.0,861.0 1068.0,868.0 1071.6,871.0 1075.6,855.0 1079.0,850.0 1082.4,845.0 1086.0,851.0 1089.6,853.0 1093.6,857.0 1097.4,861.0 1101.0,868.0 1104.6,870.0 1108.4,858.0 1112.0,863.0 1116.0,855.0 1119.6,849.0 1123.4,848.0 1127.0,840.0 1131.0,841.0 1134.6,850.0 1138.4,843.0 1142.0,838.0 1145.6,848.0 1149.4,842.0 1153.0,844.0 1156.6,843.0 1160.6,836.0 1164.4,841.0 1168.0,848.0 1171.6,856.0 1175.4,856.0 1179.0,855.0 1182.6,860.0 1186.4,862.0 1190.0,849.0 1193.6,848.0 1197.6,844.0 1201.4,853.0 1205.0,862.0 1208.6,855.0 1212.4,854.0 1216.0,860.0 1220.0,851.0 1223.6,847.0 1227.4,845.0 1231.0,839.0 1234.6,850.0 1238.4,843.0 1242.0,848.0 1245.6,851.0 1249.4,854.0 1253.4,851.0 1257.0,847.0 1260.6,849.0 1264.4,849.0 1268.0,848.0 1271.6,845.0 1275.6,851.0 1279.4,857.0 1283.0,852.0 1286.6,856.0 1290.4,847.0 1294.0,843.0 1298.0,850.0 1301.6,851.0 1305.4,851.0 1309.0,850.0 1312.6,851.0 1316.4,853.0 1320.0,850.0 1323.6,855.0 1327.4,862.0 1331.0,857.0 1334.6,861.0 1338.4,851.0 1342.0,852.0 1346.0,847.0 1349.6,846.6 1353.4,848.0 1357.0,851.0 1360.6,851.0 1364.4,851.4 1368.0,854.0 1372.0,855.0 1375.6,857.0 1379.4,855.0 1383.0,850.0 1387.0,843.0 1390.6,850.0 1394.4,848.0 1398.0,846.6 1401.6,851.0 1405.4,849.0 1409.0,843.0 1413.0,843.0 1416.6,845.0 1420.4,847.0 1424.0,847.0 1427.6,853.0 1431.4,845.0 1433.0,849.0"/>
<polyline clip-path="url(#cp4)" fill="none" stroke="#ff4500" stroke-width="2.7" stroke-linejoin="miter" stroke-miterlimit="3" points="185.0,1149.0 187.6,1152.0 191.4,1135.0 195.0,1142.0 198.6,1149.0 202.4,1140.0 206.0,1138.0 209.6,1153.0 213.4,1135.0 217.0,1133.0 221.0,1143.0 224.4,1149.0 228.0,1138.0 232.0,1117.0 235.6,1129.0 239.4,1142.0 243.0,1149.0 246.6,1150.0 250.4,1148.0 254.0,1136.0 258.0,1140.0 261.6,1143.0 265.4,1144.0 269.0,1152.0 272.6,1149.0 276.4,1136.0 280.0,1144.0 283.6,1134.0 287.4,1137.0 291.0,1140.0 295.0,1134.0 298.6,1156.0 302.4,1148.0 306.0,1152.0 310.0,1138.0 313.6,1130.0 317.4,1132.0 321.0,1130.0 324.6,1116.0 328.4,1100.4 332.0,1118.0 336.0,1115.0 339.6,1114.6 343.4,1124.0 347.0,1142.0 350.6,1124.0 354.4,1152.0 358.0,1160.0 362.0,1161.6 365.6,1152.0 369.4,1157.0 373.0,1152.0 376.6,1127.0 380.4,1130.0 384.0,1161.0 387.6,1152.0 391.4,1164.0 395.4,1177.0 399.0,1159.0 402.6,1136.0 406.4,1121.4 410.0,1140.0 413.6,1154.0 417.4,1136.0 421.4,1146.0 425.0,1138.0 428.6,1148.0 432.4,1157.0 436.0,1148.0 440.0,1143.0 443.6,1144.0 447.4,1145.0 451.0,1143.0 454.6,1129.0 458.4,1140.0 462.0,1146.0 466.0,1133.0 469.6,1142.0 473.4,1141.0 477.0,1138.0 480.0,1140.0 484.0,1137.0 488.0,1142.0 492.0,1148.0 496.0,1122.0 499.4,1134.0 503.0,1133.0 506.6,1152.0 510.4,1157.0 514.0,1151.0 517.6,1134.0 521.4,1140.0 525.0,1148.0 528.6,1148.0 532.4,1132.0 536.4,1131.6 540.0,1143.0 543.6,1133.0 547.4,1140.0 551.0,1137.0 554.6,1138.0 558.4,1137.0 562.0,1138.0 566.0,1140.0 569.6,1148.0 573.4,1139.0 577.0,1140.0 580.6,1139.0 584.4,1138.0 588.0,1147.0 592.0,1137.0 595.6,1141.0 599.4,1137.0 603.0,1134.0 606.6,1145.0 610.4,1143.0 614.0,1134.0 618.0,1140.0 621.6,1138.0 625.4,1137.0 629.0,1135.0 632.6,1137.0 636.4,1134.0 640.0,1144.0 644.0,1152.0 647.4,1150.0 651.4,1142.0 655.0,1138.0 658.6,1152.0 662.4,1158.0 666.0,1166.0 670.0,1122.0 674.0,1131.0 677.6,1144.0 681.0,1162.0 685.0,1162.0 688.6,1154.0 692.4,1140.0 696.0,1134.0 700.0,1177.0 703.4,1144.0 707.0,1142.0 711.0,1172.0 714.6,1134.0 718.4,1136.0 722.0,1146.0 726.0,1167.0 729.6,1161.0 733.4,1148.0 737.0,1140.0 740.6,1134.0 744.4,1127.0 748.0,1136.0 752.0,1124.0 755.6,1115.6 759.4,1163.0 763.0,1144.0 767.0,1134.0 770.6,1144.0 774.0,1152.0 778.0,1151.0 780.0,1134.0 782.0,1124.0 785.6,1098.0 789.0,1092.4 792.6,1134.0 796.6,1129.0 800.4,1133.0 804.0,1136.0 807.6,1170.0 811.4,1188.0 815.0,1179.0 819.0,1178.0 822.4,1184.0 826.4,1161.0 830.0,1163.0 833.6,1177.0 837.6,1165.0 841.0,1164.0 844.6,1158.0 848.6,1169.0 852.4,1162.0 856.0,1161.0 860.0,1144.0 863.0,1154.0 867.0,1165.0 871.0,1148.0 874.4,1147.0 878.4,1162.0 882.0,1161.0 886.0,1154.0 889.6,1163.0 893.4,1171.6 897.0,1155.0 900.6,1164.4 904.4,1155.0 908.0,1159.0 912.0,1148.0 915.6,1156.0 919.4,1140.0 923.0,1148.0 926.6,1159.0 930.4,1161.0 934.0,1167.0 938.0,1136.0 941.6,1137.0 945.4,1136.0 949.0,1153.0 952.6,1145.0 956.4,1149.0 960.0,1149.0 963.6,1144.0 967.4,1143.0 971.0,1153.0 974.6,1142.0 978.6,1132.0 982.4,1153.0 986.0,1152.0 990.0,1151.0 993.6,1168.0 997.4,1157.0 1001.0,1165.0 1004.6,1155.0 1008.4,1158.0 1012.0,1162.0 1016.0,1186.0 1019.6,1152.0 1023.4,1165.0 1027.0,1160.0 1030.6,1148.0 1034.4,1152.0 1038.0,1149.0 1041.6,1154.0 1045.6,1160.0 1049.4,1159.0 1053.0,1150.0 1056.6,1159.0 1060.4,1144.0 1064.0,1157.0 1068.0,1153.0 1071.6,1162.0 1075.6,1174.0 1079.0,1152.0 1082.4,1163.0 1086.0,1163.0 1089.6,1160.0 1093.6,1156.0 1097.4,1170.0 1101.0,1183.0 1104.6,1180.0 1108.4,1171.0 1112.0,1169.0 1116.0,1176.0 1119.6,1185.0 1123.4,1176.0 1127.0,1169.0 1131.0,1175.0 1134.6,1193.6 1138.4,1178.0 1142.0,1165.0 1145.6,1169.0 1149.4,1174.0 1153.0,1163.0 1156.6,1170.0 1160.6,1155.0 1164.4,1160.0 1168.0,1160.0 1171.6,1177.6 1175.4,1176.0 1179.0,1167.0 1182.6,1175.0 1186.4,1175.6 1190.0,1175.0 1193.6,1168.0 1197.6,1171.0 1201.4,1172.0 1205.0,1178.0 1208.6,1188.0 1212.4,1174.0 1216.0,1178.0 1220.0,1161.0 1223.6,1160.0 1227.4,1138.0 1231.0,1131.0 1234.6,1147.0 1238.4,1156.0 1242.0,1165.0 1245.6,1158.0 1249.4,1170.0 1253.4,1178.0 1257.0,1168.0 1260.6,1171.0 1264.4,1146.0 1268.0,1150.0 1271.6,1156.0 1275.6,1161.0 1279.4,1164.0 1283.0,1160.0 1286.6,1160.0 1290.4,1165.0 1294.0,1160.0 1298.0,1150.0 1301.6,1163.0 1305.4,1155.0 1309.0,1149.0 1312.6,1145.0 1316.4,1144.0 1320.0,1146.0 1323.6,1157.0 1327.4,1155.0 1331.0,1149.0 1334.6,1145.0 1338.4,1140.0 1342.0,1131.0 1346.0,1149.0 1349.6,1140.0 1353.4,1159.0 1357.0,1138.0 1360.6,1161.0 1364.4,1155.0 1368.0,1148.0 1372.0,1144.0 1375.6,1149.0 1379.4,1164.0 1383.0,1155.0 1387.0,1161.0 1390.6,1138.0 1394.4,1145.0 1398.0,1148.0 1401.6,1131.0 1405.4,1132.0 1409.0,1161.0 1413.0,1157.0 1416.6,1153.0 1420.4,1157.0 1424.0,1160.0 1427.6,1142.0 1431.4,1146.0 1433.0,1148.0"/>
<line x1="185.9" y1="1143.0" x2="1433.0" y2="1143.0" stroke="#111" stroke-width="1.3" stroke-dasharray="18 17.5"/>
<polyline clip-path="url(#cp4)" fill="none" stroke="#32cd32" stroke-width="2.7" stroke-linejoin="miter" stroke-miterlimit="3" points="185.0,1143.0 191.4,1138.0 195.0,1144.0 198.6,1139.0 202.4,1139.6 206.0,1143.0 209.6,1141.0 217.0,1144.0 221.0,1134.6 224.4,1145.0 228.0,1141.0 232.0,1144.0 235.6,1145.0 239.4,1151.0 243.0,1152.4 250.4,1144.0 254.0,1143.0 258.0,1145.0 261.6,1138.0 265.4,1139.0 269.0,1138.0 272.6,1140.0 276.4,1142.0 280.0,1143.0 283.6,1140.0 287.4,1144.0 291.0,1147.0 295.0,1140.0 298.6,1140.0 302.4,1139.0 306.0,1136.0 310.0,1143.0 313.6,1139.0 317.4,1137.0 321.0,1144.0 324.6,1140.0 328.4,1147.0 332.0,1144.0 336.0,1147.0 339.6,1140.0 343.4,1146.0 347.0,1138.0 350.6,1140.0 354.4,1131.0 358.0,1126.0 362.0,1125.0 365.6,1133.0 369.4,1123.6 373.0,1126.0 376.6,1129.0 380.4,1152.0 384.0,1140.0 387.6,1136.0 391.4,1129.6 395.4,1134.0 399.0,1140.0 402.6,1151.0 406.4,1150.0 410.0,1136.0 413.6,1144.0 417.4,1131.0 421.4,1128.0 425.0,1137.0 428.6,1135.0 432.4,1137.0 436.0,1140.0 443.6,1139.0 447.4,1144.0 454.6,1143.0 458.4,1141.0 466.0,1140.0 473.4,1142.0 480.0,1137.0 484.0,1144.0 488.0,1146.0 492.0,1143.0 499.4,1138.0 503.0,1137.0 506.6,1133.0 510.4,1137.0 514.0,1140.0 517.6,1146.0 521.4,1144.0 525.0,1140.0 528.6,1141.0 532.4,1140.0 536.4,1141.0 540.0,1144.0 543.6,1140.0 547.4,1136.6 551.0,1138.0 554.6,1144.0 558.4,1141.0 562.0,1144.0 566.0,1140.0 569.6,1134.0 573.4,1142.0 577.0,1140.0 580.6,1145.0 584.4,1148.0 588.0,1144.0 592.0,1140.0 595.6,1138.0 599.4,1140.0 603.0,1143.0 606.6,1141.0 610.4,1136.0 614.0,1138.0 618.0,1140.0 621.6,1137.0 625.4,1138.0 629.0,1135.0 632.6,1138.0 636.4,1141.0 640.0,1130.0 644.0,1118.4 651.4,1118.6 655.0,1140.0 658.6,1143.0 662.4,1138.0 666.0,1144.0 670.0,1148.0 674.0,1144.0 677.6,1140.0 681.0,1136.0 685.0,1137.0 688.6,1122.0 692.4,1124.0 696.0,1125.0 700.0,1143.0 703.4,1138.0 707.0,1136.0 711.0,1133.0 714.6,1144.0 718.4,1137.0 722.0,1140.0 726.0,1144.0 729.6,1133.0 733.4,1136.0 737.0,1141.0 740.6,1134.0 744.4,1130.0 748.0,1132.0 752.0,1108.0 755.6,1105.0 759.4,1104.0 763.0,1092.4 767.0,1118.0 770.6,1122.0 774.0,1136.0 778.0,1100.0 780.0,1080.0 782.0,1055.0 785.6,1076.0 789.0,1064.0 792.6,1071.0 796.6,1072.0 800.4,1045.0 804.0,1044.4 807.6,1067.0 811.4,1065.0 815.0,1078.0 819.0,1080.0 822.4,1086.0 826.4,1087.0 830.0,1096.0 833.6,1105.0 837.6,1097.0 841.0,1113.0 844.6,1119.0 848.6,1121.6 852.4,1102.0 856.0,1096.0 860.0,1093.0 863.0,1097.0 867.0,1093.0 871.0,1079.0 874.4,1094.0 878.4,1116.0 882.0,1106.0 886.0,1099.0 889.6,1112.0 893.4,1114.4 897.0,1105.0 900.6,1113.0 904.4,1102.0 908.0,1107.0 912.0,1113.0 915.6,1118.0 919.4,1130.0 923.0,1125.0 926.6,1128.0 930.4,1122.0 934.0,1130.0 938.0,1136.0 941.6,1128.0 945.4,1133.0 949.0,1126.0 952.6,1118.0 956.4,1127.0 960.0,1126.0 963.6,1143.0 967.4,1132.0 971.0,1132.0 974.6,1123.0 978.6,1122.0 982.4,1119.0 986.0,1138.0 990.0,1128.0 993.6,1125.0 997.4,1138.0 1001.0,1126.0 1004.6,1133.0 1008.4,1124.0 1012.0,1116.0 1016.0,1122.0 1019.6,1133.0 1023.4,1120.0 1027.0,1130.0 1030.6,1140.0 1034.4,1129.0 1038.0,1138.0 1041.6,1134.0 1045.6,1122.0 1049.4,1134.0 1053.0,1136.0 1056.6,1122.0 1060.4,1127.0 1064.0,1114.0 1068.0,1120.0 1071.6,1129.0 1075.6,1120.0 1079.0,1113.0 1082.4,1118.0 1086.0,1131.0 1089.6,1121.0 1093.6,1125.0 1097.4,1141.0 1101.0,1143.0 1104.6,1133.0 1108.4,1117.0 1112.0,1126.0 1116.0,1121.0 1119.6,1119.0 1123.4,1110.0 1127.0,1106.0 1131.0,1104.0 1134.6,1104.4 1138.4,1097.0 1142.0,1093.6 1145.6,1112.0 1149.4,1097.0 1153.0,1097.4 1156.6,1111.0 1160.6,1105.0 1164.4,1127.6 1168.0,1115.0 1171.6,1120.0 1175.4,1127.0 1179.0,1121.0 1182.6,1125.0 1186.4,1114.0 1190.0,1121.0 1193.6,1114.0 1197.6,1122.0 1201.4,1119.0 1205.0,1125.0 1208.6,1110.0 1212.4,1095.0 1216.0,1079.0 1220.0,1065.0 1223.6,1088.0 1227.4,1088.0 1231.0,1100.0 1234.6,1104.0 1238.4,1086.0 1242.0,1080.4 1245.6,1123.0 1249.4,1102.0 1253.4,1102.0 1257.0,1111.0 1260.6,1117.0 1264.4,1104.0 1268.0,1110.0 1271.6,1106.0 1275.6,1111.0 1279.4,1111.0 1283.0,1120.0 1286.6,1124.0 1290.4,1123.0 1294.0,1132.0 1298.0,1134.0 1301.6,1134.4 1305.4,1121.0 1309.0,1126.0 1312.6,1120.0 1316.4,1131.0 1320.0,1122.0 1323.6,1138.0 1327.4,1142.0 1331.0,1131.0 1334.6,1136.0 1338.4,1116.0 1342.0,1120.0 1346.0,1116.0 1349.6,1122.0 1353.4,1125.0 1357.0,1134.0 1360.6,1123.0 1364.4,1126.0 1368.0,1137.0 1372.0,1112.4 1375.6,1138.0 1379.4,1128.0 1383.0,1139.0 1387.0,1134.0 1390.6,1134.0 1394.4,1131.0 1398.0,1137.0 1401.6,1123.0 1405.4,1138.0 1409.0,1142.0 1413.0,1141.0 1416.6,1150.0 1420.4,1139.0 1424.0,1134.0 1427.6,1131.0 1433.0,1126.0"/>
<polyline clip-path="url(#cp4)" fill="none" stroke="#00bfff" stroke-width="2.7" stroke-linejoin="miter" stroke-miterlimit="3" points="185.0,1143.0 191.4,1143.0 195.0,1144.0 198.6,1148.0 202.4,1144.0 206.0,1141.0 209.6,1140.0 217.0,1145.0 221.0,1149.6 224.4,1143.0 232.0,1143.0 235.6,1143.0 239.4,1141.0 243.0,1140.0 246.6,1142.0 250.4,1145.0 254.0,1140.0 258.0,1138.0 261.6,1139.0 265.4,1139.0 269.0,1140.0 272.6,1137.0 276.4,1139.0 280.0,1142.0 283.6,1142.0 291.0,1141.0 295.0,1148.0 298.6,1143.0 302.4,1146.0 306.0,1150.0 310.0,1146.0 313.6,1142.0 317.4,1147.0 321.0,1135.0 324.6,1140.0 328.4,1143.0 332.0,1138.0 336.0,1133.4 339.6,1138.0 343.4,1137.0 347.0,1147.0 350.6,1145.0 354.4,1143.0 358.0,1153.0 362.0,1147.0 365.6,1138.0 369.4,1148.0 373.0,1140.0 376.6,1144.0 380.4,1137.0 384.0,1138.0 387.6,1142.0 391.4,1152.0 395.4,1143.0 399.0,1150.0 402.6,1136.0 406.4,1139.0 410.0,1146.0 413.6,1147.0 417.4,1145.0 421.4,1143.0 428.6,1144.0 436.0,1142.0 443.6,1143.0 451.0,1144.0 454.6,1145.0 458.4,1148.0 462.0,1145.0 466.0,1147.0 469.6,1147.0 473.4,1143.0 480.0,1142.0 484.0,1145.0 488.0,1142.0 492.0,1143.0 499.4,1147.0 503.0,1140.0 506.6,1138.0 510.4,1137.0 514.0,1138.4 517.6,1138.0 521.4,1143.0 525.0,1140.0 528.6,1140.0 532.4,1140.6 540.0,1142.0 547.4,1141.0 554.6,1142.0 558.4,1141.0 562.0,1143.0 566.0,1144.0 569.6,1141.0 573.4,1140.0 577.0,1139.6 584.4,1142.0 592.0,1141.0 595.6,1138.0 599.4,1139.0 603.0,1135.0 606.6,1135.0 610.4,1139.0 614.0,1140.0 618.0,1138.0 621.6,1140.0 625.4,1143.0 629.0,1145.0 632.6,1148.0 636.4,1152.0 640.0,1147.0 644.0,1148.0 647.4,1144.0 651.4,1147.0 655.0,1145.0 658.6,1143.0 662.4,1145.0 666.0,1143.0 670.0,1150.0 674.0,1149.0 677.6,1145.0 681.0,1150.0 685.0,1149.0 688.6,1159.0 692.4,1150.0 696.0,1151.0 700.0,1150.0 703.4,1148.0 707.0,1153.0 711.0,1149.0 714.6,1156.0 718.4,1150.0 722.0,1157.0 726.0,1146.0 729.6,1153.0 733.4,1158.0 737.0,1144.0 740.6,1149.0 744.4,1148.0 748.0,1140.0 752.0,1139.0 755.6,1131.0 759.4,1142.0 763.0,1147.0 767.0,1148.0 770.6,1147.0 774.0,1151.0 778.0,1148.0 780.0,1142.0 782.0,1139.0 785.6,1132.0 789.0,1138.0 792.6,1131.0 796.6,1142.0 800.4,1149.0 804.0,1150.0 807.6,1148.0 811.4,1157.0 815.0,1158.0 819.0,1162.0 822.4,1149.0 826.4,1149.6 830.0,1146.0 833.6,1147.0 837.6,1146.0 841.0,1149.0 844.6,1150.0 848.6,1143.0 852.4,1149.0 856.0,1139.0 860.0,1146.0 863.0,1143.0 867.0,1135.0 871.0,1146.0 874.4,1151.0 878.4,1142.0 882.0,1136.0 886.0,1142.0 889.6,1139.0 893.4,1140.0 897.0,1137.0 900.6,1141.0 904.4,1146.0 908.0,1142.0 912.0,1136.0 915.6,1144.0 919.4,1139.0 923.0,1134.0 926.6,1137.0 930.4,1139.0 934.0,1137.0 938.0,1132.0 941.6,1136.0 945.4,1146.0 949.0,1143.0 952.6,1144.0 956.4,1143.0 960.0,1140.0 963.6,1137.0 967.4,1137.0 971.0,1141.0 974.6,1144.0 978.6,1148.0 982.4,1139.0 986.0,1137.0 990.0,1143.0 993.6,1150.0 997.4,1140.0 1001.0,1123.0 1004.6,1130.0 1008.4,1135.0 1012.0,1132.0 1016.0,1139.0 1019.6,1137.0 1023.4,1142.0 1027.0,1148.0 1030.6,1144.0 1034.4,1147.0 1038.0,1151.0 1041.6,1148.0 1045.6,1150.0 1049.4,1143.0 1053.0,1138.0 1056.6,1136.0 1060.4,1141.0 1064.0,1140.0 1068.0,1129.0 1071.6,1130.0 1075.6,1141.0 1079.0,1143.0 1082.4,1149.0 1086.0,1143.0 1089.6,1140.0 1093.6,1138.0 1097.4,1135.0 1101.0,1130.0 1104.6,1131.0 1108.4,1139.0 1112.0,1136.0 1116.0,1144.0 1119.6,1149.0 1123.4,1148.0 1127.0,1155.0 1131.0,1160.0 1134.6,1145.0 1138.4,1152.0 1142.0,1155.0 1145.6,1147.0 1149.4,1155.0 1153.0,1152.0 1156.6,1152.0 1160.6,1159.0 1164.4,1156.0 1168.0,1149.0 1171.6,1141.0 1175.4,1140.0 1179.0,1141.0 1182.6,1137.0 1186.4,1135.0 1190.0,1148.0 1193.6,1147.0 1197.6,1154.0 1201.4,1143.0 1205.0,1135.0 1208.6,1141.0 1212.4,1143.0 1216.0,1136.0 1220.0,1147.0 1223.6,1151.0 1227.4,1150.0 1231.0,1157.0 1234.6,1145.0 1238.4,1154.0 1242.0,1149.0 1245.6,1146.0 1249.4,1143.0 1253.4,1147.0 1257.0,1150.0 1260.6,1149.0 1264.4,1151.0 1268.0,1150.0 1271.6,1154.0 1275.6,1147.0 1279.4,1141.0 1283.0,1146.0 1286.6,1139.0 1290.4,1148.0 1294.0,1152.0 1298.0,1147.0 1301.6,1146.0 1305.4,1145.0 1309.0,1148.0 1312.6,1146.0 1316.4,1144.0 1320.0,1149.0 1323.6,1142.0 1327.4,1132.0 1331.0,1138.0 1334.6,1133.0 1338.4,1146.0 1342.0,1146.0 1346.0,1151.0 1349.6,1154.0 1353.4,1152.0 1357.0,1149.0 1360.6,1147.0 1364.4,1147.0 1368.0,1143.0 1372.0,1140.0 1375.6,1138.0 1379.4,1142.0 1383.0,1145.0 1387.0,1155.0 1390.6,1148.0 1394.4,1149.0 1398.0,1152.0 1401.6,1146.0 1405.4,1149.0 1409.0,1157.0 1413.0,1155.0 1416.6,1152.0 1420.4,1151.0 1424.0,1151.6 1427.6,1145.0 1431.4,1152.0 1433.6,1148.0"/>
<polyline clip-path="url(#cp5)" fill="none" stroke="#000" stroke-width="3.0" stroke-linejoin="round" stroke-miterlimit="3" points="185.0,1400.8 185.9,1400.7 186.8,1399.9 187.7,1400.2 188.6,1400.1 189.5,1400.7 190.4,1400.3 191.3,1400.4 192.2,1400.1 193.1,1400.2 194.0,1399.8 194.9,1399.5 195.8,1398.2 196.7,1398.1 197.6,1398.0 198.5,1399.2 199.4,1399.3 200.3,1399.3 201.2,1400.4 202.1,1402.2 203.0,1403.2 203.9,1402.4 204.8,1401.6 205.7,1400.9 206.6,1399.9 207.5,1398.7 208.4,1396.9 209.3,1396.1 210.2,1396.1 211.1,1396.9 212.0,1398.9 212.9,1400.0 213.8,1400.6 214.7,1399.5 215.6,1399.3 216.5,1399.0 217.4,1399.5 218.3,1397.9 219.2,1398.3 220.1,1398.2 221.0,1399.4 221.9,1400.0 222.8,1399.2 223.7,1399.7 224.6,1399.2 225.5,1399.7 226.4,1399.5 227.3,1400.0 228.2,1400.2 229.1,1400.8 230.0,1401.0 230.9,1401.2 231.8,1400.8 232.7,1401.1 233.6,1401.6 234.5,1402.6 235.4,1402.7 236.3,1402.4 237.2,1401.9 238.1,1402.5 239.0,1402.1 239.9,1402.4 240.8,1402.9 241.7,1404.3 242.6,1404.7 243.5,1404.2 244.4,1404.8 245.3,1404.3 246.2,1404.3 247.1,1402.6 248.0,1402.3 248.9,1401.4 249.8,1400.9 250.7,1399.9 251.6,1399.5 252.5,1399.7 253.4,1399.6 254.3,1398.4 255.2,1397.7 256.1,1397.7 257.0,1398.4 257.9,1399.4 258.8,1400.5 259.7,1400.5 260.6,1400.7 261.5,1400.3 262.4,1400.3 263.3,1399.9 264.2,1398.8 265.1,1399.8 266.0,1400.2 266.9,1400.8 267.8,1399.9 268.7,1399.1 269.6,1399.6 270.5,1400.2 271.4,1401.7 272.3,1402.7 273.2,1403.5 274.1,1402.2 275.0,1401.3 275.9,1399.7 276.8,1399.9 277.7,1399.8 278.6,1400.2 279.5,1400.1 280.4,1400.5 281.3,1400.7 282.2,1401.2 283.1,1400.6 284.0,1400.8 284.9,1400.8 285.8,1400.7 286.7,1400.9 287.6,1400.8 288.5,1400.9 289.4,1400.8 290.3,1401.0 291.2,1401.0 292.1,1400.5 293.0,1400.1 293.9,1399.6 294.8,1400.3 295.7,1400.4 296.6,1401.6 297.5,1401.5 298.4,1402.1 299.3,1402.0 300.2,1402.8 301.1,1401.8 302.0,1402.6 302.9,1402.8 303.8,1404.5 304.7,1404.9 305.6,1405.3 306.5,1404.0 307.4,1403.2 308.3,1400.8 309.2,1399.2 310.1,1396.9 311.0,1396.4 311.9,1396.4 312.8,1397.0 313.7,1398.0 314.6,1399.3 315.5,1400.1 316.4,1400.8 317.3,1401.2 318.2,1402.2 319.1,1402.6 320.0,1403.1 320.9,1401.8 321.8,1398.6 322.7,1394.3 323.6,1389.0 324.5,1385.3 325.4,1381.4 326.3,1378.8 327.2,1376.6 328.1,1376.6 329.0,1379.6 329.9,1385.0 330.8,1391.9 331.7,1397.6 332.6,1403.7 333.5,1410.0 334.4,1416.0 335.3,1421.5 336.2,1425.6 337.1,1429.8 338.0,1433.2 338.9,1435.1 339.8,1435.6 340.7,1435.1 341.6,1432.0 342.5,1428.0 343.4,1421.1 344.3,1414.5 345.2,1408.7 346.1,1404.1 347.0,1400.9 347.9,1399.1 348.8,1399.1 349.7,1400.5 350.6,1401.1 351.5,1403.1 352.4,1406.0 353.3,1410.5 354.2,1412.5 355.1,1413.5 356.0,1414.1 356.9,1415.6 357.8,1415.8 358.7,1413.8 359.6,1409.7 360.5,1406.1 361.4,1403.0 362.3,1401.5 363.2,1400.8 364.1,1403.1 365.0,1405.7 365.9,1408.0 366.8,1406.4 367.7,1404.7 368.6,1402.3 369.5,1402.1 370.4,1400.6 371.3,1397.6 372.2,1391.7 373.1,1389.7 374.0,1391.7 374.9,1396.6 375.8,1400.6 376.7,1401.6 377.6,1402.7 378.5,1402.2 379.4,1402.4 380.3,1402.8 381.2,1402.9 382.1,1402.4 383.0,1401.2 383.9,1400.2 384.8,1399.2 385.7,1398.0 386.6,1396.8 387.5,1396.7 388.4,1395.9 389.3,1395.3 390.2,1395.6 391.1,1397.3 392.0,1399.9 392.9,1401.7 393.8,1404.0 394.7,1405.5 395.6,1406.7 396.5,1405.8 397.4,1403.6 398.3,1401.2 399.2,1401.5 400.1,1401.9 401.0,1402.9 401.9,1402.0 402.8,1402.5 403.7,1401.8 404.6,1400.7 405.5,1399.2 406.4,1398.7 407.3,1399.2 408.2,1399.1 409.1,1398.8 410.0,1398.1 410.9,1397.1 411.8,1396.9 412.7,1397.0 413.6,1398.1 414.5,1399.7 415.4,1399.7 416.3,1400.2 417.2,1399.1 418.1,1399.2 419.0,1398.1 419.9,1397.6 420.8,1397.5 421.7,1398.7 422.6,1399.9 423.5,1400.4 424.4,1400.6 425.3,1400.3 426.2,1400.2 427.1,1399.8 428.0,1398.9 428.9,1399.3 429.8,1398.5 430.7,1399.5 431.6,1399.0 432.5,1399.2 433.4,1399.6 434.3,1399.7 435.2,1400.3 436.1,1400.1 437.0,1399.8 437.9,1399.6 438.8,1399.9 439.7,1399.9 440.6,1400.1 441.5,1399.6 442.4,1400.2 443.3,1399.7 444.2,1400.3 445.1,1400.7 446.0,1401.1 446.9,1400.3 447.8,1399.9 448.7,1399.9 449.6,1401.3 450.5,1400.9 451.4,1401.3 452.3,1400.9 453.2,1401.5 454.1,1401.8 455.0,1401.9 455.9,1402.4 456.8,1401.3 457.7,1400.5 458.6,1399.7 459.5,1400.1 460.4,1399.7 461.3,1399.8 462.2,1399.9 463.1,1400.5 464.0,1399.8 464.9,1400.1 465.8,1399.8 466.7,1400.3 467.6,1399.9 468.5,1400.5 469.4,1399.6 470.3,1399.6 471.2,1399.2 472.1,1400.4 473.0,1400.7 473.9,1401.2 474.8,1401.1 475.7,1400.1 476.6,1400.2 477.5,1400.2 478.4,1400.5 479.3,1398.8 480.2,1397.9 481.1,1398.8 482.0,1399.5 482.9,1400.6 483.8,1399.4 484.7,1400.0 485.6,1400.4 486.5,1401.1 487.4,1401.3 488.3,1400.7 489.2,1401.0 490.1,1400.4 491.0,1400.2 491.9,1400.3 492.8,1401.7 493.7,1402.1 494.6,1402.7 495.5,1402.6 496.4,1402.3 497.3,1401.6 498.2,1399.3 499.1,1398.1 500.0,1397.0 500.9,1398.0 501.8,1398.4 502.7,1397.6 503.6,1396.8 504.5,1395.9 505.4,1395.9 506.3,1396.0 507.2,1396.1 508.1,1397.0 509.0,1398.2 509.9,1400.0 510.8,1400.6 511.7,1399.4 512.6,1398.6 513.5,1399.2 514.4,1400.5 515.3,1401.3 516.2,1400.6 517.1,1401.6 518.0,1402.1 518.9,1402.9 519.8,1401.8 520.7,1400.8 521.6,1400.3 522.5,1400.6 523.4,1401.1 524.3,1400.7 525.2,1400.6 526.1,1400.2 527.0,1400.1 527.9,1399.2 528.8,1399.8 529.7,1400.4 530.6,1400.8 531.5,1400.1 532.4,1399.3 533.3,1398.5 534.2,1398.7 535.1,1398.8 536.0,1398.9 536.9,1398.6 537.8,1398.3 538.7,1398.7 539.6,1399.3 540.5,1399.9 541.4,1400.2 542.3,1400.0 543.2,1399.2 544.1,1398.8 545.0,1398.2 545.9,1398.9 546.8,1399.3 547.7,1400.2 548.6,1400.9 549.5,1401.0 550.4,1401.2 551.3,1401.2 552.2,1401.8 553.1,1401.8 554.0,1402.1 554.9,1401.7 555.8,1401.7 556.7,1401.4 557.6,1400.6 558.5,1399.4 559.4,1398.9 560.3,1399.4 561.2,1400.2 562.1,1399.7 563.0,1399.9 563.9,1399.4 564.8,1399.9 565.7,1398.7 566.6,1397.9 567.5,1398.0 568.4,1398.9 569.3,1400.1 570.2,1399.8 571.1,1399.1 572.0,1400.0 572.9,1399.8 573.8,1401.1 574.7,1400.5 575.6,1400.9 576.5,1399.8 577.4,1399.4 578.3,1399.1 579.2,1400.0 580.1,1399.7 581.0,1400.0 581.9,1400.4 582.8,1401.5 583.7,1401.2 584.6,1401.1 585.5,1400.3 586.4,1400.6 587.3,1399.3 588.2,1399.2 589.1,1397.9 590.0,1397.6 590.9,1396.6 591.8,1396.8 592.7,1397.3 593.6,1397.6 594.5,1398.6 595.4,1398.6 596.3,1399.0 597.2,1398.5 598.1,1397.8 599.0,1397.4 599.9,1397.9 600.8,1399.9 601.7,1401.6 602.6,1403.1 603.5,1403.6 604.4,1405.2 605.3,1406.0 606.2,1406.2 607.1,1405.7 608.0,1404.7 608.9,1403.7 609.8,1401.7 610.7,1401.2 611.6,1401.5 612.5,1402.3 613.4,1402.1 614.3,1401.1 615.2,1400.6 616.1,1400.1 617.0,1400.7 617.9,1399.3 618.8,1399.0 619.7,1397.1 620.6,1398.4 621.5,1397.8 622.4,1399.2 623.3,1398.8 624.2,1399.7 625.1,1400.0 626.0,1400.3 626.9,1400.6 627.8,1400.4 628.7,1401.4 629.6,1401.6 630.5,1402.2 631.4,1402.3 632.3,1401.5 633.2,1401.0 634.1,1400.5 635.0,1401.1 635.9,1400.8 636.8,1400.6 637.7,1400.3 638.6,1401.9 639.5,1402.9 640.4,1404.8 641.3,1404.3 642.2,1402.3 643.1,1396.9 644.0,1391.4 644.9,1387.9 645.8,1387.3 646.7,1388.8 647.6,1389.4 648.5,1390.7 649.4,1392.2 650.3,1395.3 651.2,1397.3 652.1,1400.2 653.0,1401.6 653.9,1403.1 654.8,1402.1 655.7,1401.8 656.6,1401.3 657.5,1401.2 658.4,1400.3 659.3,1399.9 660.2,1398.9 661.1,1399.2 662.0,1399.5 662.9,1398.6 663.8,1398.5 664.7,1397.7 665.6,1398.8 666.5,1398.8 667.4,1399.3 668.3,1399.3 669.2,1399.9 670.1,1400.5 671.0,1401.3 671.9,1400.9 672.8,1400.1 673.7,1399.2 674.6,1399.1 675.5,1399.5 676.4,1399.7 677.3,1399.7 678.2,1400.0 679.1,1399.9 680.0,1397.9 680.9,1395.9 681.8,1392.7 682.7,1390.5 683.6,1388.5 684.5,1387.9 685.4,1388.0 686.3,1388.1 687.2,1389.4 688.1,1392.3 689.0,1395.1 689.9,1398.2 690.8,1401.7 691.7,1406.3 692.6,1411.0 693.5,1413.3 694.4,1414.0 695.3,1410.8 696.2,1406.6 697.1,1401.1 698.0,1399.0 698.9,1399.1 699.8,1402.1 700.7,1404.9 701.6,1407.1 702.5,1407.3 703.4,1405.5 704.3,1403.5 705.2,1402.1 706.1,1402.8 707.0,1403.4 707.9,1404.2 708.8,1404.0 709.7,1403.8 710.6,1403.2 711.5,1401.4 712.4,1400.1 713.3,1396.7 714.2,1395.4 715.1,1393.2 716.0,1392.7 716.9,1393.2 717.8,1395.2 718.7,1398.7 719.6,1400.6 720.5,1399.9 721.4,1397.8 722.3,1393.6 723.2,1390.6 724.1,1386.6 725.0,1382.9 725.9,1380.4 726.8,1379.6 727.7,1381.2 728.6,1383.9 729.5,1389.0 730.4,1396.8 731.3,1406.2 732.2,1410.5 733.1,1410.0 734.0,1405.4 734.9,1403.0 735.8,1401.4 736.7,1401.2 737.6,1401.2 738.5,1401.3 739.4,1399.8 740.3,1397.5 741.2,1394.5 742.1,1391.6 743.0,1389.3 743.9,1387.1 744.8,1386.2 745.7,1387.3 746.6,1390.4 747.5,1394.5 748.4,1395.2 749.3,1392.5 750.2,1387.4 751.1,1383.2 752.0,1381.6 752.9,1385.7 753.8,1393.0 754.7,1401.6 755.6,1406.1 756.5,1401.3 757.4,1390.0 758.3,1372.7 759.2,1359.2 760.1,1354.3 761.0,1366.1 761.9,1389.5 762.8,1413.4 763.7,1428.8 764.6,1432.7 765.5,1429.7 766.4,1421.5 767.3,1415.3 768.2,1410.3 769.1,1407.0 770.0,1402.8 770.9,1399.3 771.8,1395.8 772.7,1393.7 773.6,1393.1 774.5,1395.3 775.4,1399.4 776.3,1405.3 777.2,1411.6 778.1,1413.5 779.0,1411.3 779.9,1406.3 780.8,1406.1 781.7,1414.1 782.6,1428.2 783.5,1446.1 784.4,1458.7 785.3,1464.8 786.2,1461.6 787.1,1451.3 788.0,1435.4 788.9,1418.1 789.8,1408.3 790.7,1411.9 791.6,1427.3 792.5,1445.5 793.4,1458.7 794.3,1461.3 795.2,1454.9 796.1,1438.8 797.0,1418.7 797.9,1395.1 798.8,1371.0 799.7,1346.8 800.6,1323.8 801.5,1310.7 802.4,1309.1 803.3,1318.2 804.2,1332.1 805.1,1349.5 806.0,1367.1 806.9,1376.6 807.8,1372.5 808.7,1356.7 809.6,1338.8 810.5,1325.2 811.4,1325.1 812.3,1336.7 813.2,1358.4 814.1,1382.4 815.0,1403.7 815.9,1421.7 816.8,1429.0 817.7,1421.6 818.6,1398.9 819.5,1366.0 820.4,1334.0 821.3,1304.4 822.2,1282.9 823.1,1269.6 824.0,1264.4 824.9,1266.1 825.8,1270.2 826.7,1278.3 827.6,1289.3 828.5,1303.1 829.4,1316.0 830.3,1329.1 831.2,1339.6 832.1,1348.2 833.0,1355.0 833.9,1362.3 834.8,1369.8 835.7,1375.5 836.6,1379.7 837.5,1383.5 838.4,1386.6 839.3,1387.8 840.2,1386.0 841.1,1381.6 842.0,1377.6 842.9,1375.6 843.8,1376.3 844.7,1380.5 845.6,1385.2 846.5,1390.5 847.4,1394.3 848.3,1398.3 849.2,1403.3 850.1,1408.7 851.0,1414.7 851.9,1417.5 852.8,1416.0 853.7,1408.9 854.6,1398.7 855.5,1388.8 856.4,1384.8 857.3,1387.7 858.2,1395.8 859.1,1402.8 860.0,1409.2 860.9,1412.0 861.8,1414.0 862.7,1409.8 863.6,1402.3 864.5,1385.5 865.4,1362.9 866.3,1335.9 867.2,1309.9 868.1,1288.7 869.0,1274.5 869.9,1268.9 870.8,1270.8 871.7,1277.2 872.6,1289.7 873.5,1306.9 874.4,1327.0 875.3,1345.6 876.2,1359.3 877.1,1369.4 878.0,1376.6 878.9,1383.0 879.8,1390.0 880.7,1396.0 881.6,1402.2 882.5,1408.7 883.4,1411.2 884.3,1408.7 885.2,1398.4 886.1,1386.5 887.0,1374.6 887.9,1364.6 888.8,1358.9 889.7,1357.2 890.6,1360.9 891.5,1367.0 892.4,1374.3 893.3,1380.1 894.2,1384.4 895.1,1386.4 896.0,1385.6 896.9,1383.4 897.8,1379.4 898.7,1376.0 899.6,1374.1 900.5,1375.8 901.4,1381.2 902.3,1386.5 903.2,1390.2 904.1,1389.4 905.0,1384.8 905.9,1379.5 906.8,1375.0 907.7,1373.1 908.6,1371.6 909.5,1372.0 910.4,1373.3 911.3,1376.4 912.2,1380.2 913.1,1385.4 914.0,1391.1 914.9,1394.4 915.8,1396.7 916.7,1396.1 917.6,1395.7 918.5,1394.3 919.4,1393.4 920.3,1393.2 921.2,1394.3 922.1,1395.8 923.0,1397.5 923.9,1399.3 924.8,1401.4 925.7,1403.3 926.6,1405.6 927.5,1408.3 928.4,1413.1 929.3,1418.2 930.2,1422.8 931.1,1426.3 932.0,1428.6 932.9,1428.0 933.8,1424.6 934.7,1418.4 935.6,1413.4 936.5,1406.5 937.4,1402.6 938.3,1399.6 939.2,1399.7 940.1,1398.9 941.0,1398.5 941.9,1399.6 942.8,1400.9 943.7,1402.5 944.6,1404.3 945.5,1406.9 946.4,1409.9 947.3,1413.2 948.2,1417.0 949.1,1420.2 950.0,1423.0 950.9,1425.2 951.8,1428.2 952.7,1430.4 953.6,1431.2 954.5,1429.7 955.4,1425.8 956.3,1421.8 957.2,1417.9 958.1,1414.3 959.0,1410.0 959.9,1406.0 960.8,1402.1 961.7,1399.2 962.6,1398.1 963.5,1397.6 964.4,1397.1 965.3,1395.6 966.2,1395.5 967.1,1396.2 968.0,1397.5 968.9,1398.7 969.8,1399.3 970.7,1399.8 971.6,1399.2 972.5,1399.7 973.4,1399.7 974.3,1400.8 975.2,1399.9 976.1,1397.9 977.0,1395.5 977.9,1393.0 978.8,1390.9 979.7,1388.6 980.6,1387.4 981.5,1387.3 982.4,1389.2 983.3,1392.1 984.2,1394.1 985.1,1394.5 986.0,1394.6 986.9,1395.2 987.8,1397.1 988.7,1399.4 989.6,1402.4 990.5,1405.3 991.4,1408.2 992.3,1411.3 993.2,1413.2 994.1,1413.3 995.0,1412.8 995.9,1410.9 996.8,1409.0 997.7,1405.4 998.6,1402.1 999.5,1398.6 1000.4,1396.4 1001.3,1393.9 1002.2,1392.4 1003.1,1392.0 1004.0,1393.9 1004.9,1396.7 1005.8,1399.2 1006.7,1401.1 1007.6,1403.6 1008.5,1405.7 1009.4,1409.4 1010.3,1413.6 1011.2,1420.7 1012.1,1430.1 1013.0,1439.8 1013.9,1447.2 1014.8,1451.8 1015.7,1450.8 1016.6,1446.4 1017.5,1436.8 1018.4,1428.0 1019.3,1417.3 1020.2,1409.9 1021.1,1404.3 1022.0,1400.4 1022.9,1395.8 1023.8,1393.7 1024.7,1393.9 1025.6,1395.3 1026.5,1396.9 1027.4,1398.7 1028.3,1401.1 1029.2,1401.3 1030.1,1401.2 1031.0,1400.7 1031.9,1401.1 1032.8,1402.1 1033.7,1401.7 1034.6,1400.6 1035.5,1399.0 1036.4,1399.2 1037.3,1400.4 1038.2,1401.0 1039.1,1401.9 1040.0,1402.5 1040.9,1404.9 1041.8,1406.6 1042.7,1407.5 1043.6,1405.7 1044.5,1404.1 1045.4,1402.2 1046.3,1400.7 1047.2,1399.1 1048.1,1399.4 1049.0,1401.8 1049.9,1403.7 1050.8,1404.3 1051.7,1404.3 1052.6,1404.9 1053.5,1406.4 1054.4,1407.9 1055.3,1409.9 1056.2,1411.0 1057.1,1411.6 1058.0,1410.3 1058.9,1408.5 1059.8,1407.2 1060.7,1406.6 1061.6,1406.0 1062.5,1404.5 1063.4,1402.6 1064.3,1401.2 1065.2,1398.9 1066.1,1397.8 1067.0,1396.6 1067.9,1397.8 1068.8,1399.2 1069.7,1401.2 1070.6,1402.2 1071.5,1403.2 1072.4,1403.9 1073.3,1404.7 1074.2,1404.5 1075.1,1403.6 1076.0,1401.6 1076.9,1399.5 1077.8,1397.7 1078.7,1396.5 1079.6,1394.7 1080.5,1393.4 1081.4,1392.3 1082.3,1391.1 1083.2,1389.9 1084.1,1389.6 1085.0,1391.8 1085.9,1393.5 1086.8,1394.6 1087.7,1394.2 1088.6,1394.2 1089.5,1394.2 1090.4,1393.9 1091.3,1394.4 1092.2,1396.3 1093.1,1398.4 1094.0,1400.3 1094.9,1401.8 1095.8,1403.7 1096.7,1404.6 1097.6,1405.2 1098.5,1404.4 1099.4,1405.0 1100.3,1403.5 1101.2,1401.5 1102.1,1398.8 1103.0,1397.3 1103.9,1397.3 1104.8,1396.5 1105.7,1395.2 1106.6,1393.1 1107.5,1392.4 1108.4,1391.9 1109.3,1392.3 1110.2,1391.3 1111.1,1391.5 1112.0,1390.7 1112.9,1390.9 1113.8,1390.0 1114.7,1390.0 1115.6,1389.2 1116.5,1388.5 1117.4,1388.5 1118.3,1388.3 1119.2,1389.2 1120.1,1389.6 1121.0,1393.3 1121.9,1397.6 1122.8,1402.4 1123.7,1406.4 1124.6,1409.9 1125.5,1412.8 1126.4,1414.0 1127.3,1414.2 1128.2,1415.7 1129.1,1418.5 1130.0,1421.2 1130.9,1421.0 1131.8,1417.2 1132.7,1411.8 1133.6,1406.2 1134.5,1401.1 1135.4,1396.1 1136.3,1390.0 1137.2,1384.4 1138.1,1381.0 1139.0,1378.5 1139.9,1378.3 1140.8,1377.4 1141.7,1377.7 1142.6,1377.6 1143.5,1379.3 1144.4,1381.9 1145.3,1382.3 1146.2,1379.5 1147.1,1375.1 1148.0,1372.5 1148.9,1371.6 1149.8,1372.6 1150.7,1372.5 1151.6,1371.7 1152.5,1367.6 1153.4,1366.4 1154.3,1367.9 1155.2,1374.6 1156.1,1380.8 1157.0,1386.5 1157.9,1391.8 1158.8,1397.0 1159.7,1401.9 1160.6,1405.6 1161.5,1407.2 1162.4,1408.7 1163.3,1410.0 1164.2,1411.9 1165.1,1412.7 1166.0,1412.0 1166.9,1410.3 1167.8,1407.3 1168.7,1405.2 1169.6,1402.6 1170.5,1401.7 1171.4,1401.3 1172.3,1401.7 1173.2,1401.3 1174.1,1401.6 1175.0,1401.5 1175.9,1401.0 1176.8,1400.0 1177.7,1399.1 1178.6,1399.4 1179.5,1399.8 1180.4,1400.3 1181.3,1401.2 1182.2,1400.9 1183.1,1399.8 1184.0,1397.6 1184.9,1394.5 1185.8,1390.3 1186.7,1386.1 1187.6,1384.1 1188.5,1383.3 1189.4,1383.8 1190.3,1384.3 1191.2,1384.7 1192.1,1384.8 1193.0,1386.3 1193.9,1389.7 1194.8,1393.6 1195.7,1397.8 1196.6,1401.9 1197.5,1406.3 1198.4,1408.8 1199.3,1409.6 1200.2,1407.1 1201.1,1403.1 1202.0,1398.8 1202.9,1396.7 1203.8,1394.9 1204.7,1392.3 1205.6,1389.8 1206.5,1389.4 1207.4,1391.3 1208.3,1393.3 1209.2,1395.5 1210.1,1398.8 1211.0,1403.2 1211.9,1406.5 1212.8,1407.3 1213.7,1406.2 1214.6,1404.7 1215.5,1400.4 1216.4,1395.7 1217.3,1389.9 1218.2,1387.0 1219.1,1387.5 1220.0,1393.8 1220.9,1402.9 1221.8,1412.0 1222.7,1418.6 1223.6,1424.1 1224.5,1424.2 1225.4,1419.1 1226.3,1410.7 1227.2,1403.4 1228.1,1398.2 1229.0,1396.3 1229.9,1397.3 1230.8,1401.6 1231.7,1403.8 1232.6,1402.6 1233.5,1397.2 1234.4,1393.8 1235.3,1394.4 1236.2,1398.6 1237.1,1403.7 1238.0,1409.0 1238.9,1413.4 1239.8,1414.8 1240.7,1413.1 1241.6,1412.6 1242.5,1412.9 1243.4,1414.2 1244.3,1414.0 1245.2,1413.8 1246.1,1414.4 1247.0,1415.1 1247.9,1415.4 1248.8,1415.1 1249.7,1414.3 1250.6,1413.2 1251.5,1411.2 1252.4,1408.8 1253.3,1407.2 1254.2,1405.7 1255.1,1405.7 1256.0,1404.8 1256.9,1404.6 1257.8,1403.3 1258.7,1403.1 1259.6,1402.7 1260.5,1403.7 1261.4,1404.5 1262.3,1405.9 1263.2,1406.7 1264.1,1407.0 1265.0,1406.4 1265.9,1404.9 1266.8,1403.7 1267.7,1402.3 1268.6,1401.5 1269.5,1400.4 1270.4,1400.1 1271.3,1400.4 1272.2,1400.7 1273.1,1400.4 1274.0,1399.6 1274.9,1398.8 1275.8,1397.8 1276.7,1398.3 1277.6,1400.4 1278.5,1404.1 1279.4,1405.8 1280.3,1407.7 1281.2,1408.7 1282.1,1410.2 1283.0,1408.9 1283.9,1406.3 1284.8,1402.4 1285.7,1399.1 1286.6,1395.9 1287.5,1394.0 1288.4,1392.1 1289.3,1391.3 1290.2,1390.2 1291.1,1391.1 1292.0,1391.7 1292.9,1394.3 1293.8,1395.6 1294.7,1398.0 1295.6,1399.4 1296.5,1400.8 1297.4,1400.9 1298.3,1401.3 1299.2,1400.8 1300.1,1401.3 1301.0,1399.6 1301.9,1400.2 1302.8,1400.5 1303.7,1402.3 1304.6,1402.7 1305.5,1402.6 1306.4,1402.8 1307.3,1404.2 1308.2,1405.1 1309.1,1405.4 1310.0,1404.6 1310.9,1404.5 1311.8,1404.5 1312.7,1404.4 1313.6,1403.7 1314.5,1403.4 1315.4,1402.5 1316.3,1401.3 1317.2,1401.2 1318.1,1401.3 1319.0,1403.0 1319.9,1404.2 1320.8,1405.4 1321.7,1405.6 1322.6,1403.3 1323.5,1401.2 1324.4,1398.5 1325.3,1397.6 1326.2,1397.0 1327.1,1397.7 1328.0,1397.5 1328.9,1397.6 1329.8,1397.9 1330.7,1398.8 1331.6,1399.6 1332.5,1400.4 1333.4,1400.8 1334.3,1401.3 1335.2,1400.8 1336.1,1400.6 1337.0,1400.2 1337.9,1400.5 1338.8,1400.9 1339.7,1401.1 1340.6,1401.7 1341.5,1402.0 1342.4,1402.5 1343.3,1401.7 1344.2,1400.6 1345.1,1399.8 1346.0,1400.9 1346.9,1401.9 1347.8,1402.3 1348.7,1402.6 1349.6,1402.3 1350.5,1403.2 1351.4,1403.6 1352.3,1405.1 1353.2,1405.9 1354.1,1405.8 1355.0,1405.3 1355.9,1404.6 1356.8,1403.0 1357.7,1402.7 1358.6,1402.3 1359.5,1403.7 1360.4,1403.5 1361.3,1405.2 1362.2,1405.1 1363.1,1405.3 1364.0,1403.2 1364.9,1402.6 1365.8,1402.8 1366.7,1403.6 1367.6,1403.9 1368.5,1403.0 1369.4,1401.6 1370.3,1400.4 1371.2,1400.0 1372.1,1399.3 1373.0,1398.6 1373.9,1396.8 1374.8,1395.5 1375.7,1394.3 1376.6,1393.5 1377.5,1392.5 1378.4,1391.9 1379.3,1391.9 1380.2,1392.7 1381.1,1394.8 1382.0,1397.3 1382.9,1400.5 1383.8,1401.7 1384.7,1404.1 1385.6,1406.0 1386.5,1407.6 1387.4,1407.0 1388.3,1405.4 1389.2,1403.3 1390.1,1401.3 1391.0,1399.8 1391.9,1400.1 1392.8,1400.1 1393.7,1400.5 1394.6,1399.5 1395.5,1399.9 1396.4,1400.7 1397.3,1402.0 1398.2,1401.7 1399.1,1400.3 1400.0,1399.2 1400.9,1398.5 1401.8,1398.2 1402.7,1399.1 1403.6,1400.0 1404.5,1401.1 1405.4,1401.2 1406.3,1403.0 1407.2,1403.9 1408.1,1405.5 1409.0,1404.5 1409.9,1403.6 1410.8,1402.3 1411.7,1402.2 1412.6,1401.8 1413.5,1400.8 1414.4,1400.3 1415.3,1400.8 1416.2,1401.5 1417.1,1401.8 1418.0,1400.8 1418.9,1400.9 1419.8,1399.2 1420.7,1399.3 1421.6,1397.9 1422.5,1397.6 1423.4,1397.3 1424.3,1397.0 1425.2,1397.5 1426.1,1398.1 1427.0,1397.6 1427.9,1396.7 1428.8,1395.0 1429.7,1395.0 1430.6,1394.2 1431.5,1393.5 1432.4,1392.8 1433.3,1392.9"/>
<polyline clip-path="url(#cp5)" fill="none" stroke="#ff4500" stroke-width="3.0" stroke-linejoin="round" stroke-miterlimit="3" points="185.0,1400.0 185.9,1400.2 186.8,1400.1 187.7,1400.5 188.6,1400.3 189.5,1400.2 190.4,1399.7 191.3,1399.5 192.2,1399.6 193.1,1400.3 194.0,1400.2 194.9,1400.5 195.8,1400.2 196.7,1400.3 197.6,1399.8 198.5,1399.9 199.4,1399.7 200.3,1400.0 201.2,1399.8 202.1,1400.3 203.0,1400.7 203.9,1400.7 204.8,1400.9 205.7,1400.1 206.6,1399.4 207.5,1398.1 208.4,1396.7 209.3,1395.9 210.2,1396.2 211.1,1397.8 212.0,1399.7 212.9,1400.9 213.8,1401.1 214.7,1400.6 215.6,1400.5 216.5,1400.2 217.4,1400.6 218.3,1399.9 219.2,1400.2 220.1,1399.8 221.0,1399.8 221.9,1399.9 222.8,1399.3 223.7,1399.6 224.6,1399.2 225.5,1399.4 226.4,1399.6 227.3,1400.0 228.2,1400.2 229.1,1400.7 230.0,1401.3 230.9,1402.1 231.8,1402.1 232.7,1402.3 233.6,1402.6 234.5,1402.5 235.4,1401.7 236.3,1401.2 237.2,1401.1 238.1,1401.2 239.0,1401.0 239.9,1401.1 240.8,1401.7 241.7,1402.4 242.6,1403.0 243.5,1402.6 244.4,1402.4 245.3,1401.8 246.2,1401.9 247.1,1401.4 248.0,1401.3 248.9,1401.0 249.8,1400.6 250.7,1400.0 251.6,1399.6 252.5,1399.3 253.4,1399.4 254.3,1398.7 255.2,1398.1 256.1,1398.1 257.0,1398.9 257.9,1399.6 258.8,1399.8 259.7,1399.3 260.6,1399.8 261.5,1399.4 262.4,1399.9 263.3,1400.0 264.2,1400.3 265.1,1400.9 266.0,1400.8 266.9,1400.4 267.8,1399.2 268.7,1398.2 269.6,1398.0 270.5,1398.3 271.4,1398.3 272.3,1399.4 273.2,1400.3 274.1,1400.6 275.0,1400.1 275.9,1399.6 276.8,1399.8 277.7,1400.0 278.6,1399.9 279.5,1400.3 280.4,1400.5 281.3,1400.8 282.2,1400.3 283.1,1400.1 284.0,1400.3 284.9,1401.0 285.8,1401.0 286.7,1401.0 287.6,1400.5 288.5,1400.4 289.4,1400.5 290.3,1400.8 291.2,1400.6 292.1,1399.9 293.0,1399.0 293.9,1398.5 294.8,1398.8 295.7,1399.4 296.6,1400.2 297.5,1400.5 298.4,1400.8 299.3,1400.9 300.2,1401.5 301.1,1401.6 302.0,1402.1 302.9,1402.2 303.8,1402.4 304.7,1401.8 305.6,1401.7 306.5,1401.4 307.4,1401.6 308.3,1400.9 309.2,1399.8 310.1,1398.4 311.0,1398.2 311.9,1398.5 312.8,1399.0 313.7,1399.4 314.6,1400.1 315.5,1400.8 316.4,1401.1 317.3,1400.9 318.2,1401.2 319.1,1400.6 320.0,1400.6 320.9,1399.1 321.8,1397.1 322.7,1392.9 323.6,1388.5 324.5,1384.8 325.4,1381.7 326.3,1379.0 327.2,1377.6 328.1,1377.8 329.0,1380.6 329.9,1384.4 330.8,1390.2 331.7,1395.5 332.6,1401.6 333.5,1407.1 334.4,1412.8 335.3,1418.0 336.2,1423.1 337.1,1428.1 338.0,1432.9 338.9,1436.7 339.8,1438.1 340.7,1437.7 341.6,1434.0 342.5,1429.4 343.4,1421.9 344.3,1414.7 345.2,1408.6 346.1,1404.9 347.0,1402.6 347.9,1400.9 348.8,1399.7 349.7,1399.4 350.6,1398.9 351.5,1399.4 352.4,1400.6 353.3,1403.3 354.2,1405.4 355.1,1408.0 356.0,1410.1 356.9,1413.1 357.8,1413.8 358.7,1412.5 359.6,1409.5 360.5,1407.2 361.4,1405.1 362.3,1403.7 363.2,1403.1 364.1,1404.5 365.0,1406.3 365.9,1408.7 366.8,1409.6 367.7,1410.6 368.6,1410.0 369.5,1408.6 370.4,1404.6 371.3,1400.4 372.2,1395.7 373.1,1394.1 374.0,1394.1 374.9,1396.8 375.8,1399.6 376.7,1401.7 377.6,1403.5 378.5,1404.4 379.4,1404.6 380.3,1403.7 381.2,1402.7 382.1,1401.9 383.0,1400.5 383.9,1399.6 384.8,1398.6 385.7,1398.9 386.6,1398.4 387.5,1399.4 388.4,1399.4 389.3,1400.3 390.2,1400.3 391.1,1401.8 392.0,1402.8 392.9,1404.7 393.8,1405.8 394.7,1407.4 395.6,1407.5 396.5,1406.5 397.4,1404.5 398.3,1402.7 399.2,1402.2 400.1,1402.2 401.0,1401.7 401.9,1400.8 402.8,1399.8 403.7,1398.8 404.6,1398.0 405.5,1397.4 406.4,1397.7 407.3,1398.2 408.2,1398.5 409.1,1399.1 410.0,1399.7 410.9,1399.8 411.8,1399.6 412.7,1399.7 413.6,1399.9 414.5,1400.1 415.4,1399.5 416.3,1399.5 417.2,1399.6 418.1,1399.9 419.0,1400.1 419.9,1399.9 420.8,1400.0 421.7,1400.4 422.6,1400.8 423.5,1400.9 424.4,1400.7 425.3,1400.1 426.2,1399.6 427.1,1399.1 428.0,1398.9 428.9,1399.0 429.8,1398.8 430.7,1399.3 431.6,1399.1 432.5,1399.6 433.4,1399.8 434.3,1399.9 435.2,1399.7 436.1,1399.2 437.0,1399.4 437.9,1399.7 438.8,1400.2 439.7,1400.3 440.6,1400.2 441.5,1400.1 442.4,1400.3 443.3,1400.1 444.2,1400.6 445.1,1400.4 446.0,1400.7 446.9,1399.9 447.8,1399.9 448.7,1399.6 449.6,1400.1 450.5,1399.7 451.4,1399.9 452.3,1399.6 453.2,1399.7 454.1,1399.9 455.0,1400.0 455.9,1400.5 456.8,1400.4 457.7,1400.1 458.6,1399.9 459.5,1400.1 460.4,1399.9 461.3,1400.2 462.2,1400.0 463.1,1400.2 464.0,1400.0 464.9,1400.3 465.8,1400.4 466.7,1401.1 467.6,1401.0 468.5,1401.1 469.4,1400.5 470.3,1400.1 471.2,1400.1 472.1,1400.2 473.0,1400.3 473.9,1400.2 474.8,1400.2 475.7,1399.9 476.6,1400.4 477.5,1400.9 478.4,1400.9 479.3,1399.7 480.2,1398.6 481.1,1398.7 482.0,1399.0 482.9,1399.3 483.8,1398.7 484.7,1399.0 485.6,1399.5 486.5,1399.8 487.4,1399.6 488.3,1399.3 489.2,1399.1 490.1,1399.2 491.0,1399.4 491.9,1400.0 492.8,1400.2 493.7,1400.7 494.6,1401.5 495.5,1402.0 496.4,1401.8 497.3,1401.3 498.2,1400.9 499.1,1400.7 500.0,1400.9 500.9,1400.8 501.8,1400.5 502.7,1399.6 503.6,1399.1 504.5,1398.8 505.4,1399.3 506.3,1399.3 507.2,1399.1 508.1,1399.2 509.0,1399.4 509.9,1399.7 510.8,1399.6 511.7,1399.2 512.6,1399.0 513.5,1399.5 514.4,1400.0 515.3,1400.5 516.2,1400.4 517.1,1400.9 518.0,1401.0 518.9,1400.9 519.8,1400.6 520.7,1400.5 521.6,1400.5 522.5,1400.5 523.4,1400.3 524.3,1400.3 525.2,1400.7 526.1,1400.7 527.0,1401.2 527.9,1400.4 528.8,1400.5 529.7,1400.0 530.6,1400.6 531.5,1400.3 532.4,1400.7 533.3,1400.1 534.2,1400.1 535.1,1399.3 536.0,1399.5 536.9,1399.4 537.8,1399.3 538.7,1398.8 539.6,1399.1 540.5,1399.6 541.4,1400.0 542.3,1399.8 543.2,1399.7 544.1,1399.9 545.0,1400.1 545.9,1400.5 546.8,1400.6 547.7,1400.6 548.6,1400.8 549.5,1400.8 550.4,1400.7 551.3,1400.6 552.2,1400.8 553.1,1400.7 554.0,1400.8 554.9,1400.6 555.8,1400.4 556.7,1400.2 557.6,1399.7 558.5,1399.3 559.4,1399.3 560.3,1399.2 561.2,1399.4 562.1,1399.6 563.0,1400.2 563.9,1400.2 564.8,1400.0 565.7,1399.5 566.6,1399.5 567.5,1399.4 568.4,1400.0 569.3,1400.3 570.2,1400.3 571.1,1400.0 572.0,1400.1 572.9,1400.3 573.8,1400.8 574.7,1400.9 575.6,1400.7 576.5,1400.5 577.4,1400.6 578.3,1400.5 579.2,1400.3 580.1,1400.0 581.0,1399.9 581.9,1400.3 582.8,1400.6 583.7,1400.5 584.6,1399.9 585.5,1399.7 586.4,1399.7 587.3,1399.4 588.2,1399.5 589.1,1399.2 590.0,1399.5 590.9,1399.1 591.8,1399.1 592.7,1398.9 593.6,1398.5 594.5,1398.9 595.4,1399.2 596.3,1399.7 597.2,1399.8 598.1,1399.1 599.0,1399.2 599.9,1398.9 600.8,1400.0 601.7,1400.5 602.6,1401.1 603.5,1401.2 604.4,1401.3 605.3,1401.8 606.2,1401.7 607.1,1402.0 608.0,1401.8 608.9,1402.2 609.8,1401.7 610.7,1401.7 611.6,1401.5 612.5,1401.6 613.4,1401.5 614.3,1401.0 615.2,1400.8 616.1,1400.7 617.0,1401.2 617.9,1400.7 618.8,1400.5 619.7,1399.6 620.6,1400.0 621.5,1399.7 622.4,1400.2 623.3,1400.1 624.2,1400.4 625.1,1400.6 626.0,1400.7 626.9,1400.8 627.8,1400.7 628.7,1401.0 629.6,1401.2 630.5,1401.4 631.4,1401.3 632.3,1400.6 633.2,1400.2 634.1,1399.9 635.0,1400.2 635.9,1399.9 636.8,1399.7 637.7,1399.6 638.6,1399.9 639.5,1400.4 640.4,1400.7 641.3,1400.8 642.2,1400.4 643.1,1400.2 644.0,1399.9 644.9,1400.0 645.8,1400.3 646.7,1400.9 647.6,1400.8 648.5,1400.6 649.4,1400.1 650.3,1400.0 651.2,1399.3 652.1,1399.6 653.0,1399.8 653.9,1400.4 654.8,1400.4 655.7,1400.1 656.6,1399.9 657.5,1400.1 658.4,1400.6 659.3,1400.4 660.2,1400.0 661.1,1399.6 662.0,1399.5 662.9,1399.5 663.8,1399.9 664.7,1400.2 665.6,1400.6 666.5,1400.7 667.4,1400.9 668.3,1400.7 669.2,1400.7 670.1,1400.6 671.0,1400.7 671.9,1400.5 672.8,1400.4 673.7,1400.2 674.6,1400.3 675.5,1400.1 676.4,1399.9 677.3,1399.1 678.2,1398.2 679.1,1397.0 680.0,1395.5 680.9,1395.0 681.8,1393.2 682.7,1391.8 683.6,1390.0 684.5,1390.4 685.4,1391.8 686.3,1394.0 687.2,1396.1 688.1,1398.0 689.0,1399.4 689.9,1400.4 690.8,1402.2 691.7,1404.3 692.6,1406.0 693.5,1405.3 694.4,1403.7 695.3,1401.6 696.2,1400.1 697.1,1398.3 698.0,1397.8 698.9,1398.5 699.8,1400.9 700.7,1403.3 701.6,1404.9 702.5,1404.3 703.4,1402.1 704.3,1399.9 705.2,1399.2 706.1,1400.2 707.0,1402.0 707.9,1404.3 708.8,1405.0 709.7,1404.6 710.6,1403.3 711.5,1401.7 712.4,1400.2 713.3,1397.1 714.2,1395.1 715.1,1393.0 716.0,1391.7 716.9,1391.5 717.8,1392.5 718.7,1395.8 719.6,1398.1 720.5,1398.5 721.4,1397.2 722.3,1395.1 723.2,1392.8 724.1,1388.9 725.0,1383.7 725.9,1379.7 726.8,1377.9 727.7,1377.7 728.6,1379.2 729.5,1382.1 730.4,1388.2 731.3,1395.8 732.2,1401.2 733.1,1403.1 734.0,1401.7 734.9,1400.8 735.8,1400.2 736.7,1399.8 737.6,1399.6 738.5,1399.3 739.4,1398.0 740.3,1395.2 741.2,1392.1 742.1,1389.1 743.0,1386.6 743.9,1384.3 744.8,1383.3 745.7,1384.3 746.6,1386.4 747.5,1389.2 748.4,1388.8 749.3,1385.8 750.2,1379.6 751.1,1375.1 752.0,1371.9 752.9,1375.1 753.8,1383.6 754.7,1396.9 755.6,1410.1 756.5,1415.6 757.4,1415.3 758.3,1407.9 759.2,1400.7 760.1,1397.4 761.0,1400.5 761.9,1408.9 762.8,1417.1 763.7,1422.6 764.6,1423.7 765.5,1420.8 766.4,1415.5 767.3,1411.6 768.2,1408.5 769.1,1406.3 770.0,1402.8 770.9,1399.9 771.8,1396.8 772.7,1395.3 773.6,1394.8 774.5,1395.4 775.4,1396.4 776.3,1397.5 777.2,1400.1 778.1,1403.2 779.0,1407.1 779.9,1410.5 780.8,1415.2 781.7,1421.7 782.6,1430.2 783.5,1442.4 784.4,1453.6 785.3,1463.1 786.2,1466.7 787.1,1465.2 788.0,1459.7 788.9,1448.8 789.8,1435.3 790.7,1426.1 791.6,1423.7 792.5,1426.6 793.4,1427.6 794.3,1426.5 795.2,1423.5 796.1,1418.3 797.0,1411.6 797.9,1405.0 798.8,1398.6 799.7,1393.4 800.6,1389.1 801.5,1391.5 802.4,1399.9 803.3,1412.7 804.2,1424.6 805.1,1434.0 806.0,1441.5 806.9,1442.3 807.8,1437.4 808.7,1426.5 809.6,1416.0 810.5,1408.3 811.4,1408.7 812.3,1414.5 813.2,1423.0 814.1,1430.4 815.0,1434.9 815.9,1437.8 816.8,1436.9 817.7,1433.2 818.6,1426.5 819.5,1417.4 820.4,1409.8 821.3,1403.3 822.2,1399.6 823.1,1396.3 824.0,1394.6 824.9,1393.5 825.8,1392.4 826.7,1391.1 827.6,1389.1 828.5,1388.1 829.4,1387.0 830.3,1387.6 831.2,1388.9 832.1,1391.7 833.0,1394.9 833.9,1398.1 834.8,1399.9 835.7,1402.2 836.6,1404.8 837.5,1409.2 838.4,1412.8 839.3,1413.9 840.2,1411.8 841.1,1407.2 842.0,1402.4 842.9,1397.3 843.8,1393.3 844.7,1392.2 845.6,1393.3 846.5,1396.7 847.4,1401.2 848.3,1406.8 849.2,1410.5 850.1,1412.1 851.0,1412.8 851.9,1412.2 852.8,1410.0 853.7,1406.8 854.6,1404.0 855.5,1402.2 856.4,1401.8 857.3,1402.0 858.2,1403.3 859.1,1403.2 860.0,1404.1 860.9,1403.4 861.8,1403.2 862.7,1402.2 863.6,1402.4 864.5,1402.2 865.4,1402.1 866.3,1401.7 867.2,1401.4 868.1,1400.4 869.0,1398.6 869.9,1396.5 870.8,1394.8 871.7,1392.5 872.6,1391.7 873.5,1393.1 874.4,1396.2 875.3,1398.2 876.2,1399.5 877.1,1400.6 878.0,1402.0 878.9,1402.5 879.8,1402.9 880.7,1403.2 881.6,1403.5 882.5,1403.8 883.4,1403.5 884.3,1404.3 885.2,1404.9 886.1,1406.5 887.0,1407.4 887.9,1407.1 888.8,1406.1 889.7,1404.1 890.6,1403.0 891.5,1402.5 892.4,1402.8 893.3,1402.4 894.2,1401.4 895.1,1400.3 896.0,1399.5 896.9,1399.1 897.8,1397.7 898.7,1396.1 899.6,1394.7 900.5,1394.6 901.4,1395.6 902.3,1396.6 903.2,1397.3 904.1,1397.9 905.0,1398.4 905.9,1399.4 906.8,1399.6 907.7,1400.1 908.6,1400.2 909.5,1400.8 910.4,1400.5 911.3,1400.3 912.2,1399.8 913.1,1400.0 914.0,1400.5 914.9,1400.5 915.8,1400.8 916.7,1400.7 917.6,1400.4 918.5,1399.7 919.4,1399.0 920.3,1398.2 921.2,1398.3 922.1,1397.8 923.0,1398.1 923.9,1397.9 924.8,1398.3 925.7,1397.6 926.6,1397.1 927.5,1396.5 928.4,1397.2 929.3,1397.7 930.2,1397.9 931.1,1398.5 932.0,1399.1 932.9,1399.4 933.8,1399.4 934.7,1399.5 935.6,1399.9 936.5,1399.5 937.4,1400.1 938.3,1400.6 939.2,1400.9 940.1,1400.3 941.0,1399.5 941.9,1399.9 942.8,1400.1 943.7,1400.7 944.6,1400.5 945.5,1400.2 946.4,1400.0 947.3,1400.0 948.2,1400.4 949.1,1400.7 950.0,1401.2 950.9,1401.3 951.8,1401.6 952.7,1401.5 953.6,1401.8 954.5,1402.1 955.4,1401.9 956.3,1401.2 957.2,1400.8 958.1,1401.1 959.0,1401.6 959.9,1401.2 960.8,1400.7 961.7,1400.4 962.6,1400.9 963.5,1401.0 964.4,1401.1 965.3,1400.5 966.2,1400.2 967.1,1399.7 968.0,1399.2 968.9,1399.1 969.8,1399.5 970.7,1400.1 971.6,1400.1 972.5,1399.9 973.4,1400.0 974.3,1400.4 975.2,1400.3 976.1,1400.3 977.0,1400.2 977.9,1400.7 978.8,1400.4 979.7,1400.2 980.6,1399.5 981.5,1399.6 982.4,1399.7 983.3,1400.6 984.2,1400.7 985.1,1400.5 986.0,1399.7 986.9,1399.4 987.8,1399.2 988.7,1399.6 989.6,1399.5 990.5,1399.8 991.4,1399.7 992.3,1400.3 993.2,1400.7 994.1,1401.0 995.0,1401.2 995.9,1401.1 996.8,1400.7 997.7,1400.2 998.6,1399.7 999.5,1399.3 1000.4,1399.5 1001.3,1399.3 1002.2,1399.2 1003.1,1399.0 1004.0,1399.5 1004.9,1400.3 1005.8,1401.0 1006.7,1401.0 1007.6,1401.3 1008.5,1400.7 1009.4,1400.6 1010.3,1399.6 1011.2,1398.9 1012.1,1398.9 1013.0,1399.2 1013.9,1399.4 1014.8,1399.2 1015.7,1399.2 1016.6,1400.0 1017.5,1399.8 1018.4,1400.6 1019.3,1400.1 1020.2,1401.2 1021.1,1401.4 1022.0,1401.4 1022.9,1400.8 1023.8,1400.1 1024.7,1400.6 1025.6,1400.1 1026.5,1400.0 1027.4,1399.8 1028.3,1400.5 1029.2,1400.6 1030.1,1400.3 1031.0,1400.0 1031.9,1399.8 1032.8,1400.7 1033.7,1400.6 1034.6,1400.9 1035.5,1400.3 1036.4,1400.6 1037.3,1400.7 1038.2,1400.7 1039.1,1400.9 1040.0,1400.7 1040.9,1401.0 1041.8,1400.8 1042.7,1400.8 1043.6,1400.6 1044.5,1401.1 1045.4,1401.4 1046.3,1401.0 1047.2,1400.2 1048.1,1399.3 1049.0,1399.4 1049.9,1399.5 1050.8,1399.8 1051.7,1400.0 1052.6,1400.0 1053.5,1400.3 1054.4,1399.8 1055.3,1400.2 1056.2,1400.0 1057.1,1400.5 1058.0,1400.6 1058.9,1400.5 1059.8,1401.0 1060.7,1400.8 1061.6,1401.2 1062.5,1400.4 1063.4,1399.9 1064.3,1399.7 1065.2,1399.9 1066.1,1400.0 1067.0,1399.8 1067.9,1399.9 1068.8,1400.7 1069.7,1402.0 1070.6,1403.1 1071.5,1404.0 1072.4,1405.0 1073.3,1406.3 1074.2,1407.6 1075.1,1407.4 1076.0,1405.5 1076.9,1403.2 1077.8,1401.1 1078.7,1400.2 1079.6,1398.8 1080.5,1398.4 1081.4,1397.8 1082.3,1397.4 1083.2,1397.0 1084.1,1396.5 1085.0,1397.4 1085.9,1397.8 1086.8,1398.7 1087.7,1398.4 1088.6,1398.5 1089.5,1398.6 1090.4,1397.9 1091.3,1397.8 1092.2,1397.8 1093.1,1398.3 1094.0,1397.8 1094.9,1397.1 1095.8,1396.9 1096.7,1396.0 1097.6,1394.9 1098.5,1392.7 1099.4,1391.8 1100.3,1390.5 1101.2,1389.9 1102.1,1389.4 1103.0,1390.2 1103.9,1391.8 1104.8,1393.0 1105.7,1393.7 1106.6,1393.8 1107.5,1394.0 1108.4,1393.9 1109.3,1394.5 1110.2,1395.0 1111.1,1395.0 1112.0,1393.9 1112.9,1393.5 1113.8,1393.6 1114.7,1394.0 1115.6,1393.7 1116.5,1393.2 1117.4,1393.6 1118.3,1394.1 1119.2,1395.0 1120.1,1396.8 1121.0,1399.6 1121.9,1403.4 1122.8,1406.7 1123.7,1408.6 1124.6,1410.0 1125.5,1410.7 1126.4,1410.7 1127.3,1408.9 1128.2,1406.8 1129.1,1405.6 1130.0,1404.5 1130.9,1402.7 1131.8,1400.2 1132.7,1398.1 1133.6,1396.6 1134.5,1395.0 1135.4,1393.5 1136.3,1391.7 1137.2,1389.6 1138.1,1388.0 1139.0,1386.3 1139.9,1386.5 1140.8,1388.0 1141.7,1390.7 1142.6,1392.1 1143.5,1392.5 1144.4,1392.0 1145.3,1391.0 1146.2,1390.1 1147.1,1389.3 1148.0,1388.9 1148.9,1388.3 1149.8,1388.3 1150.7,1388.8 1151.6,1390.2 1152.5,1391.3 1153.4,1393.4 1154.3,1394.5 1155.2,1396.5 1156.1,1397.5 1157.0,1398.3 1157.9,1398.7 1158.8,1399.4 1159.7,1399.7 1160.6,1399.6 1161.5,1399.0 1162.4,1399.3 1163.3,1399.9 1164.2,1400.2 1165.1,1400.7 1166.0,1400.2 1166.9,1400.6 1167.8,1400.0 1168.7,1400.0 1169.6,1399.2 1170.5,1399.6 1171.4,1399.7 1172.3,1400.0 1173.2,1399.5 1174.1,1399.7 1175.0,1399.9 1175.9,1399.9 1176.8,1400.1 1177.7,1400.0 1178.6,1400.2 1179.5,1400.4 1180.4,1400.3 1181.3,1400.4 1182.2,1399.8 1183.1,1400.4 1184.0,1401.0 1184.9,1401.4 1185.8,1400.8 1186.7,1400.0 1187.6,1399.9 1188.5,1399.9 1189.4,1399.7 1190.3,1399.9 1191.2,1399.8 1192.1,1400.3 1193.0,1400.0 1193.9,1400.1 1194.8,1399.6 1195.7,1399.4 1196.6,1399.3 1197.5,1399.6 1198.4,1399.9 1199.3,1400.0 1200.2,1400.0 1201.1,1400.4 1202.0,1400.7 1202.9,1401.4 1203.8,1401.5 1204.7,1401.6 1205.6,1401.5 1206.5,1401.7 1207.4,1402.3 1208.3,1402.5 1209.2,1401.9 1210.1,1401.6 1211.0,1400.9 1211.9,1400.9 1212.8,1401.1 1213.7,1401.9 1214.6,1402.9 1215.5,1402.6 1216.4,1403.0 1217.3,1403.3 1218.2,1405.0 1219.1,1407.1 1220.0,1409.4 1220.9,1410.4 1221.8,1410.3 1222.7,1408.5 1223.6,1406.3 1224.5,1403.6 1225.4,1400.3 1226.3,1398.2 1227.2,1397.3 1228.1,1398.5 1229.0,1399.9 1229.9,1400.5 1230.8,1400.4 1231.7,1400.4 1232.6,1400.5 1233.5,1400.6 1234.4,1400.1 1235.3,1399.9 1236.2,1399.3 1237.1,1399.3 1238.0,1399.2 1238.9,1399.7 1239.8,1399.4 1240.7,1399.0 1241.6,1398.9 1242.5,1398.6 1243.4,1399.1 1244.3,1399.0 1245.2,1399.2 1246.1,1399.0 1247.0,1399.3 1247.9,1399.3 1248.8,1399.6 1249.7,1399.2 1250.6,1399.8 1251.5,1399.5 1252.4,1399.6 1253.3,1399.9 1254.2,1399.9 1255.1,1399.8 1256.0,1399.4 1256.9,1399.7 1257.8,1399.7 1258.7,1399.5 1259.6,1399.2 1260.5,1399.4 1261.4,1399.6 1262.3,1399.7 1263.2,1399.3 1264.1,1399.6 1265.0,1399.6 1265.9,1399.8 1266.8,1399.4 1267.7,1399.4 1268.6,1399.2 1269.5,1399.2 1270.4,1399.2 1271.3,1399.2 1272.2,1399.3 1273.1,1398.9 1274.0,1399.0 1274.9,1398.7 1275.8,1399.0 1276.7,1398.9 1277.6,1399.8 1278.5,1400.5 1279.4,1400.8 1280.3,1400.4 1281.2,1400.4 1282.1,1399.8 1283.0,1399.3 1283.9,1399.0 1284.8,1399.3 1285.7,1399.2 1286.6,1399.1 1287.5,1399.4 1288.4,1400.0 1289.3,1400.0 1290.2,1399.8 1291.1,1399.6 1292.0,1398.8 1292.9,1398.8 1293.8,1397.9 1294.7,1398.6 1295.6,1398.4 1296.5,1398.9 1297.4,1398.6 1298.3,1398.4 1299.2,1398.3 1300.1,1398.7 1301.0,1398.2 1301.9,1398.0 1302.8,1398.0 1303.7,1398.6 1304.6,1399.1 1305.5,1399.3 1306.4,1399.6 1307.3,1399.8 1308.2,1399.9 1309.1,1399.8 1310.0,1399.9 1310.9,1399.7 1311.8,1400.3 1312.7,1400.4 1313.6,1400.4 1314.5,1400.0 1315.4,1399.3 1316.3,1399.4 1317.2,1399.8 1318.1,1400.2 1319.0,1400.3 1319.9,1400.1 1320.8,1399.8 1321.7,1399.5 1322.6,1398.7 1323.5,1398.4 1324.4,1397.3 1325.3,1396.8 1326.2,1396.6 1327.1,1397.3 1328.0,1397.6 1328.9,1398.1 1329.8,1398.0 1330.7,1398.6 1331.6,1398.7 1332.5,1399.7 1333.4,1399.7 1334.3,1399.9 1335.2,1399.8 1336.1,1399.8 1337.0,1400.0 1337.9,1399.8 1338.8,1399.8 1339.7,1399.5 1340.6,1399.7 1341.5,1399.8 1342.4,1400.1 1343.3,1399.9 1344.2,1399.8 1345.1,1399.6 1346.0,1400.1 1346.9,1400.3 1347.8,1400.0 1348.7,1399.5 1349.6,1399.4 1350.5,1399.3 1351.4,1399.3 1352.3,1399.2 1353.2,1399.9 1354.1,1400.1 1355.0,1400.6 1355.9,1400.3 1356.8,1399.8 1357.7,1399.8 1358.6,1399.6 1359.5,1400.1 1360.4,1399.7 1361.3,1400.2 1362.2,1399.9 1363.1,1400.0 1364.0,1399.3 1364.9,1399.5 1365.8,1399.7 1366.7,1400.2 1367.6,1400.0 1368.5,1399.7 1369.4,1399.5 1370.3,1399.1 1371.2,1399.2 1372.1,1398.9 1373.0,1399.5 1373.9,1399.6 1374.8,1399.7 1375.7,1399.1 1376.6,1399.2 1377.5,1399.1 1378.4,1399.2 1379.3,1399.0 1380.2,1399.0 1381.1,1399.3 1382.0,1399.3 1382.9,1400.0 1383.8,1399.7 1384.7,1400.4 1385.6,1400.2 1386.5,1400.3 1387.4,1399.3 1388.3,1399.3 1389.2,1398.9 1390.1,1399.2 1391.0,1399.1 1391.9,1399.7 1392.8,1399.8 1393.7,1399.8 1394.6,1399.4 1395.5,1399.4 1396.4,1399.4 1397.3,1400.1 1398.2,1400.0 1399.1,1399.9 1400.0,1399.5 1400.9,1400.3 1401.8,1400.5 1402.7,1401.5 1403.6,1401.4 1404.5,1402.1 1405.4,1401.8 1406.3,1402.2 1407.2,1402.0 1408.1,1401.9 1409.0,1401.4 1409.9,1400.5 1410.8,1400.0 1411.7,1399.6 1412.6,1399.6 1413.5,1398.9 1414.4,1398.5 1415.3,1398.9 1416.2,1399.4 1417.1,1399.5 1418.0,1398.8 1418.9,1398.6 1419.8,1398.3 1420.7,1398.9 1421.6,1399.0 1422.5,1398.9 1423.4,1399.1 1424.3,1398.7 1425.2,1399.8 1426.1,1400.4 1427.0,1400.7 1427.9,1400.1 1428.8,1399.4 1429.7,1399.7 1430.6,1399.9 1431.5,1399.4 1432.4,1399.1 1433.3,1398.9"/>
<polyline clip-path="url(#cp5)" fill="none" stroke="#00bfff" stroke-width="3.0" stroke-linejoin="round" stroke-miterlimit="3" points="185.0,1400.8 185.9,1400.5 186.8,1399.8 187.7,1399.7 188.6,1399.8 189.5,1400.4 190.4,1400.6 191.3,1400.9 192.2,1400.5 193.1,1400.0 194.0,1399.7 194.9,1399.0 195.8,1398.0 196.7,1397.8 197.6,1398.2 198.5,1399.3 199.4,1399.6 200.3,1399.3 201.2,1400.7 202.1,1401.9 203.0,1402.5 203.9,1401.7 204.8,1400.7 205.7,1400.8 206.6,1400.5 207.5,1400.6 208.4,1400.2 209.3,1400.1 210.2,1399.9 211.1,1399.1 212.0,1399.2 212.9,1399.0 213.8,1399.5 214.7,1399.0 215.6,1398.8 216.5,1398.8 217.4,1398.9 218.3,1398.0 219.2,1398.1 220.1,1398.4 221.0,1399.6 221.9,1400.0 222.8,1399.9 223.7,1400.2 224.6,1400.0 225.5,1400.3 226.4,1399.9 227.3,1400.0 228.2,1400.0 229.1,1400.1 230.0,1399.6 230.9,1399.1 231.8,1398.7 232.7,1398.9 233.6,1399.0 234.5,1400.1 235.4,1400.9 236.3,1401.2 237.2,1400.8 238.1,1401.3 239.0,1401.1 239.9,1401.3 240.8,1401.3 241.7,1402.0 242.6,1401.8 243.5,1401.6 244.4,1402.4 245.3,1402.6 246.2,1402.4 247.1,1401.2 248.0,1401.0 248.9,1400.4 249.8,1400.3 250.7,1399.9 251.6,1399.9 252.5,1400.3 253.4,1400.1 254.3,1399.8 255.2,1399.6 256.1,1399.5 257.0,1399.6 257.9,1399.8 258.8,1400.7 259.7,1401.2 260.6,1400.9 261.5,1400.8 262.4,1400.4 263.3,1399.8 264.2,1398.6 265.1,1398.9 266.0,1399.4 266.9,1400.4 267.8,1400.6 268.7,1400.9 269.6,1401.6 270.5,1402.0 271.4,1403.4 272.3,1403.3 273.2,1403.2 274.1,1401.6 275.0,1401.1 275.9,1400.1 276.8,1400.0 277.7,1399.9 278.6,1400.3 279.5,1399.7 280.4,1399.9 281.3,1399.9 282.2,1400.9 283.1,1400.5 284.0,1400.5 284.9,1399.8 285.8,1399.7 286.7,1399.9 287.6,1400.3 288.5,1400.5 289.4,1400.3 290.3,1400.2 291.2,1400.4 292.1,1400.6 293.0,1401.2 293.9,1401.1 294.8,1401.5 295.7,1401.0 296.6,1401.3 297.5,1401.0 298.4,1401.3 299.3,1401.0 300.2,1401.3 301.1,1400.1 302.0,1400.5 302.9,1400.5 303.8,1402.1 304.7,1403.0 305.6,1403.6 306.5,1402.6 307.4,1401.6 308.3,1399.9 309.2,1399.3 310.1,1398.5 311.0,1398.2 311.9,1397.9 312.8,1398.0 313.7,1398.6 314.6,1399.2 315.5,1399.3 316.4,1399.7 317.3,1400.3 318.2,1401.0 319.1,1402.0 320.0,1402.5 320.9,1402.7 321.8,1401.5 322.7,1401.4 323.6,1400.6 324.5,1400.5 325.4,1399.8 326.3,1399.7 327.2,1399.0 328.1,1398.8 329.0,1399.1 329.9,1400.6 330.8,1401.6 331.7,1402.1 332.6,1402.1 333.5,1403.0 334.4,1403.2 335.3,1403.5 336.2,1402.6 337.1,1401.7 338.0,1400.3 338.9,1398.4 339.8,1397.5 340.7,1397.4 341.6,1398.0 342.5,1398.6 343.4,1399.2 344.3,1399.8 345.2,1400.0 346.1,1399.2 347.0,1398.4 347.9,1398.2 348.8,1399.4 349.7,1401.1 350.6,1402.1 351.5,1403.6 352.4,1405.3 353.3,1407.1 354.2,1407.1 355.1,1405.5 356.0,1404.0 356.9,1402.5 357.8,1402.0 358.7,1401.3 359.6,1400.1 360.5,1398.9 361.4,1397.9 362.3,1397.8 363.2,1397.7 364.1,1398.6 365.0,1399.4 365.9,1399.3 366.8,1396.8 367.7,1394.2 368.6,1392.4 369.5,1393.5 370.4,1396.0 371.3,1397.3 372.2,1396.1 373.1,1395.6 374.0,1397.6 374.9,1399.8 375.8,1401.0 376.7,1399.9 377.6,1399.2 378.5,1397.9 379.4,1397.8 380.3,1399.1 381.2,1400.2 382.1,1400.5 383.0,1400.7 383.9,1400.6 384.8,1400.6 385.7,1399.1 386.6,1398.4 387.5,1397.3 388.4,1396.5 389.3,1395.0 390.2,1395.3 391.1,1395.5 392.0,1397.1 392.9,1397.0 393.8,1398.2 394.7,1398.1 395.6,1399.2 396.5,1399.3 397.4,1399.1 398.3,1398.5 399.2,1399.3 400.1,1399.7 401.0,1401.1 401.9,1401.2 402.8,1402.7 403.7,1402.9 404.6,1402.8 405.5,1401.9 406.4,1400.9 407.3,1401.0 408.2,1400.6 409.1,1399.7 410.0,1398.5 410.9,1397.3 411.8,1397.3 412.7,1397.3 413.6,1398.2 414.5,1399.6 415.4,1400.3 416.3,1400.7 417.2,1399.6 418.1,1399.3 419.0,1398.1 419.9,1397.7 420.8,1397.4 421.7,1398.3 422.6,1399.1 423.5,1399.6 424.4,1399.9 425.3,1400.1 426.2,1400.6 427.1,1400.6 428.0,1400.0 428.9,1400.3 429.8,1399.7 430.7,1400.2 431.6,1399.9 432.5,1399.6 433.4,1399.7 434.3,1399.9 435.2,1400.6 436.1,1400.9 437.0,1400.4 437.9,1399.9 438.8,1399.7 439.7,1399.5 440.6,1399.9 441.5,1399.5 442.4,1399.9 443.3,1399.6 444.2,1399.7 445.1,1400.2 446.0,1400.4 446.9,1400.4 447.8,1400.1 448.7,1400.4 449.6,1401.1 450.5,1401.2 451.4,1401.4 452.3,1401.2 453.2,1401.8 454.1,1401.9 455.0,1401.9 455.9,1401.9 456.8,1400.9 457.7,1400.4 458.6,1399.8 459.5,1400.0 460.4,1399.8 461.3,1399.7 462.2,1399.9 463.1,1400.3 464.0,1399.9 464.9,1399.8 465.8,1399.4 466.7,1399.2 467.6,1398.9 468.5,1399.4 469.4,1399.1 470.3,1399.5 471.2,1399.2 472.1,1400.2 473.0,1400.4 473.9,1401.0 474.8,1401.0 475.7,1400.2 476.6,1399.9 477.5,1399.3 478.4,1399.6 479.3,1399.1 480.2,1399.3 481.1,1400.2 482.0,1400.5 482.9,1401.4 483.8,1400.8 484.7,1401.0 485.6,1400.9 486.5,1401.3 487.4,1401.7 488.3,1401.4 489.2,1401.9 490.1,1401.2 491.0,1400.8 491.9,1400.3 492.8,1401.5 493.7,1401.4 494.6,1401.2 495.5,1400.6 496.4,1400.6 497.3,1400.3 498.2,1398.4 499.1,1397.4 500.0,1396.2 500.9,1397.1 501.8,1397.8 502.7,1398.0 503.6,1397.7 504.5,1397.0 505.4,1396.6 506.3,1396.7 507.2,1396.9 508.1,1397.8 509.0,1398.9 509.9,1400.2 510.8,1400.9 511.7,1400.2 512.6,1399.6 513.5,1399.7 514.4,1400.5 515.3,1400.8 516.2,1400.2 517.1,1400.8 518.0,1401.1 518.9,1402.0 519.8,1401.2 520.7,1400.3 521.6,1399.9 522.5,1400.1 523.4,1400.8 524.3,1400.4 525.2,1399.9 526.1,1399.5 527.0,1398.9 527.9,1398.8 528.8,1399.3 529.7,1400.4 530.6,1400.2 531.5,1399.8 532.4,1398.7 533.3,1398.4 534.2,1398.5 535.1,1399.4 536.0,1399.5 536.9,1399.2 537.8,1399.0 538.7,1399.9 539.6,1400.1 540.5,1400.3 541.4,1400.2 542.3,1400.2 543.2,1399.5 544.1,1398.9 545.0,1398.1 545.9,1398.3 546.8,1398.8 547.7,1399.6 548.6,1400.1 549.5,1400.2 550.4,1400.5 551.3,1400.7 552.2,1401.1 553.1,1401.1 554.0,1401.3 554.9,1401.1 555.8,1401.3 556.7,1401.3 557.6,1400.9 558.5,1400.1 559.4,1399.6 560.3,1400.2 561.2,1400.8 562.1,1400.1 563.0,1399.7 563.9,1399.2 564.8,1400.0 565.7,1399.1 566.6,1398.5 567.5,1398.6 568.4,1398.9 569.3,1399.8 570.2,1399.5 571.1,1399.1 572.0,1399.9 572.9,1399.5 573.8,1400.4 574.7,1399.6 575.6,1400.2 576.5,1399.3 577.4,1398.8 578.3,1398.7 579.2,1399.7 580.1,1399.8 581.0,1400.1 581.9,1400.1 582.8,1400.9 583.7,1400.7 584.6,1401.2 585.5,1400.6 586.4,1400.9 587.3,1400.0 588.2,1399.6 589.1,1398.8 590.0,1398.1 590.9,1397.6 591.8,1397.7 592.7,1398.4 593.6,1399.1 594.5,1399.7 595.4,1399.4 596.3,1399.3 597.2,1398.7 598.1,1398.7 599.0,1398.3 599.9,1399.0 600.8,1399.9 601.7,1401.1 602.6,1401.9 603.5,1402.4 604.4,1403.9 605.3,1404.2 606.2,1404.5 607.1,1403.8 608.0,1402.9 608.9,1401.5 609.8,1400.0 610.7,1399.5 611.6,1400.0 612.5,1400.7 613.4,1400.6 614.3,1400.1 615.2,1399.8 616.1,1399.4 617.0,1399.4 617.9,1398.6 618.8,1398.5 619.7,1397.6 620.6,1398.3 621.5,1398.1 622.4,1399.1 623.3,1398.7 624.2,1399.2 625.1,1399.4 626.0,1399.7 626.9,1399.8 627.8,1399.8 628.7,1400.4 629.6,1400.4 630.5,1400.8 631.4,1400.9 632.3,1401.0 633.2,1400.8 634.1,1400.6 635.0,1400.9 635.9,1400.8 636.8,1401.0 637.7,1400.7 638.6,1402.0 639.5,1402.5 640.4,1404.1 641.3,1403.5 642.2,1401.9 643.1,1396.6 644.0,1391.5 644.9,1387.9 645.8,1387.0 646.7,1387.9 647.6,1388.7 648.5,1390.2 649.4,1392.1 650.3,1395.3 651.2,1398.0 652.1,1400.7 653.0,1401.8 653.9,1402.6 654.8,1401.7 655.7,1401.7 656.6,1401.4 657.5,1401.1 658.4,1399.7 659.3,1399.4 660.2,1398.9 661.1,1399.6 662.0,1399.9 662.9,1399.2 663.8,1398.6 664.7,1397.5 665.6,1398.2 666.5,1398.1 667.4,1398.4 668.3,1398.6 669.2,1399.2 670.1,1399.9 671.0,1400.6 671.9,1400.5 672.8,1399.8 673.7,1399.0 674.6,1398.9 675.5,1399.5 676.4,1399.8 677.3,1400.6 678.2,1401.8 679.1,1402.9 680.0,1402.3 680.9,1400.9 681.8,1399.5 682.7,1398.7 683.6,1398.5 684.5,1397.5 685.4,1396.2 686.3,1394.1 687.2,1393.2 688.1,1394.3 689.0,1395.7 689.9,1397.7 690.8,1399.5 691.7,1402.0 692.6,1405.0 693.5,1408.0 694.4,1410.3 695.3,1409.2 696.2,1406.5 697.1,1402.8 698.0,1401.3 698.9,1400.6 699.8,1401.3 700.7,1401.6 701.6,1402.2 702.5,1403.0 703.4,1403.5 704.3,1403.6 705.2,1403.0 706.1,1402.6 707.0,1401.4 707.9,1399.9 708.8,1399.1 709.7,1399.2 710.6,1399.9 711.5,1399.7 712.4,1399.8 713.3,1399.6 714.2,1400.2 715.1,1400.2 716.0,1401.0 716.9,1401.7 717.8,1402.7 718.7,1402.9 719.6,1402.5 720.5,1401.4 721.4,1400.6 722.3,1398.5 723.2,1397.9 724.1,1397.7 725.0,1399.1 725.9,1400.6 726.8,1401.7 727.7,1403.5 728.6,1404.6 729.5,1406.9 730.4,1408.5 731.3,1410.3 732.2,1409.3 733.1,1406.9 734.0,1403.6 734.9,1402.2 735.8,1401.2 736.7,1401.4 737.6,1401.6 738.5,1402.0 739.4,1401.8 740.3,1402.3 741.2,1402.4 742.1,1402.5 743.0,1402.7 743.9,1402.8 744.8,1402.9 745.7,1403.1 746.6,1404.0 747.5,1405.3 748.4,1406.4 749.3,1406.7 750.2,1407.7 751.1,1408.1 752.0,1409.8 752.9,1410.6 753.8,1409.4 754.7,1404.7 755.6,1396.0 756.5,1385.7 757.4,1374.7 758.3,1364.8 759.2,1358.5 760.1,1356.9 761.0,1365.6 761.9,1380.6 762.8,1396.3 763.7,1406.3 764.6,1409.0 765.5,1409.0 766.4,1405.9 767.3,1403.7 768.2,1401.7 769.1,1400.7 770.0,1400.0 770.9,1399.5 771.8,1399.0 772.7,1398.5 773.6,1398.3 774.5,1399.9 775.4,1403.1 776.3,1407.7 777.2,1411.4 778.1,1410.3 779.0,1404.2 779.9,1395.8 780.8,1390.9 781.7,1392.4 782.6,1398.0 783.5,1403.7 784.4,1405.1 785.3,1401.7 786.2,1394.9 787.1,1386.1 788.0,1375.7 788.9,1369.3 789.8,1373.0 790.7,1385.9 791.6,1403.6 792.5,1419.0 793.4,1431.1 794.3,1434.8 795.2,1431.4 796.1,1420.5 797.0,1407.1 797.9,1390.1 798.8,1372.5 799.7,1353.3 800.6,1334.6 801.5,1319.2 802.4,1309.2 803.3,1305.5 804.2,1307.4 805.1,1315.5 806.0,1325.6 806.9,1334.3 807.8,1335.0 808.7,1330.2 809.6,1322.8 810.5,1316.9 811.4,1316.5 812.3,1322.1 813.2,1335.4 814.1,1352.0 815.0,1368.8 815.9,1383.9 816.8,1392.1 817.7,1388.4 818.6,1372.4 819.5,1348.6 820.4,1324.1 821.3,1301.1 822.2,1283.3 823.1,1273.3 824.0,1269.9 824.9,1272.7 825.8,1277.8 826.7,1287.2 827.6,1300.1 828.5,1315.0 829.4,1329.0 830.3,1341.5 831.2,1350.7 832.1,1356.5 833.0,1360.1 833.9,1364.2 834.8,1369.9 835.7,1373.3 836.6,1374.9 837.5,1374.3 838.4,1373.8 839.3,1373.9 840.2,1374.2 841.1,1374.4 842.0,1375.2 842.9,1378.3 843.8,1383.0 844.7,1388.3 845.6,1391.8 846.5,1393.8 847.4,1393.1 848.3,1391.5 849.2,1392.8 850.1,1396.6 851.0,1401.9 851.9,1405.4 852.8,1406.0 853.7,1402.1 854.6,1394.7 855.5,1386.6 856.4,1383.0 857.3,1385.7 858.2,1392.5 859.1,1399.6 860.0,1405.1 860.9,1408.6 861.8,1410.8 862.7,1407.6 863.6,1399.8 864.5,1383.3 865.4,1360.8 866.3,1334.2 867.2,1308.5 868.1,1288.3 869.0,1275.9 869.9,1272.3 870.8,1276.1 871.7,1284.7 872.6,1298.0 873.5,1313.8 874.4,1330.8 875.3,1347.4 876.2,1359.8 877.1,1368.9 878.0,1374.6 878.9,1380.5 879.8,1387.1 880.7,1392.8 881.6,1398.7 882.5,1404.9 883.4,1407.7 884.3,1404.4 885.2,1393.6 886.1,1380.0 887.0,1367.2 887.9,1357.5 888.8,1352.8 889.7,1353.1 890.6,1357.9 891.5,1364.4 892.4,1371.4 893.3,1377.7 894.2,1382.9 895.1,1386.0 896.0,1386.1 896.9,1384.3 897.8,1381.7 898.7,1379.9 899.6,1379.4 900.5,1381.2 901.4,1385.6 902.3,1390.0 903.2,1392.9 904.1,1391.5 905.0,1386.3 905.9,1380.1 906.8,1375.4 907.7,1373.0 908.6,1371.4 909.5,1371.2 910.4,1372.8 911.3,1376.2 912.2,1380.4 913.1,1385.4 914.0,1390.6 914.9,1393.9 915.8,1395.9 916.7,1395.5 917.6,1395.3 918.5,1394.6 919.4,1394.4 920.3,1395.0 921.2,1396.1 922.1,1397.9 923.0,1399.4 923.9,1401.4 924.8,1403.1 925.7,1405.7 926.6,1408.4 927.5,1411.8 928.4,1415.9 929.3,1420.5 930.2,1424.9 931.1,1427.7 932.0,1429.5 932.9,1428.6 933.8,1425.1 934.7,1418.9 935.6,1413.5 936.5,1406.9 937.4,1402.5 938.3,1399.0 939.2,1398.8 940.1,1398.6 941.0,1399.0 941.9,1399.7 942.8,1400.8 943.7,1401.9 944.6,1403.8 945.5,1406.6 946.4,1409.9 947.3,1413.2 948.2,1416.6 949.1,1419.5 950.0,1421.8 950.9,1423.9 951.8,1426.5 952.7,1428.9 953.6,1429.4 954.5,1427.6 955.4,1423.9 956.3,1420.6 957.2,1417.1 958.1,1413.3 959.0,1408.5 959.9,1404.8 960.8,1401.4 961.7,1398.8 962.6,1397.2 963.5,1396.6 964.4,1396.0 965.3,1395.2 966.2,1395.3 967.1,1396.5 968.0,1398.3 968.9,1399.6 969.8,1399.8 970.7,1399.7 971.6,1399.1 972.5,1399.8 973.4,1399.7 974.3,1400.4 975.2,1399.6 976.1,1397.7 977.0,1395.3 977.9,1392.4 978.8,1390.5 979.7,1388.4 980.6,1387.9 981.5,1387.7 982.4,1389.5 983.3,1391.5 984.2,1393.3 985.1,1394.0 986.0,1394.8 986.9,1395.8 987.8,1397.9 988.7,1399.8 989.6,1402.9 990.5,1405.5 991.4,1408.5 992.3,1411.0 993.2,1412.5 994.1,1412.3 995.0,1411.6 995.9,1409.8 996.8,1408.2 997.7,1405.3 998.6,1402.4 999.5,1399.3 1000.4,1396.9 1001.3,1394.6 1002.2,1393.3 1003.1,1393.0 1004.0,1394.4 1004.9,1396.4 1005.8,1398.2 1006.7,1400.1 1007.6,1402.3 1008.5,1405.0 1009.4,1408.8 1010.3,1414.1 1011.2,1421.8 1012.1,1431.2 1013.0,1440.6 1013.9,1447.9 1014.8,1452.6 1015.7,1451.6 1016.6,1446.5 1017.5,1437.1 1018.4,1427.4 1019.3,1417.1 1020.2,1408.6 1021.1,1402.8 1022.0,1399.0 1022.9,1395.1 1023.8,1393.6 1024.7,1393.4 1025.6,1395.2 1026.5,1396.9 1027.4,1398.9 1028.3,1400.6 1029.2,1400.6 1030.1,1400.8 1031.0,1400.7 1031.9,1401.3 1032.8,1401.4 1033.7,1401.0 1034.6,1399.7 1035.5,1398.7 1036.4,1398.7 1037.3,1399.7 1038.2,1400.2 1039.1,1401.1 1040.0,1401.8 1040.9,1403.9 1041.8,1405.8 1042.7,1406.7 1043.6,1405.2 1044.5,1403.1 1045.4,1400.8 1046.3,1399.7 1047.2,1398.8 1048.1,1400.1 1049.0,1402.4 1049.9,1404.2 1050.8,1404.6 1051.7,1404.3 1052.6,1404.9 1053.5,1406.1 1054.4,1408.1 1055.3,1409.7 1056.2,1411.0 1057.1,1411.1 1058.0,1409.7 1058.9,1408.0 1059.8,1406.2 1060.7,1405.7 1061.6,1404.8 1062.5,1404.1 1063.4,1402.7 1064.3,1401.5 1065.2,1398.9 1066.1,1397.8 1067.0,1396.8 1067.9,1397.8 1068.8,1398.5 1069.7,1399.2 1070.6,1399.1 1071.5,1399.2 1072.4,1398.9 1073.3,1398.4 1074.2,1396.9 1075.1,1396.3 1076.0,1396.1 1076.9,1396.3 1077.8,1396.7 1078.7,1396.3 1079.6,1395.9 1080.5,1395.0 1081.4,1394.5 1082.3,1393.7 1083.2,1393.0 1084.1,1393.1 1085.0,1394.3 1085.9,1395.7 1086.8,1395.9 1087.7,1395.8 1088.6,1395.7 1089.5,1395.6 1090.4,1396.0 1091.3,1396.6 1092.2,1398.5 1093.1,1400.1 1094.0,1402.5 1094.9,1404.6 1095.8,1406.8 1096.7,1408.5 1097.6,1410.2 1098.5,1411.7 1099.4,1413.2 1100.3,1413.0 1101.2,1411.6 1102.1,1409.4 1103.0,1407.1 1103.9,1405.5 1104.8,1403.5 1105.7,1401.4 1106.6,1399.3 1107.5,1398.4 1108.4,1398.0 1109.3,1397.8 1110.2,1396.3 1111.1,1396.5 1112.0,1396.8 1112.9,1397.3 1113.8,1396.4 1114.7,1395.9 1115.6,1395.5 1116.5,1395.2 1117.4,1394.9 1118.3,1394.2 1119.2,1394.2 1120.1,1392.8 1121.0,1393.7 1121.9,1394.2 1122.8,1395.7 1123.7,1397.7 1124.6,1399.9 1125.5,1402.1 1126.4,1403.2 1127.3,1405.4 1128.2,1408.9 1129.1,1412.9 1130.0,1416.7 1130.9,1418.4 1131.8,1417.1 1132.7,1413.8 1133.6,1409.6 1134.5,1406.1 1135.4,1402.6 1136.3,1398.3 1137.2,1394.8 1138.1,1393.0 1139.0,1392.2 1139.9,1391.8 1140.8,1389.4 1141.7,1386.9 1142.6,1385.5 1143.5,1386.8 1144.4,1389.9 1145.3,1391.3 1146.2,1389.4 1147.1,1385.7 1148.0,1383.6 1148.9,1383.3 1149.8,1384.3 1150.7,1383.7 1151.6,1381.5 1152.5,1376.2 1153.4,1373.0 1154.3,1373.4 1155.2,1378.1 1156.1,1383.3 1157.0,1388.2 1157.9,1393.1 1158.8,1397.7 1159.7,1402.2 1160.6,1406.1 1161.5,1408.2 1162.4,1409.3 1163.3,1410.0 1164.2,1411.7 1165.1,1412.1 1166.0,1411.7 1166.9,1409.8 1167.8,1407.3 1168.7,1405.2 1169.6,1403.3 1170.5,1402.1 1171.4,1401.6 1172.3,1401.7 1173.2,1401.9 1174.1,1401.9 1175.0,1401.6 1175.9,1401.1 1176.8,1399.9 1177.7,1399.1 1178.6,1399.2 1179.5,1399.4 1180.4,1400.0 1181.3,1400.8 1182.2,1401.1 1183.1,1399.4 1184.0,1396.6 1184.9,1393.1 1185.8,1389.5 1186.7,1386.0 1187.6,1384.2 1188.5,1383.3 1189.4,1384.1 1190.3,1384.4 1191.2,1384.9 1192.1,1384.5 1193.0,1386.3 1193.9,1389.5 1194.8,1394.0 1195.7,1398.4 1196.6,1402.7 1197.5,1406.7 1198.4,1408.8 1199.3,1409.6 1200.2,1407.2 1201.1,1402.7 1202.0,1398.1 1202.9,1395.3 1203.8,1393.4 1204.7,1390.8 1205.6,1388.3 1206.5,1387.7 1207.4,1388.9 1208.3,1390.8 1209.2,1393.5 1210.1,1397.2 1211.0,1402.3 1211.9,1405.7 1212.8,1406.2 1213.7,1404.4 1214.6,1401.8 1215.5,1397.8 1216.4,1392.8 1217.3,1386.6 1218.2,1382.0 1219.1,1380.4 1220.0,1384.3 1220.9,1392.5 1221.8,1401.7 1222.7,1410.1 1223.6,1417.7 1224.5,1420.6 1225.4,1418.8 1226.3,1412.5 1227.2,1406.0 1228.1,1399.7 1229.0,1396.4 1229.9,1396.9 1230.8,1401.1 1231.7,1403.4 1232.6,1402.1 1233.5,1396.6 1234.4,1393.8 1235.3,1394.5 1236.2,1399.3 1237.1,1404.4 1238.0,1409.9 1238.9,1413.7 1239.8,1415.3 1240.7,1414.1 1241.6,1413.7 1242.5,1414.4 1243.4,1415.1 1244.3,1415.0 1245.2,1414.6 1246.1,1415.4 1247.0,1415.8 1247.9,1416.2 1248.8,1415.5 1249.7,1415.1 1250.6,1413.4 1251.5,1411.8 1252.4,1409.2 1253.3,1407.3 1254.2,1405.9 1255.1,1405.9 1256.0,1405.4 1256.9,1404.9 1257.8,1403.6 1258.7,1403.5 1259.6,1403.5 1260.5,1404.3 1261.4,1404.9 1262.3,1406.2 1263.2,1407.4 1264.1,1407.3 1265.0,1406.8 1265.9,1405.1 1266.8,1404.3 1267.7,1402.9 1268.6,1402.3 1269.5,1401.3 1270.4,1400.9 1271.3,1401.2 1272.2,1401.3 1273.1,1401.6 1274.0,1400.7 1274.9,1400.0 1275.8,1398.8 1276.7,1399.4 1277.6,1400.6 1278.5,1403.7 1279.4,1405.0 1280.3,1407.3 1281.2,1408.3 1282.1,1410.4 1283.0,1409.5 1283.9,1407.3 1284.8,1403.1 1285.7,1399.9 1286.6,1396.8 1287.5,1394.5 1288.4,1392.2 1289.3,1391.2 1290.2,1390.4 1291.1,1391.5 1292.0,1392.9 1292.9,1395.5 1293.8,1397.6 1294.7,1399.5 1295.6,1401.0 1296.5,1401.9 1297.4,1402.3 1298.3,1402.9 1299.2,1402.5 1300.1,1402.6 1301.0,1401.4 1301.9,1402.2 1302.8,1402.5 1303.7,1403.7 1304.6,1403.5 1305.5,1403.2 1306.4,1403.2 1307.3,1404.5 1308.2,1405.3 1309.1,1405.6 1310.0,1404.7 1310.9,1404.8 1311.8,1404.2 1312.7,1404.0 1313.6,1403.3 1314.5,1403.4 1315.4,1403.2 1316.3,1401.9 1317.2,1401.5 1318.1,1401.1 1319.0,1402.7 1319.9,1404.1 1320.8,1405.6 1321.7,1406.1 1322.6,1404.6 1323.5,1402.9 1324.4,1401.2 1325.3,1400.7 1326.2,1400.4 1327.1,1400.3 1328.0,1399.9 1328.9,1399.5 1329.8,1399.9 1330.7,1400.2 1331.6,1400.9 1332.5,1400.7 1333.4,1401.1 1334.3,1401.4 1335.2,1401.0 1336.1,1400.8 1337.0,1400.2 1337.9,1400.7 1338.8,1401.1 1339.7,1401.6 1340.6,1401.9 1341.5,1402.2 1342.4,1402.3 1343.3,1401.8 1344.2,1400.8 1345.1,1400.2 1346.0,1400.9 1346.9,1401.7 1347.8,1402.3 1348.7,1403.0 1349.6,1402.9 1350.5,1403.9 1351.4,1404.3 1352.3,1405.9 1353.2,1406.1 1354.1,1405.7 1355.0,1404.7 1355.9,1404.3 1356.8,1403.1 1357.7,1402.9 1358.6,1402.7 1359.5,1403.6 1360.4,1403.8 1361.3,1405.0 1362.2,1405.2 1363.1,1405.3 1364.0,1403.9 1364.9,1403.1 1365.8,1403.0 1366.7,1403.4 1367.6,1403.9 1368.5,1403.4 1369.4,1402.2 1370.3,1401.3 1371.2,1400.9 1372.1,1400.4 1373.0,1399.1 1373.9,1397.2 1374.8,1395.8 1375.7,1395.1 1376.6,1394.3 1377.5,1393.4 1378.4,1392.7 1379.3,1392.9 1380.2,1393.7 1381.1,1395.5 1382.0,1397.9 1382.9,1400.6 1383.8,1402.0 1384.7,1403.7 1385.6,1405.8 1386.5,1407.3 1387.4,1407.8 1388.3,1406.1 1389.2,1404.4 1390.1,1402.1 1391.0,1400.6 1391.9,1400.3 1392.8,1400.3 1393.7,1400.6 1394.6,1400.0 1395.5,1400.5 1396.4,1401.3 1397.3,1401.9 1398.2,1401.7 1399.1,1400.4 1400.0,1399.7 1400.9,1398.2 1401.8,1397.7 1402.7,1397.6 1403.6,1398.6 1404.5,1399.0 1405.4,1399.4 1406.3,1400.8 1407.2,1401.9 1408.1,1403.5 1409.0,1403.2 1409.9,1403.2 1410.8,1402.3 1411.7,1402.6 1412.6,1402.3 1413.5,1401.9 1414.4,1401.9 1415.3,1401.8 1416.2,1402.1 1417.1,1402.3 1418.0,1402.1 1418.9,1402.3 1419.8,1401.0 1420.7,1400.4 1421.6,1398.9 1422.5,1398.8 1423.4,1398.3 1424.3,1398.3 1425.2,1397.7 1426.1,1397.8 1427.0,1396.8 1427.9,1396.6 1428.8,1395.5 1429.7,1395.3 1430.6,1394.3 1431.5,1394.1 1432.4,1393.7 1433.3,1394.0"/>
<path d="M185.3 35.00H209.8M1408.5 35.00H1433.0M185.3 44.23H197.9M1420.4 44.23H1433.0M185.3 53.46H197.9M1420.4 53.46H1433.0M185.3 62.70H197.9M1420.4 62.70H1433.0M185.3 71.93H197.9M1420.4 71.93H1433.0M185.3 81.16H209.8M1408.5 81.16H1433.0M185.3 90.39H197.9M1420.4 90.39H1433.0M185.3 99.62H197.9M1420.4 99.62H1433.0M185.3 108.86H197.9M1420.4 108.86H1433.0M185.3 118.09H197.9M1420.4 118.09H1433.0M185.3 127.32H209.8M1408.5 127.32H1433.0M185.3 136.55H197.9M1420.4 136.55H1433.0M185.3 145.78H197.9M1420.4 145.78H1433.0M185.3 155.02H197.9M1420.4 155.02H1433.0M185.3 164.25H197.9M1420.4 164.25H1433.0M185.3 173.48H209.8M1408.5 173.48H1433.0M185.3 182.71H197.9M1420.4 182.71H1433.0M185.3 191.94H197.9M1420.4 191.94H1433.0M185.3 201.18H197.9M1420.4 201.18H1433.0M185.3 210.41H197.9M1420.4 210.41H1433.0M185.3 219.64H209.8M1408.5 219.64H1433.0M185.3 228.87H197.9M1420.4 228.87H1433.0M185.3 238.10H197.9M1420.4 238.10H1433.0M185.3 247.34H197.9M1420.4 247.34H1433.0M185.3 256.57H197.9M1420.4 256.57H1433.0M185.3 265.80H209.8M1408.5 265.80H1433.0M190.00 35.0V40.0M190.00 260.8V265.8M313.80 35.0V38.0M313.80 262.8V265.8M437.60 35.0V40.0M437.60 260.8V265.8M561.40 35.0V38.0M561.40 262.8V265.8M685.20 35.0V40.0M685.20 260.8V265.8M809.00 35.0V38.0M809.00 262.8V265.8M932.80 35.0V40.0M932.80 260.8V265.8M1056.60 35.0V38.0M1056.60 262.8V265.8M1180.40 35.0V40.0M1180.40 260.8V265.8M1304.20 35.0V38.0M1304.20 262.8V265.8M1428.00 35.0V42.0M1428.00 258.8V265.8M185.3 277.10H209.8M1408.5 277.10H1433.0M185.3 282.87H197.9M1420.4 282.87H1433.0M185.3 288.64H197.9M1420.4 288.64H1433.0M185.3 294.41H197.9M1420.4 294.41H1433.0M185.3 300.18H197.9M1420.4 300.18H1433.0M185.3 305.95H197.9M1420.4 305.95H1433.0M185.3 311.72H197.9M1420.4 311.72H1433.0M185.3 317.49H197.9M1420.4 317.49H1433.0M185.3 323.26H197.9M1420.4 323.26H1433.0M185.3 329.03H197.9M1420.4 329.03H1433.0M185.3 334.80H209.8M1408.5 334.80H1433.0M185.3 340.57H197.9M1420.4 340.57H1433.0M185.3 346.34H197.9M1420.4 346.34H1433.0M185.3 352.11H197.9M1420.4 352.11H1433.0M185.3 357.88H197.9M1420.4 357.88H1433.0M185.3 363.65H197.9M1420.4 363.65H1433.0M185.3 369.42H197.9M1420.4 369.42H1433.0M185.3 375.19H197.9M1420.4 375.19H1433.0M185.3 380.96H197.9M1420.4 380.96H1433.0M185.3 386.73H197.9M1420.4 386.73H1433.0M185.3 392.50H209.8M1408.5 392.50H1433.0M185.3 398.27H197.9M1420.4 398.27H1433.0M185.3 404.04H197.9M1420.4 404.04H1433.0M185.3 409.81H197.9M1420.4 409.81H1433.0M185.3 415.58H197.9M1420.4 415.58H1433.0M185.3 421.35H197.9M1420.4 421.35H1433.0M185.3 427.12H197.9M1420.4 427.12H1433.0M185.3 432.89H197.9M1420.4 432.89H1433.0M185.3 438.66H197.9M1420.4 438.66H1433.0M185.3 444.43H197.9M1420.4 444.43H1433.0M185.3 450.20H209.8M1408.5 450.20H1433.0M185.3 455.97H197.9M1420.4 455.97H1433.0M185.3 461.74H197.9M1420.4 461.74H1433.0M185.3 467.51H197.9M1420.4 467.51H1433.0M185.3 473.28H197.9M1420.4 473.28H1433.0M185.3 479.05H197.9M1420.4 479.05H1433.0M185.3 484.82H197.9M1420.4 484.82H1433.0M185.3 490.59H197.9M1420.4 490.59H1433.0M185.3 496.36H197.9M1420.4 496.36H1433.0M185.3 502.13H197.9M1420.4 502.13H1433.0M185.3 507.90H209.8M1408.5 507.90H1433.0M190.00 277.1V282.1M190.00 502.9V507.9M313.80 277.1V280.1M313.80 504.9V507.9M437.60 277.1V282.1M437.60 502.9V507.9M561.40 277.1V280.1M561.40 504.9V507.9M685.20 277.1V282.1M685.20 502.9V507.9M809.00 277.1V280.1M809.00 504.9V507.9M932.80 277.1V282.1M932.80 502.9V507.9M1056.60 277.1V280.1M1056.60 504.9V507.9M1180.40 277.1V282.1M1180.40 502.9V507.9M1304.20 277.1V280.1M1304.20 504.9V507.9M1428.00 277.1V284.1M1428.00 500.9V507.9M185.3 519.80H209.8M1408.5 519.80H1433.0M185.3 523.65H197.9M1420.4 523.65H1433.0M185.3 527.49H197.9M1420.4 527.49H1433.0M185.3 531.34H197.9M1420.4 531.34H1433.0M185.3 535.19H197.9M1420.4 535.19H1433.0M185.3 539.03H197.9M1420.4 539.03H1433.0M185.3 542.88H197.9M1420.4 542.88H1433.0M185.3 546.73H197.9M1420.4 546.73H1433.0M185.3 550.57H197.9M1420.4 550.57H1433.0M185.3 554.42H197.9M1420.4 554.42H1433.0M185.3 558.27H209.8M1408.5 558.27H1433.0M185.3 562.11H197.9M1420.4 562.11H1433.0M185.3 565.96H197.9M1420.4 565.96H1433.0M185.3 569.81H197.9M1420.4 569.81H1433.0M185.3 573.65H197.9M1420.4 573.65H1433.0M185.3 577.50H197.9M1420.4 577.50H1433.0M185.3 581.35H197.9M1420.4 581.35H1433.0M185.3 585.19H197.9M1420.4 585.19H1433.0M185.3 589.04H197.9M1420.4 589.04H1433.0M185.3 592.89H197.9M1420.4 592.89H1433.0M185.3 596.73H209.8M1408.5 596.73H1433.0M185.3 600.58H197.9M1420.4 600.58H1433.0M185.3 604.43H197.9M1420.4 604.43H1433.0M185.3 608.27H197.9M1420.4 608.27H1433.0M185.3 612.12H197.9M1420.4 612.12H1433.0M185.3 615.97H197.9M1420.4 615.97H1433.0M185.3 619.81H197.9M1420.4 619.81H1433.0M185.3 623.66H197.9M1420.4 623.66H1433.0M185.3 627.51H197.9M1420.4 627.51H1433.0M185.3 631.35H197.9M1420.4 631.35H1433.0M185.3 635.20H209.8M1408.5 635.20H1433.0M185.3 639.05H197.9M1420.4 639.05H1433.0M185.3 642.89H197.9M1420.4 642.89H1433.0M185.3 646.74H197.9M1420.4 646.74H1433.0M185.3 650.59H197.9M1420.4 650.59H1433.0M185.3 654.43H197.9M1420.4 654.43H1433.0M185.3 658.28H197.9M1420.4 658.28H1433.0M185.3 662.13H197.9M1420.4 662.13H1433.0M185.3 665.97H197.9M1420.4 665.97H1433.0M185.3 669.82H197.9M1420.4 669.82H1433.0M185.3 673.67H209.8M1408.5 673.67H1433.0M185.3 677.51H197.9M1420.4 677.51H1433.0M185.3 681.36H197.9M1420.4 681.36H1433.0M185.3 685.21H197.9M1420.4 685.21H1433.0M185.3 689.05H197.9M1420.4 689.05H1433.0M185.3 692.90H197.9M1420.4 692.90H1433.0M185.3 696.75H197.9M1420.4 696.75H1433.0M185.3 700.59H197.9M1420.4 700.59H1433.0M185.3 704.44H197.9M1420.4 704.44H1433.0M185.3 708.29H197.9M1420.4 708.29H1433.0M185.3 712.13H209.8M1408.5 712.13H1433.0M185.3 715.98H197.9M1420.4 715.98H1433.0M185.3 719.83H197.9M1420.4 719.83H1433.0M185.3 723.67H197.9M1420.4 723.67H1433.0M185.3 727.52H197.9M1420.4 727.52H1433.0M185.3 731.37H197.9M1420.4 731.37H1433.0M185.3 735.21H197.9M1420.4 735.21H1433.0M185.3 739.06H197.9M1420.4 739.06H1433.0M185.3 742.91H197.9M1420.4 742.91H1433.0M185.3 746.75H197.9M1420.4 746.75H1433.0M185.3 750.60H209.8M1408.5 750.60H1433.0M190.00 519.8V524.8M190.00 745.6V750.6M313.80 519.8V522.8M313.80 747.6V750.6M437.60 519.8V524.8M437.60 745.6V750.6M561.40 519.8V522.8M561.40 747.6V750.6M685.20 519.8V524.8M685.20 745.6V750.6M809.00 519.8V522.8M809.00 747.6V750.6M932.80 519.8V524.8M932.80 745.6V750.6M1056.60 519.8V522.8M1056.60 747.6V750.6M1180.40 519.8V524.8M1180.40 745.6V750.6M1304.20 519.8V522.8M1304.20 747.6V750.6M1428.00 519.8V526.8M1428.00 743.6V750.6M185.3 761.50H209.8M1408.5 761.50H1433.0M185.3 766.12H197.9M1420.4 766.12H1433.0M185.3 770.73H197.9M1420.4 770.73H1433.0M185.3 775.35H197.9M1420.4 775.35H1433.0M185.3 779.96H197.9M1420.4 779.96H1433.0M185.3 784.58H197.9M1420.4 784.58H1433.0M185.3 789.20H197.9M1420.4 789.20H1433.0M185.3 793.81H197.9M1420.4 793.81H1433.0M185.3 798.43H197.9M1420.4 798.43H1433.0M185.3 803.04H197.9M1420.4 803.04H1433.0M185.3 807.66H209.8M1408.5 807.66H1433.0M185.3 812.28H197.9M1420.4 812.28H1433.0M185.3 816.89H197.9M1420.4 816.89H1433.0M185.3 821.51H197.9M1420.4 821.51H1433.0M185.3 826.12H197.9M1420.4 826.12H1433.0M185.3 830.74H197.9M1420.4 830.74H1433.0M185.3 835.36H197.9M1420.4 835.36H1433.0M185.3 839.97H197.9M1420.4 839.97H1433.0M185.3 844.59H197.9M1420.4 844.59H1433.0M185.3 849.20H197.9M1420.4 849.20H1433.0M185.3 853.82H209.8M1408.5 853.82H1433.0M185.3 858.44H197.9M1420.4 858.44H1433.0M185.3 863.05H197.9M1420.4 863.05H1433.0M185.3 867.67H197.9M1420.4 867.67H1433.0M185.3 872.28H197.9M1420.4 872.28H1433.0M185.3 876.90H197.9M1420.4 876.90H1433.0M185.3 881.52H197.9M1420.4 881.52H1433.0M185.3 886.13H197.9M1420.4 886.13H1433.0M185.3 890.75H197.9M1420.4 890.75H1433.0M185.3 895.36H197.9M1420.4 895.36H1433.0M185.3 899.98H209.8M1408.5 899.98H1433.0M185.3 904.60H197.9M1420.4 904.60H1433.0M185.3 909.21H197.9M1420.4 909.21H1433.0M185.3 913.83H197.9M1420.4 913.83H1433.0M185.3 918.44H197.9M1420.4 918.44H1433.0M185.3 923.06H197.9M1420.4 923.06H1433.0M185.3 927.68H197.9M1420.4 927.68H1433.0M185.3 932.29H197.9M1420.4 932.29H1433.0M185.3 936.91H197.9M1420.4 936.91H1433.0M185.3 941.52H197.9M1420.4 941.52H1433.0M185.3 946.14H209.8M1408.5 946.14H1433.0M185.3 950.76H197.9M1420.4 950.76H1433.0M185.3 955.37H197.9M1420.4 955.37H1433.0M185.3 959.99H197.9M1420.4 959.99H1433.0M185.3 964.60H197.9M1420.4 964.60H1433.0M185.3 969.22H197.9M1420.4 969.22H1433.0M185.3 973.84H197.9M1420.4 973.84H1433.0M185.3 978.45H197.9M1420.4 978.45H1433.0M185.3 983.07H197.9M1420.4 983.07H1433.0M185.3 987.68H197.9M1420.4 987.68H1433.0M185.3 992.30H209.8M1408.5 992.30H1433.0M190.00 761.5V766.5M190.00 987.3V992.3M313.80 761.5V764.5M313.80 989.3V992.3M437.60 761.5V766.5M437.60 987.3V992.3M561.40 761.5V764.5M561.40 989.3V992.3M685.20 761.5V766.5M685.20 987.3V992.3M809.00 761.5V764.5M809.00 989.3V992.3M932.80 761.5V766.5M932.80 987.3V992.3M1056.60 761.5V764.5M1056.60 989.3V992.3M1180.40 761.5V766.5M1180.40 987.3V992.3M1304.20 761.5V764.5M1304.20 989.3V992.3M1428.00 761.5V768.5M1428.00 985.3V992.3M185.3 1004.20H209.8M1408.5 1004.20H1433.0M185.3 1013.43H197.9M1420.4 1013.43H1433.0M185.3 1022.66H197.9M1420.4 1022.66H1433.0M185.3 1031.90H197.9M1420.4 1031.90H1433.0M185.3 1041.13H197.9M1420.4 1041.13H1433.0M185.3 1050.36H209.8M1408.5 1050.36H1433.0M185.3 1059.59H197.9M1420.4 1059.59H1433.0M185.3 1068.82H197.9M1420.4 1068.82H1433.0M185.3 1078.06H197.9M1420.4 1078.06H1433.0M185.3 1087.29H197.9M1420.4 1087.29H1433.0M185.3 1096.52H209.8M1408.5 1096.52H1433.0M185.3 1105.75H197.9M1420.4 1105.75H1433.0M185.3 1114.98H197.9M1420.4 1114.98H1433.0M185.3 1124.22H197.9M1420.4 1124.22H1433.0M185.3 1133.45H197.9M1420.4 1133.45H1433.0M185.3 1142.68H209.8M1408.5 1142.68H1433.0M185.3 1151.91H197.9M1420.4 1151.91H1433.0M185.3 1161.14H197.9M1420.4 1161.14H1433.0M185.3 1170.38H197.9M1420.4 1170.38H1433.0M185.3 1179.61H197.9M1420.4 1179.61H1433.0M185.3 1188.84H209.8M1408.5 1188.84H1433.0M185.3 1198.07H197.9M1420.4 1198.07H1433.0M185.3 1207.30H197.9M1420.4 1207.30H1433.0M185.3 1216.54H197.9M1420.4 1216.54H1433.0M185.3 1225.77H197.9M1420.4 1225.77H1433.0M185.3 1235.00H209.8M1408.5 1235.00H1433.0M190.00 1004.2V1009.2M190.00 1230.0V1235.0M313.80 1004.2V1007.2M313.80 1232.0V1235.0M437.60 1004.2V1009.2M437.60 1230.0V1235.0M561.40 1004.2V1007.2M561.40 1232.0V1235.0M685.20 1004.2V1009.2M685.20 1230.0V1235.0M809.00 1004.2V1007.2M809.00 1232.0V1235.0M932.80 1004.2V1009.2M932.80 1230.0V1235.0M1056.60 1004.2V1007.2M1056.60 1232.0V1235.0M1180.40 1004.2V1009.2M1180.40 1230.0V1235.0M1304.20 1004.2V1007.2M1304.20 1232.0V1235.0M1428.00 1004.2V1011.2M1428.00 1228.0V1235.0M185.3 1246.00H209.8M1408.5 1246.00H1433.0M185.3 1249.85H197.9M1420.4 1249.85H1433.0M185.3 1253.69H197.9M1420.4 1253.69H1433.0M185.3 1257.54H197.9M1420.4 1257.54H1433.0M185.3 1261.39H197.9M1420.4 1261.39H1433.0M185.3 1265.23H197.9M1420.4 1265.23H1433.0M185.3 1269.08H197.9M1420.4 1269.08H1433.0M185.3 1272.93H197.9M1420.4 1272.93H1433.0M185.3 1276.77H197.9M1420.4 1276.77H1433.0M185.3 1280.62H197.9M1420.4 1280.62H1433.0M185.3 1284.47H209.8M1408.5 1284.47H1433.0M185.3 1288.31H197.9M1420.4 1288.31H1433.0M185.3 1292.16H197.9M1420.4 1292.16H1433.0M185.3 1296.01H197.9M1420.4 1296.01H1433.0M185.3 1299.85H197.9M1420.4 1299.85H1433.0M185.3 1303.70H197.9M1420.4 1303.70H1433.0M185.3 1307.55H197.9M1420.4 1307.55H1433.0M185.3 1311.39H197.9M1420.4 1311.39H1433.0M185.3 1315.24H197.9M1420.4 1315.24H1433.0M185.3 1319.09H197.9M1420.4 1319.09H1433.0M185.3 1322.93H209.8M1408.5 1322.93H1433.0M185.3 1326.78H197.9M1420.4 1326.78H1433.0M185.3 1330.63H197.9M1420.4 1330.63H1433.0M185.3 1334.47H197.9M1420.4 1334.47H1433.0M185.3 1338.32H197.9M1420.4 1338.32H1433.0M185.3 1342.17H197.9M1420.4 1342.17H1433.0M185.3 1346.01H197.9M1420.4 1346.01H1433.0M185.3 1349.86H197.9M1420.4 1349.86H1433.0M185.3 1353.71H197.9M1420.4 1353.71H1433.0M185.3 1357.55H197.9M1420.4 1357.55H1433.0M185.3 1361.40H209.8M1408.5 1361.40H1433.0M185.3 1365.25H197.9M1420.4 1365.25H1433.0M185.3 1369.09H197.9M1420.4 1369.09H1433.0M185.3 1372.94H197.9M1420.4 1372.94H1433.0M185.3 1376.79H197.9M1420.4 1376.79H1433.0M185.3 1380.63H197.9M1420.4 1380.63H1433.0M185.3 1384.48H197.9M1420.4 1384.48H1433.0M185.3 1388.33H197.9M1420.4 1388.33H1433.0M185.3 1392.17H197.9M1420.4 1392.17H1433.0M185.3 1396.02H197.9M1420.4 1396.02H1433.0M185.3 1399.87H209.8M1408.5 1399.87H1433.0M185.3 1403.71H197.9M1420.4 1403.71H1433.0M185.3 1407.56H197.9M1420.4 1407.56H1433.0M185.3 1411.41H197.9M1420.4 1411.41H1433.0M185.3 1415.25H197.9M1420.4 1415.25H1433.0M185.3 1419.10H197.9M1420.4 1419.10H1433.0M185.3 1422.95H197.9M1420.4 1422.95H1433.0M185.3 1426.79H197.9M1420.4 1426.79H1433.0M185.3 1430.64H197.9M1420.4 1430.64H1433.0M185.3 1434.49H197.9M1420.4 1434.49H1433.0M185.3 1438.33H209.8M1408.5 1438.33H1433.0M185.3 1442.18H197.9M1420.4 1442.18H1433.0M185.3 1446.03H197.9M1420.4 1446.03H1433.0M185.3 1449.87H197.9M1420.4 1449.87H1433.0M185.3 1453.72H197.9M1420.4 1453.72H1433.0M185.3 1457.57H197.9M1420.4 1457.57H1433.0M185.3 1461.41H197.9M1420.4 1461.41H1433.0M185.3 1465.26H197.9M1420.4 1465.26H1433.0M185.3 1469.11H197.9M1420.4 1469.11H1433.0M185.3 1472.95H197.9M1420.4 1472.95H1433.0M185.3 1476.80H209.8M1408.5 1476.80H1433.0M190.00 1246.0V1251.0M190.00 1471.8V1476.8M313.80 1246.0V1249.0M313.80 1473.8V1476.8M437.60 1246.0V1251.0M437.60 1471.8V1476.8M561.40 1246.0V1249.0M561.40 1473.8V1476.8M685.20 1246.0V1251.0M685.20 1471.8V1476.8M809.00 1246.0V1249.0M809.00 1473.8V1476.8M932.80 1246.0V1251.0M932.80 1471.8V1476.8M1056.60 1246.0V1249.0M1056.60 1473.8V1476.8M1180.40 1246.0V1251.0M1180.40 1471.8V1476.8M1304.20 1246.0V1249.0M1304.20 1473.8V1476.8M1428.00 1246.0V1253.0M1428.00 1469.8V1476.8" stroke="#1a1a1a" stroke-width="1.3" fill="none"/>
<rect x="185.3" y="35.0" width="1247.7" height="230.8" fill="none" stroke="#1a1a1a" stroke-width="1.6"/>
<rect x="185.3" y="277.1" width="1247.7" height="230.8" fill="none" stroke="#1a1a1a" stroke-width="1.6"/>
<rect x="185.3" y="519.8" width="1247.7" height="230.8" fill="none" stroke="#1a1a1a" stroke-width="1.6"/>
<rect x="185.3" y="761.5" width="1247.7" height="230.8" fill="none" stroke="#1a1a1a" stroke-width="1.6"/>
<rect x="185.3" y="1004.2" width="1247.7" height="230.8" fill="none" stroke="#1a1a1a" stroke-width="1.6"/>
<rect x="185.3" y="1246.0" width="1247.7" height="230.8" fill="none" stroke="#1a1a1a" stroke-width="1.6"/>
<text x="178.0" y="50.4" font-size="26.2" text-anchor="end">15</text>
<text x="178.0" y="90.0" font-size="26.2" text-anchor="end">10</text>
<text x="178.0" y="136.1" font-size="26.2" text-anchor="end">5</text>
<text x="178.0" y="182.3" font-size="26.2" text-anchor="end">0</text>
<text x="178.0" y="228.4" font-size="26.2" text-anchor="end">-5</text>
<text x="178.0" y="265.2" font-size="26.2" text-anchor="end">-10</text>
<text x="178.0" y="292.5" font-size="26.2" text-anchor="end">200</text>
<text x="178.0" y="343.6" font-size="26.2" text-anchor="end">100</text>
<text x="178.0" y="401.3" font-size="26.2" text-anchor="end">0</text>
<text x="178.0" y="459.0" font-size="26.2" text-anchor="end">-100</text>
<text x="178.0" y="507.3" font-size="26.2" text-anchor="end">-200</text>
<text x="178.0" y="535.2" font-size="26.2" text-anchor="end">0.06</text>
<text x="178.0" y="567.1" font-size="26.2" text-anchor="end">0.05</text>
<text x="178.0" y="605.5" font-size="26.2" text-anchor="end">0.04</text>
<text x="178.0" y="644.0" font-size="26.2" text-anchor="end">0.03</text>
<text x="178.0" y="682.5" font-size="26.2" text-anchor="end">0.02</text>
<text x="178.0" y="720.9" font-size="26.2" text-anchor="end">0.01</text>
<text x="178.0" y="750.0" font-size="26.2" text-anchor="end">0.00</text>
<text x="181" y="776.9" font-size="26.2" text-anchor="end">2<tspan font-size="23" dy="0">×</tspan><tspan dy="0">10</tspan><tspan font-size="17" dy="-11">4</tspan></text>
<text x="181" y="816.5" font-size="26.2" text-anchor="end">1<tspan font-size="23" dy="0">×</tspan><tspan dy="0">10</tspan><tspan font-size="17" dy="-11">4</tspan></text>
<text x="178.0" y="862.6" font-size="26.2" text-anchor="end">0</text>
<text x="181" y="908.8" font-size="26.2" text-anchor="end">-1<tspan font-size="23" dy="0">×</tspan><tspan dy="0">10</tspan><tspan font-size="17" dy="-11">4</tspan></text>
<text x="181" y="954.9" font-size="26.2" text-anchor="end">-2<tspan font-size="23" dy="0">×</tspan><tspan dy="0">10</tspan><tspan font-size="17" dy="-11">4</tspan></text>
<text x="181" y="990.8" font-size="26.2" text-anchor="end">-3<tspan font-size="23" dy="0">×</tspan><tspan dy="0">10</tspan><tspan font-size="17" dy="-11">4</tspan></text>
<text x="178.0" y="1019.6" font-size="26.2" text-anchor="end">150</text>
<text x="178.0" y="1059.2" font-size="26.2" text-anchor="end">100</text>
<text x="178.0" y="1105.3" font-size="26.2" text-anchor="end">50</text>
<text x="178.0" y="1151.5" font-size="26.2" text-anchor="end">0</text>
<text x="178.0" y="1197.6" font-size="26.2" text-anchor="end">-50</text>
<text x="178.0" y="1234.4" font-size="26.2" text-anchor="end">-100</text>
<text x="178.0" y="1261.4" font-size="26.2" text-anchor="end">4</text>
<text x="178.0" y="1293.3" font-size="26.2" text-anchor="end">3</text>
<text x="178.0" y="1331.7" font-size="26.2" text-anchor="end">2</text>
<text x="178.0" y="1370.2" font-size="26.2" text-anchor="end">1</text>
<text x="178.0" y="1408.7" font-size="26.2" text-anchor="end">0</text>
<text x="178.0" y="1447.1" font-size="26.2" text-anchor="end">-1</text>
<text x="178.0" y="1476.2" font-size="26.2" text-anchor="end">-2</text>
<text x="190.0" y="1510.0" font-size="26.2" text-anchor="middle">-21.9</text>
<text x="190.0" y="1531.7" font-size="26.2" text-anchor="middle">6.4</text>
<text x="190.0" y="1553.5" font-size="26.2" text-anchor="middle">1.6</text>
<text x="190.0" y="1575.3" font-size="26.2" text-anchor="middle">54</text>
<text x="437.6" y="1510.0" font-size="26.2" text-anchor="middle">-21.9</text>
<text x="437.6" y="1531.7" font-size="26.2" text-anchor="middle">6.4</text>
<text x="437.6" y="1553.5" font-size="26.2" text-anchor="middle">1.6</text>
<text x="437.6" y="1575.3" font-size="26.2" text-anchor="middle">56</text>
<text x="685.2" y="1510.0" font-size="26.2" text-anchor="middle">-21.9</text>
<text x="685.2" y="1531.7" font-size="26.2" text-anchor="middle">6.4</text>
<text x="685.2" y="1553.5" font-size="26.2" text-anchor="middle">1.6</text>
<text x="685.2" y="1575.3" font-size="26.2" text-anchor="middle">58</text>
<text x="932.8" y="1510.0" font-size="26.2" text-anchor="middle">-21.9</text>
<text x="932.8" y="1531.7" font-size="26.2" text-anchor="middle">6.4</text>
<text x="932.8" y="1553.5" font-size="26.2" text-anchor="middle">1.6</text>
<text x="932.8" y="1575.3" font-size="26.2" text-anchor="middle">00</text>
<text x="1180.4" y="1510.0" font-size="26.2" text-anchor="middle">-21.9</text>
<text x="1180.4" y="1531.7" font-size="26.2" text-anchor="middle">6.4</text>
<text x="1180.4" y="1553.5" font-size="26.2" text-anchor="middle">1.6</text>
<text x="1180.4" y="1575.3" font-size="26.2" text-anchor="middle">02</text>
<text x="1428.0" y="1510.0" font-size="26.2" text-anchor="middle">-21.9</text>
<text x="1428.0" y="1531.7" font-size="26.2" text-anchor="middle">6.4</text>
<text x="1428.0" y="1553.5" font-size="26.2" text-anchor="middle">1.6</text>
<text x="1428.0" y="1575.3" font-size="26.2" text-anchor="middle">04</text>
<text x="190.0" y="1597.1" font-size="26.2" text-anchor="middle">0438</text>
<text x="932.8" y="1597.1" font-size="26.2" text-anchor="middle">0439</text>
<text x="33.0" y="1531.7" font-size="26.2" text-anchor="start">x</text>
<text x="33.0" y="1553.5" font-size="26.2" text-anchor="start">y</text>
<text x="33.0" y="1575.3" font-size="26.2" text-anchor="start">z</text>
<text x="33.0" y="1597.1" font-size="26.2" text-anchor="start">Seconds</text>
<text x="33.0" y="1618.9" font-size="26.2" text-anchor="start">2019 Sep 06</text>
<text transform="translate(184.8,26.8) scale(1.075,1)" font-size="35">MMS3</text>
<text x="208.0" y="72.5" font-size="32">(a)</text>
<text x="210.0" y="315.3" font-size="35">(b)</text>
<text x="208.0" y="555.0" font-size="32">(c)</text>
<text x="207.0" y="799.0" font-size="35">(d)</text>
<text x="207.0" y="1041.0" font-size="35">(e)</text>
<text x="208.0" y="1281.0" font-size="32">(f)</text>
<text transform="translate(794.8,71) scale(0.84,1)" font-size="36">EDR</text>
<text x="1448" y="74.0" font-size="27.0" style="color:#ff4500">L</text>
<text x="1448" y="151.0" font-size="27.0" style="color:#32cd32">M</text>
<text x="1448" y="228.0" font-size="27.0" style="color:#00bfff">N</text>
<text x="1448" y="316.1" font-size="27.0" style="color:#ff4500">L</text>
<text x="1448" y="393.1" font-size="27.0" style="color:#32cd32">M</text>
<text x="1448" y="470.1" font-size="27.0" style="color:#00bfff">N</text>
<text x="1448" y="800.5" font-size="27.0" style="color:#ff4500">L</text>
<text x="1448" y="877.5" font-size="27.0" style="color:#32cd32">M</text>
<text x="1448" y="954.5" font-size="27.0" style="color:#00bfff">N</text>
<text x="1448" y="1043.2" font-size="27.0" style="color:#ff4500">L</text>
<text x="1448" y="1120.2" font-size="27.0" style="color:#32cd32">M</text>
<text x="1448" y="1197.2" font-size="27.0" style="color:#00bfff">N</text>
<text x="1448" y="1285.0" font-size="27.0" style="color:#000">tot</text>
<text x="1448" y="1362.0" font-size="27.0" style="color:#ff4500">para</text>
<text x="1448" y="1439.0" font-size="27.0" style="color:#00bfff">perp</text>
<text transform="translate(26.0,149.5) rotate(-90)" font-size="31.5" text-anchor="middle">B</text>
<text transform="translate(56.4,147.5) rotate(-90)" font-size="31.5" text-anchor="middle">[nT]</text>
<text transform="translate(31.0,395.5) rotate(-90)" font-size="31.5" text-anchor="middle">E</text>
<text transform="translate(60.0,392.0) rotate(-90)" font-size="31.5" text-anchor="middle">[mV m<tspan font-size="18" dy="-11">-1</tspan><tspan dy="11">]</tspan></text>
<text transform="translate(23.0,657.0) rotate(-90)" font-size="31.5" text-anchor="middle">Ne</text>
<text transform="translate(60.0,654.0) rotate(-90)" font-size="31.5" text-anchor="middle">[cm<tspan font-size="18" dy="-11">-3</tspan><tspan dy="11">]</tspan></text>
<text transform="translate(38.0,880.5) rotate(-90)" font-size="31.5" text-anchor="middle">Ve</text>
<text transform="translate(63.0,879.5) rotate(-90)" font-size="31.5" text-anchor="middle">[km s<tspan font-size="18" dy="-11">-1</tspan><tspan dy="11">]</tspan></text>
<text transform="translate(37.0,1126.0) rotate(-90)" font-size="31.5" text-anchor="middle">J</text>
<text transform="translate(65.0,1118.0) rotate(-90)" font-size="31.5" text-anchor="middle">[nA m<tspan font-size="18" dy="-11">-2</tspan><tspan dy="11">]</tspan></text>
<text transform="translate(42.0,1345.0) rotate(-90)" font-size="31.5" text-anchor="middle">J <tspan dx="-2">·</tspan><tspan dx="-4">E′</tspan></text>
<text transform="translate(69.0,1353.5) rotate(-90)" font-size="31.5" text-anchor="middle">[nW m<tspan font-size="18" dy="-11">-3</tspan><tspan dy="11">]</tspan></text>
<text x="898" y="455.8" font-size="31.5" font-style="italic">Large <tspan style="color:#00bfff">E</tspan><tspan style="color:#00bfff" font-size="18" dy="10.5">N</tspan><tspan dy="-10.5"> and </tspan><tspan style="color:#32cd32">E</tspan><tspan style="color:#32cd32" font-size="18" dy="10.5">M</tspan></text>
<text x="899.5" y="703.7" font-size="31.5" font-style="italic">Low plsams density</text>
<text x="908" y="954" font-size="31.5" font-style="italic">Fast <tspan font-weight="bold">electron jets</tspan> in <tspan style="color:#ff4500">L</tspan> and <tspan style="color:#32cd32">M</tspan></text>
<text x="919" y="1281.5" font-size="31.5" font-style="italic" font-weight="bold">positive energy conversion</text>
<text x="919" y="1320.5" font-size="31.5" font-style="italic">dominated by perpendicular</text>
<text x="919" y="1359" font-size="31.5" font-style="italic">contribution</text>
</svg></body></html>
